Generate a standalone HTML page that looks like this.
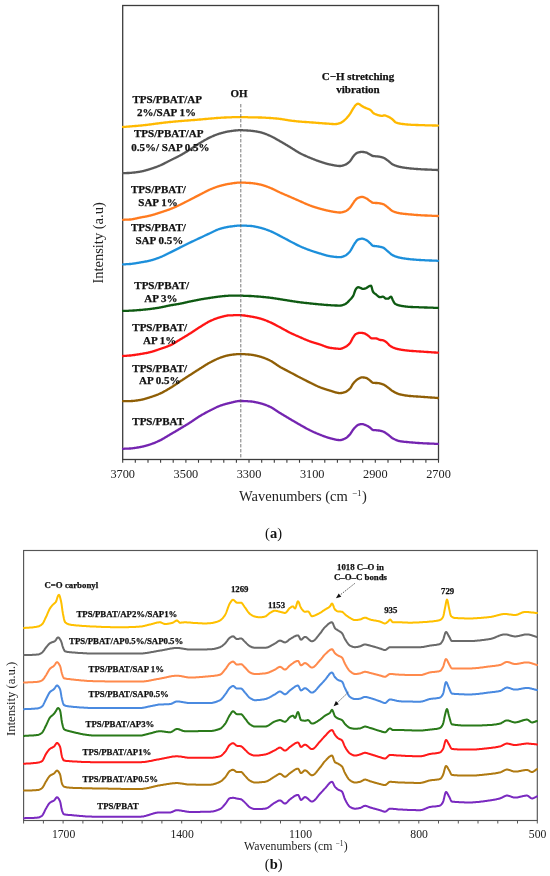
<!DOCTYPE html>
<html><head><meta charset="utf-8"><style>
html,body{margin:0;padding:0;background:#fff;}
body{width:550px;height:876px;overflow:hidden;position:relative;}
svg{position:absolute;left:0;top:0;will-change:transform;}
text{font-family:"Liberation Serif",serif;fill:#111;}
.la{font-weight:bold;font-size:11.0px;stroke:#111;stroke-width:0.25px;}
.lb{font-weight:bold;font-size:8.8px;stroke:#111;stroke-width:0.25px;}
.tk{font-size:12.3px;fill:#222;}
.tkb{font-size:11.7px;fill:#222;}
.ax{font-size:14.5px;fill:#222;}
.axb{font-size:11.8px;fill:#222;}
.axb2{font-size:12.7px;fill:#222;}
.cap{font-size:14.5px;fill:#111;}
</style></head><body>
<svg width="550" height="876" viewBox="0 0 550 876">
<rect x="122.7" y="5.5" width="315.8" height="454" fill="none" stroke="#3c3c3c" stroke-width="1.3"/>
<path d="M122.7,459.5 V462.8 M135.3,459.5 V462.8 M148.0,459.5 V462.8 M160.6,459.5 V462.8 M173.2,459.5 V462.8 M185.9,459.5 V462.8 M198.5,459.5 V462.8 M211.1,459.5 V462.8 M223.8,459.5 V462.8 M236.4,459.5 V462.8 M249.0,459.5 V462.8 M261.7,459.5 V462.8 M274.3,459.5 V462.8 M286.9,459.5 V462.8 M299.5,459.5 V462.8 M312.2,459.5 V462.8 M324.8,459.5 V462.8 M337.4,459.5 V462.8 M350.1,459.5 V462.8 M362.7,459.5 V462.8 M375.3,459.5 V462.8 M388.0,459.5 V462.8 M400.6,459.5 V462.8 M413.2,459.5 V462.8 M425.9,459.5 V462.8 M438.5,459.5 V462.8" stroke="#3c3c3c" stroke-width="1.1" fill="none"/>
<path d="M123.0,127.0 L123.5,127.0 L124.0,126.9 L124.5,126.9 L125.0,126.8 L125.5,126.8 L126.0,126.8 L126.5,126.7 L127.0,126.7 L127.5,126.6 L128.0,126.6 L128.5,126.6 L129.0,126.5 L129.5,126.5 L130.0,126.4 L130.5,126.4 L131.0,126.4 L131.5,126.3 L132.0,126.3 L132.5,126.2 L133.0,126.2 L133.5,126.2 L134.0,126.1 L134.5,126.1 L135.0,126.0 L135.5,126.0 L136.0,126.0 L136.5,125.9 L137.0,125.9 L137.5,125.8 L138.0,125.8 L138.5,125.7 L139.0,125.7 L139.5,125.6 L140.0,125.6 L140.5,125.6 L141.0,125.5 L141.5,125.5 L142.0,125.4 L142.5,125.3 L143.0,125.3 L143.5,125.2 L144.0,125.2 L144.5,125.1 L145.0,125.1 L145.5,125.0 L146.0,125.0 L146.5,124.9 L147.0,124.8 L147.5,124.8 L148.0,124.7 L148.5,124.6 L149.0,124.6 L149.5,124.5 L150.0,124.5 L150.5,124.4 L151.0,124.3 L151.5,124.3 L152.0,124.2 L152.5,124.1 L153.0,124.1 L153.5,124.0 L154.0,123.9 L154.5,123.9 L155.0,123.8 L155.5,123.7 L156.0,123.7 L156.5,123.6 L157.0,123.5 L157.5,123.5 L158.0,123.4 L158.5,123.4 L159.0,123.3 L159.5,123.2 L160.0,123.2 L160.5,123.1 L161.0,123.0 L161.5,123.0 L162.0,122.9 L162.5,122.8 L163.0,122.8 L163.5,122.7 L164.0,122.7 L164.5,122.6 L165.0,122.5 L165.5,122.5 L166.0,122.4 L166.5,122.4 L167.0,122.3 L167.5,122.3 L168.0,122.2 L168.5,122.2 L169.0,122.1 L169.5,122.0 L170.0,122.0 L170.5,122.0 L171.0,121.9 L171.5,121.9 L172.0,121.8 L172.5,121.8 L173.0,121.7 L173.5,121.7 L174.0,121.6 L174.5,121.6 L175.0,121.5 L175.5,121.5 L176.0,121.4 L176.5,121.4 L177.0,121.4 L177.5,121.3 L178.0,121.3 L178.5,121.2 L179.0,121.2 L179.5,121.1 L180.0,121.1 L180.5,121.1 L181.0,121.0 L181.5,121.0 L182.0,120.9 L182.5,120.9 L183.0,120.9 L183.5,120.8 L184.0,120.8 L184.5,120.7 L185.0,120.7 L185.5,120.7 L186.0,120.6 L186.5,120.6 L187.0,120.6 L187.5,120.5 L188.0,120.5 L188.5,120.4 L189.0,120.4 L189.5,120.4 L190.0,120.3 L190.5,120.3 L191.0,120.2 L191.5,120.2 L192.0,120.2 L192.5,120.1 L193.0,120.1 L193.5,120.0 L194.0,120.0 L194.5,120.0 L195.0,119.9 L195.5,119.9 L196.0,119.8 L196.5,119.8 L197.0,119.8 L197.5,119.7 L198.0,119.7 L198.5,119.6 L199.0,119.6 L199.5,119.5 L200.0,119.5 L200.5,119.5 L201.0,119.4 L201.5,119.4 L202.0,119.3 L202.5,119.3 L203.0,119.2 L203.5,119.2 L204.0,119.1 L204.5,119.1 L205.0,119.0 L205.5,119.0 L206.0,119.0 L206.5,118.9 L207.0,118.9 L207.5,118.8 L208.0,118.8 L208.5,118.7 L209.0,118.7 L209.5,118.6 L210.0,118.6 L210.5,118.6 L211.0,118.5 L211.5,118.5 L212.0,118.4 L212.5,118.4 L213.0,118.3 L213.5,118.3 L214.0,118.3 L214.5,118.2 L215.0,118.2 L215.5,118.1 L216.0,118.1 L216.5,118.0 L217.0,118.0 L217.5,118.0 L218.0,117.9 L218.5,117.9 L219.0,117.9 L219.5,117.8 L220.0,117.8 L220.5,117.8 L221.0,117.7 L221.5,117.7 L222.0,117.7 L222.5,117.6 L223.0,117.6 L223.5,117.6 L224.0,117.6 L224.5,117.5 L225.0,117.5 L225.5,117.5 L226.0,117.5 L226.5,117.4 L227.0,117.4 L227.5,117.4 L228.0,117.4 L228.5,117.3 L229.0,117.3 L229.5,117.3 L230.0,117.3 L230.5,117.3 L231.0,117.3 L231.5,117.3 L232.0,117.2 L232.5,117.2 L233.0,117.2 L233.5,117.2 L234.0,117.2 L234.5,117.2 L235.0,117.2 L235.5,117.2 L236.0,117.1 L236.5,117.1 L237.0,117.1 L237.5,117.1 L238.0,117.1 L238.5,117.1 L239.0,117.1 L239.5,117.1 L240.0,117.1 L240.5,117.1 L241.0,117.1 L241.5,117.1 L242.0,117.1 L242.5,117.1 L243.0,117.1 L243.5,117.1 L244.0,117.2 L244.5,117.2 L245.0,117.2 L245.5,117.2 L246.0,117.2 L246.5,117.2 L247.0,117.2 L247.5,117.2 L248.0,117.3 L248.5,117.3 L249.0,117.3 L249.5,117.3 L250.0,117.3 L250.5,117.3 L251.0,117.3 L251.5,117.3 L252.0,117.3 L252.5,117.3 L253.0,117.4 L253.5,117.4 L254.0,117.4 L254.5,117.4 L255.0,117.4 L255.5,117.4 L256.0,117.4 L256.5,117.4 L257.0,117.4 L257.5,117.4 L258.0,117.4 L258.5,117.5 L259.0,117.5 L259.5,117.5 L260.0,117.5 L260.5,117.5 L261.0,117.5 L261.5,117.5 L262.0,117.6 L262.5,117.6 L263.0,117.6 L263.5,117.6 L264.0,117.7 L264.5,117.7 L265.0,117.7 L265.5,117.7 L266.0,117.8 L266.5,117.8 L267.0,117.8 L267.5,117.8 L268.0,117.9 L268.5,117.9 L269.0,117.9 L269.5,118.0 L270.0,118.0 L270.5,118.0 L271.0,118.1 L271.5,118.1 L272.0,118.1 L272.5,118.2 L273.0,118.2 L273.5,118.3 L274.0,118.3 L274.5,118.3 L275.0,118.4 L275.5,118.4 L276.0,118.5 L276.5,118.5 L277.0,118.6 L277.5,118.6 L278.0,118.7 L278.5,118.7 L279.0,118.8 L279.5,118.8 L280.0,118.9 L280.5,119.0 L281.0,119.0 L281.5,119.1 L282.0,119.2 L282.5,119.3 L283.0,119.3 L283.5,119.4 L284.0,119.5 L284.5,119.6 L285.0,119.7 L285.5,119.8 L286.0,119.9 L286.5,119.9 L287.0,120.0 L287.5,120.1 L288.0,120.2 L288.5,120.3 L289.0,120.4 L289.5,120.4 L290.0,120.5 L290.5,120.6 L291.0,120.6 L291.5,120.7 L292.0,120.8 L292.5,120.8 L293.0,120.9 L293.5,120.9 L294.0,121.0 L294.5,121.0 L295.0,121.1 L295.5,121.2 L296.0,121.2 L296.5,121.3 L297.0,121.3 L297.5,121.4 L298.0,121.4 L298.5,121.5 L299.0,121.5 L299.5,121.6 L300.0,121.6 L300.5,121.6 L301.0,121.7 L301.5,121.7 L302.0,121.8 L302.5,121.8 L303.0,121.8 L303.5,121.9 L304.0,121.9 L304.5,121.9 L305.0,122.0 L305.5,122.0 L306.0,122.0 L306.5,122.1 L307.0,122.1 L307.5,122.1 L308.0,122.2 L308.5,122.2 L309.0,122.2 L309.5,122.3 L310.0,122.3 L310.5,122.3 L311.0,122.4 L311.5,122.4 L312.0,122.5 L312.5,122.5 L313.0,122.5 L313.5,122.6 L314.0,122.6 L314.5,122.7 L315.0,122.7 L315.5,122.7 L316.0,122.8 L316.5,122.8 L317.0,122.9 L317.5,122.9 L318.0,122.9 L318.5,123.0 L319.0,123.0 L319.5,123.1 L320.0,123.1 L320.5,123.1 L321.0,123.2 L321.5,123.2 L322.0,123.2 L322.5,123.3 L323.0,123.3 L323.5,123.4 L324.0,123.4 L324.5,123.4 L325.0,123.5 L325.5,123.5 L326.0,123.5 L326.5,123.6 L327.0,123.6 L327.5,123.6 L328.0,123.7 L328.5,123.7 L329.0,123.7 L329.5,123.8 L330.0,123.8 L330.5,123.8 L331.0,123.9 L331.5,123.9 L332.0,124.0 L332.5,124.0 L333.0,124.0 L333.5,124.1 L334.0,124.1 L334.5,124.1 L335.0,124.1 L335.5,124.1 L336.0,124.0 L336.5,124.0 L337.0,123.9 L337.5,123.8 L338.0,123.7 L338.5,123.5 L339.0,123.4 L339.5,123.3 L340.0,123.1 L340.5,122.9 L341.0,122.7 L341.5,122.4 L342.0,122.1 L342.5,121.7 L343.0,121.4 L343.5,121.0 L344.0,120.6 L344.5,120.1 L345.0,119.7 L345.5,119.3 L346.0,118.8 L346.5,118.3 L347.0,117.7 L347.5,117.1 L348.0,116.5 L348.5,115.9 L349.0,115.3 L349.5,114.6 L350.0,113.9 L350.5,113.1 L351.0,112.3 L351.5,111.4 L352.0,110.5 L352.5,109.6 L353.0,108.8 L353.5,108.0 L354.0,107.3 L354.5,106.5 L355.0,105.8 L355.5,105.3 L356.0,104.8 L356.5,104.4 L357.0,104.1 L357.5,103.8 L358.0,103.7 L358.5,103.8 L359.0,104.0 L359.5,104.3 L360.0,104.6 L360.5,105.0 L361.0,105.4 L361.5,105.8 L362.0,106.1 L362.5,106.4 L363.0,106.6 L363.5,106.9 L364.0,107.2 L364.5,107.4 L365.0,107.6 L365.5,107.9 L366.0,108.1 L366.5,108.3 L367.0,108.5 L367.5,108.7 L368.0,108.8 L368.5,109.0 L369.0,109.2 L369.5,109.4 L370.0,109.7 L370.5,110.0 L371.0,110.5 L371.5,111.0 L372.0,111.6 L372.5,112.2 L373.0,112.7 L373.5,113.2 L374.0,113.5 L374.5,113.8 L375.0,114.0 L375.5,114.2 L376.0,114.4 L376.5,114.6 L377.0,114.8 L377.5,115.0 L378.0,115.1 L378.5,115.2 L379.0,115.4 L379.5,115.5 L380.0,115.6 L380.5,115.7 L381.0,115.8 L381.5,115.9 L382.0,115.9 L382.5,115.8 L383.0,115.7 L383.5,115.5 L384.0,115.4 L384.5,115.4 L385.0,115.5 L385.5,115.6 L386.0,115.8 L386.5,116.0 L387.0,116.2 L387.5,116.4 L388.0,116.6 L388.5,116.8 L389.0,117.1 L389.5,117.3 L390.0,117.6 L390.5,118.0 L391.0,118.3 L391.5,118.6 L392.0,119.0 L392.5,119.4 L393.0,119.9 L393.5,120.4 L394.0,120.9 L394.5,121.4 L395.0,121.9 L395.5,122.2 L396.0,122.5 L396.5,122.7 L397.0,122.9 L397.5,123.0 L398.0,123.2 L398.5,123.3 L399.0,123.4 L399.5,123.5 L400.0,123.6 L400.5,123.7 L401.0,123.8 L401.5,123.8 L402.0,123.9 L402.5,124.0 L403.0,124.0 L403.5,124.1 L404.0,124.2 L404.5,124.2 L405.0,124.3 L405.5,124.3 L406.0,124.4 L406.5,124.4 L407.0,124.5 L407.5,124.5 L408.0,124.6 L408.5,124.6 L409.0,124.6 L409.5,124.7 L410.0,124.7 L410.5,124.7 L411.0,124.8 L411.5,124.8 L412.0,124.8 L412.5,124.8 L413.0,124.9 L413.5,124.9 L414.0,124.9 L414.5,124.9 L415.0,124.9 L415.5,124.9 L416.0,125.0 L416.5,125.0 L417.0,125.0 L417.5,125.0 L418.0,125.0 L418.5,125.1 L419.0,125.1 L419.5,125.1 L420.0,125.1 L420.5,125.1 L421.0,125.1 L421.5,125.1 L422.0,125.2 L422.5,125.2 L423.0,125.2 L423.5,125.2 L424.0,125.2 L424.5,125.2 L425.0,125.3 L425.5,125.3 L426.0,125.3 L426.5,125.3 L427.0,125.3 L427.5,125.3 L428.0,125.3 L428.5,125.3 L429.0,125.4 L429.5,125.4 L430.0,125.4 L430.5,125.4 L431.0,125.4 L431.5,125.4 L432.0,125.4 L432.5,125.5 L433.0,125.5 L433.5,125.5 L434.0,125.5 L434.5,125.5 L435.0,125.5 L435.5,125.5 L436.0,125.5 L436.5,125.6 L437.0,125.6 L437.5,125.6 L438.0,125.6" stroke="#FFB900" stroke-width="2.3" fill="none" stroke-linejoin="round" stroke-linecap="round"/>
<path d="M123.0,173.2 L123.5,173.2 L124.0,173.2 L124.5,173.1 L125.0,173.1 L125.5,173.1 L126.0,173.1 L126.5,173.1 L127.0,173.0 L127.5,173.0 L128.0,173.0 L128.5,173.0 L129.0,173.0 L129.5,172.9 L130.0,172.9 L130.5,172.9 L131.0,172.8 L131.5,172.8 L132.0,172.7 L132.5,172.7 L133.0,172.7 L133.5,172.6 L134.0,172.5 L134.5,172.5 L135.0,172.4 L135.5,172.4 L136.0,172.3 L136.5,172.2 L137.0,172.2 L137.5,172.1 L138.0,172.0 L138.5,171.9 L139.0,171.9 L139.5,171.8 L140.0,171.7 L140.5,171.6 L141.0,171.5 L141.5,171.4 L142.0,171.3 L142.5,171.2 L143.0,171.1 L143.5,171.0 L144.0,170.8 L144.5,170.7 L145.0,170.6 L145.5,170.4 L146.0,170.3 L146.5,170.1 L147.0,170.0 L147.5,169.9 L148.0,169.7 L148.5,169.6 L149.0,169.4 L149.5,169.3 L150.0,169.1 L150.5,168.9 L151.0,168.8 L151.5,168.6 L152.0,168.5 L152.5,168.3 L153.0,168.1 L153.5,168.0 L154.0,167.8 L154.5,167.6 L155.0,167.4 L155.5,167.3 L156.0,167.1 L156.5,166.9 L157.0,166.7 L157.5,166.5 L158.0,166.3 L158.5,166.1 L159.0,165.9 L159.5,165.7 L160.0,165.5 L160.5,165.3 L161.0,165.1 L161.5,164.8 L162.0,164.6 L162.5,164.4 L163.0,164.1 L163.5,163.9 L164.0,163.6 L164.5,163.4 L165.0,163.1 L165.5,162.8 L166.0,162.6 L166.5,162.3 L167.0,162.1 L167.5,161.8 L168.0,161.5 L168.5,161.3 L169.0,161.0 L169.5,160.8 L170.0,160.5 L170.5,160.3 L171.0,160.0 L171.5,159.8 L172.0,159.5 L172.5,159.3 L173.0,159.0 L173.5,158.8 L174.0,158.5 L174.5,158.3 L175.0,158.1 L175.5,157.8 L176.0,157.6 L176.5,157.3 L177.0,157.1 L177.5,156.8 L178.0,156.6 L178.5,156.3 L179.0,156.0 L179.5,155.8 L180.0,155.5 L180.5,155.2 L181.0,154.9 L181.5,154.7 L182.0,154.4 L182.5,154.1 L183.0,153.8 L183.5,153.5 L184.0,153.2 L184.5,152.9 L185.0,152.6 L185.5,152.3 L186.0,152.0 L186.5,151.7 L187.0,151.4 L187.5,151.1 L188.0,150.7 L188.5,150.4 L189.0,150.1 L189.5,149.8 L190.0,149.5 L190.5,149.2 L191.0,148.9 L191.5,148.5 L192.0,148.2 L192.5,147.9 L193.0,147.6 L193.5,147.2 L194.0,146.9 L194.5,146.6 L195.0,146.2 L195.5,145.9 L196.0,145.6 L196.5,145.2 L197.0,144.9 L197.5,144.6 L198.0,144.2 L198.5,143.9 L199.0,143.6 L199.5,143.3 L200.0,143.0 L200.5,142.7 L201.0,142.4 L201.5,142.1 L202.0,141.8 L202.5,141.5 L203.0,141.2 L203.5,140.9 L204.0,140.6 L204.5,140.3 L205.0,140.0 L205.5,139.7 L206.0,139.5 L206.5,139.2 L207.0,138.9 L207.5,138.6 L208.0,138.4 L208.5,138.1 L209.0,137.9 L209.5,137.6 L210.0,137.4 L210.5,137.2 L211.0,136.9 L211.5,136.7 L212.0,136.5 L212.5,136.3 L213.0,136.1 L213.5,135.9 L214.0,135.6 L214.5,135.4 L215.0,135.2 L215.5,135.0 L216.0,134.8 L216.5,134.7 L217.0,134.5 L217.5,134.3 L218.0,134.1 L218.5,134.0 L219.0,133.8 L219.5,133.6 L220.0,133.5 L220.5,133.4 L221.0,133.2 L221.5,133.1 L222.0,132.9 L222.5,132.8 L223.0,132.7 L223.5,132.5 L224.0,132.4 L224.5,132.3 L225.0,132.2 L225.5,132.0 L226.0,131.9 L226.5,131.8 L227.0,131.7 L227.5,131.6 L228.0,131.5 L228.5,131.4 L229.0,131.4 L229.5,131.3 L230.0,131.2 L230.5,131.1 L231.0,131.1 L231.5,131.0 L232.0,130.9 L232.5,130.8 L233.0,130.8 L233.5,130.7 L234.0,130.6 L234.5,130.6 L235.0,130.5 L235.5,130.5 L236.0,130.4 L236.5,130.4 L237.0,130.3 L237.5,130.3 L238.0,130.3 L238.5,130.2 L239.0,130.2 L239.5,130.2 L240.0,130.2 L240.5,130.2 L241.0,130.2 L241.5,130.2 L242.0,130.2 L242.5,130.2 L243.0,130.3 L243.5,130.3 L244.0,130.3 L244.5,130.3 L245.0,130.4 L245.5,130.4 L246.0,130.4 L246.5,130.4 L247.0,130.5 L247.5,130.5 L248.0,130.6 L248.5,130.6 L249.0,130.6 L249.5,130.7 L250.0,130.7 L250.5,130.7 L251.0,130.8 L251.5,130.8 L252.0,130.9 L252.5,130.9 L253.0,131.0 L253.5,131.1 L254.0,131.1 L254.5,131.2 L255.0,131.3 L255.5,131.4 L256.0,131.4 L256.5,131.5 L257.0,131.6 L257.5,131.7 L258.0,131.8 L258.5,131.9 L259.0,132.0 L259.5,132.1 L260.0,132.2 L260.5,132.3 L261.0,132.4 L261.5,132.6 L262.0,132.7 L262.5,132.9 L263.0,133.0 L263.5,133.2 L264.0,133.4 L264.5,133.5 L265.0,133.7 L265.5,133.9 L266.0,134.1 L266.5,134.3 L267.0,134.5 L267.5,134.7 L268.0,134.9 L268.5,135.2 L269.0,135.4 L269.5,135.6 L270.0,135.8 L270.5,136.0 L271.0,136.3 L271.5,136.5 L272.0,136.7 L272.5,137.0 L273.0,137.2 L273.5,137.5 L274.0,137.8 L274.5,138.1 L275.0,138.3 L275.5,138.6 L276.0,138.9 L276.5,139.2 L277.0,139.5 L277.5,139.8 L278.0,140.1 L278.5,140.3 L279.0,140.6 L279.5,140.9 L280.0,141.2 L280.5,141.5 L281.0,141.8 L281.5,142.1 L282.0,142.3 L282.5,142.6 L283.0,142.9 L283.5,143.2 L284.0,143.5 L284.5,143.8 L285.0,144.1 L285.5,144.4 L286.0,144.7 L286.5,145.0 L287.0,145.3 L287.5,145.6 L288.0,145.9 L288.5,146.2 L289.0,146.5 L289.5,146.8 L290.0,147.1 L290.5,147.4 L291.0,147.7 L291.5,148.0 L292.0,148.3 L292.5,148.7 L293.0,149.0 L293.5,149.3 L294.0,149.6 L294.5,149.9 L295.0,150.2 L295.5,150.6 L296.0,150.9 L296.5,151.2 L297.0,151.5 L297.5,151.8 L298.0,152.1 L298.5,152.4 L299.0,152.7 L299.5,152.9 L300.0,153.2 L300.5,153.5 L301.0,153.7 L301.5,154.0 L302.0,154.2 L302.5,154.5 L303.0,154.7 L303.5,154.9 L304.0,155.2 L304.5,155.4 L305.0,155.6 L305.5,155.9 L306.0,156.1 L306.5,156.3 L307.0,156.5 L307.5,156.7 L308.0,157.0 L308.5,157.2 L309.0,157.4 L309.5,157.6 L310.0,157.8 L310.5,158.0 L311.0,158.2 L311.5,158.4 L312.0,158.6 L312.5,158.8 L313.0,159.0 L313.5,159.2 L314.0,159.4 L314.5,159.6 L315.0,159.8 L315.5,160.0 L316.0,160.2 L316.5,160.4 L317.0,160.6 L317.5,160.7 L318.0,160.9 L318.5,161.1 L319.0,161.3 L319.5,161.4 L320.0,161.6 L320.5,161.8 L321.0,161.9 L321.5,162.1 L322.0,162.3 L322.5,162.4 L323.0,162.6 L323.5,162.7 L324.0,162.9 L324.5,163.1 L325.0,163.2 L325.5,163.4 L326.0,163.5 L326.5,163.7 L327.0,163.8 L327.5,163.9 L328.0,164.1 L328.5,164.2 L329.0,164.3 L329.5,164.4 L330.0,164.5 L330.5,164.6 L331.0,164.7 L331.5,164.8 L332.0,164.9 L332.5,165.0 L333.0,165.1 L333.5,165.2 L334.0,165.3 L334.5,165.4 L335.0,165.5 L335.5,165.6 L336.0,165.7 L336.5,165.7 L337.0,165.8 L337.5,165.9 L338.0,165.9 L338.5,165.9 L339.0,166.0 L339.5,166.0 L340.0,166.0 L340.5,166.0 L341.0,165.9 L341.5,165.9 L342.0,165.8 L342.5,165.6 L343.0,165.5 L343.5,165.3 L344.0,165.2 L344.5,165.0 L345.0,164.8 L345.5,164.6 L346.0,164.4 L346.5,164.1 L347.0,163.8 L347.5,163.4 L348.0,163.0 L348.5,162.6 L349.0,162.2 L349.5,161.7 L350.0,161.2 L350.5,160.6 L351.0,159.9 L351.5,159.1 L352.0,158.3 L352.5,157.5 L353.0,156.8 L353.5,156.2 L354.0,155.6 L354.5,155.0 L355.0,154.5 L355.5,154.0 L356.0,153.6 L356.5,153.3 L357.0,152.9 L357.5,152.7 L358.0,152.5 L358.5,152.4 L359.0,152.3 L359.5,152.2 L360.0,152.1 L360.5,152.0 L361.0,151.9 L361.5,151.9 L362.0,151.9 L362.5,151.9 L363.0,152.0 L363.5,152.0 L364.0,152.1 L364.5,152.2 L365.0,152.3 L365.5,152.4 L366.0,152.5 L366.5,152.6 L367.0,152.8 L367.5,153.1 L368.0,153.4 L368.5,153.7 L369.0,153.9 L369.5,154.2 L370.0,154.5 L370.5,154.8 L371.0,155.1 L371.5,155.4 L372.0,155.6 L372.5,155.9 L373.0,156.0 L373.5,156.1 L374.0,156.1 L374.5,156.2 L375.0,156.2 L375.5,156.3 L376.0,156.3 L376.5,156.3 L377.0,156.4 L377.5,156.4 L378.0,156.5 L378.5,156.6 L379.0,156.7 L379.5,156.7 L380.0,156.8 L380.5,156.9 L381.0,157.0 L381.5,157.2 L382.0,157.3 L382.5,157.4 L383.0,157.6 L383.5,157.8 L384.0,158.0 L384.5,158.3 L385.0,158.6 L385.5,158.9 L386.0,159.3 L386.5,159.6 L387.0,160.0 L387.5,160.3 L388.0,160.7 L388.5,161.1 L389.0,161.5 L389.5,161.9 L390.0,162.3 L390.5,162.8 L391.0,163.2 L391.5,163.6 L392.0,164.0 L392.5,164.3 L393.0,164.6 L393.5,164.8 L394.0,165.0 L394.5,165.3 L395.0,165.5 L395.5,165.6 L396.0,165.8 L396.5,166.0 L397.0,166.1 L397.5,166.3 L398.0,166.4 L398.5,166.6 L399.0,166.7 L399.5,166.8 L400.0,166.9 L400.5,167.0 L401.0,167.1 L401.5,167.2 L402.0,167.3 L402.5,167.4 L403.0,167.5 L403.5,167.6 L404.0,167.6 L404.5,167.7 L405.0,167.8 L405.5,167.9 L406.0,167.9 L406.5,168.0 L407.0,168.1 L407.5,168.1 L408.0,168.2 L408.5,168.2 L409.0,168.3 L409.5,168.3 L410.0,168.4 L410.5,168.5 L411.0,168.5 L411.5,168.6 L412.0,168.6 L412.5,168.6 L413.0,168.7 L413.5,168.7 L414.0,168.8 L414.5,168.8 L415.0,168.9 L415.5,168.9 L416.0,168.9 L416.5,169.0 L417.0,169.0 L417.5,169.0 L418.0,169.1 L418.5,169.1 L419.0,169.1 L419.5,169.2 L420.0,169.2 L420.5,169.2 L421.0,169.3 L421.5,169.3 L422.0,169.3 L422.5,169.3 L423.0,169.4 L423.5,169.4 L424.0,169.4 L424.5,169.4 L425.0,169.5 L425.5,169.5 L426.0,169.5 L426.5,169.5 L427.0,169.5 L427.5,169.6 L428.0,169.6 L428.5,169.6 L429.0,169.6 L429.5,169.7 L430.0,169.7 L430.5,169.7 L431.0,169.7 L431.5,169.7 L432.0,169.8 L432.5,169.8 L433.0,169.8 L433.5,169.8 L434.0,169.8 L434.5,169.9 L435.0,169.9 L435.5,169.9 L436.0,169.9 L436.5,169.9 L437.0,170.0 L437.5,170.0 L438.0,170.0" stroke="#595959" stroke-width="2.3" fill="none" stroke-linejoin="round" stroke-linecap="round"/>
<path d="M123.0,219.8 L123.5,219.8 L124.0,219.8 L124.5,219.7 L125.0,219.7 L125.5,219.7 L126.0,219.7 L126.5,219.7 L127.0,219.7 L127.5,219.6 L128.0,219.6 L128.5,219.6 L129.0,219.6 L129.5,219.5 L130.0,219.5 L130.5,219.5 L131.0,219.4 L131.5,219.3 L132.0,219.3 L132.5,219.2 L133.0,219.1 L133.5,219.0 L134.0,218.9 L134.5,218.8 L135.0,218.7 L135.5,218.6 L136.0,218.5 L136.5,218.4 L137.0,218.3 L137.5,218.1 L138.0,218.0 L138.5,217.9 L139.0,217.8 L139.5,217.7 L140.0,217.6 L140.5,217.5 L141.0,217.4 L141.5,217.3 L142.0,217.2 L142.5,217.1 L143.0,217.0 L143.5,216.9 L144.0,216.8 L144.5,216.8 L145.0,216.7 L145.5,216.6 L146.0,216.5 L146.5,216.4 L147.0,216.3 L147.5,216.2 L148.0,216.1 L148.5,215.9 L149.0,215.8 L149.5,215.7 L150.0,215.6 L150.5,215.5 L151.0,215.4 L151.5,215.2 L152.0,215.1 L152.5,214.9 L153.0,214.8 L153.5,214.7 L154.0,214.5 L154.5,214.4 L155.0,214.2 L155.5,214.0 L156.0,213.9 L156.5,213.7 L157.0,213.6 L157.5,213.4 L158.0,213.2 L158.5,213.1 L159.0,212.9 L159.5,212.8 L160.0,212.6 L160.5,212.4 L161.0,212.3 L161.5,212.1 L162.0,212.0 L162.5,211.8 L163.0,211.6 L163.5,211.5 L164.0,211.3 L164.5,211.1 L165.0,211.0 L165.5,210.8 L166.0,210.6 L166.5,210.5 L167.0,210.3 L167.5,210.1 L168.0,209.9 L168.5,209.8 L169.0,209.6 L169.5,209.4 L170.0,209.2 L170.5,209.0 L171.0,208.8 L171.5,208.6 L172.0,208.4 L172.5,208.2 L173.0,208.0 L173.5,207.8 L174.0,207.6 L174.5,207.3 L175.0,207.1 L175.5,206.9 L176.0,206.7 L176.5,206.4 L177.0,206.2 L177.5,206.0 L178.0,205.7 L178.5,205.5 L179.0,205.3 L179.5,205.0 L180.0,204.8 L180.5,204.6 L181.0,204.3 L181.5,204.1 L182.0,203.8 L182.5,203.6 L183.0,203.3 L183.5,203.1 L184.0,202.8 L184.5,202.6 L185.0,202.3 L185.5,202.0 L186.0,201.8 L186.5,201.5 L187.0,201.3 L187.5,201.0 L188.0,200.7 L188.5,200.5 L189.0,200.2 L189.5,200.0 L190.0,199.7 L190.5,199.4 L191.0,199.2 L191.5,198.9 L192.0,198.7 L192.5,198.4 L193.0,198.2 L193.5,197.9 L194.0,197.7 L194.5,197.4 L195.0,197.1 L195.5,196.9 L196.0,196.6 L196.5,196.4 L197.0,196.1 L197.5,195.9 L198.0,195.6 L198.5,195.4 L199.0,195.1 L199.5,194.9 L200.0,194.6 L200.5,194.3 L201.0,194.1 L201.5,193.8 L202.0,193.6 L202.5,193.3 L203.0,193.0 L203.5,192.7 L204.0,192.5 L204.5,192.2 L205.0,191.9 L205.5,191.7 L206.0,191.4 L206.5,191.2 L207.0,190.9 L207.5,190.7 L208.0,190.4 L208.5,190.2 L209.0,189.9 L209.5,189.7 L210.0,189.5 L210.5,189.3 L211.0,189.1 L211.5,188.9 L212.0,188.7 L212.5,188.5 L213.0,188.3 L213.5,188.1 L214.0,187.9 L214.5,187.7 L215.0,187.5 L215.5,187.3 L216.0,187.2 L216.5,187.0 L217.0,186.8 L217.5,186.6 L218.0,186.5 L218.5,186.3 L219.0,186.2 L219.5,186.0 L220.0,185.9 L220.5,185.8 L221.0,185.6 L221.5,185.5 L222.0,185.4 L222.5,185.2 L223.0,185.1 L223.5,185.0 L224.0,184.9 L224.5,184.8 L225.0,184.6 L225.5,184.5 L226.0,184.4 L226.5,184.3 L227.0,184.2 L227.5,184.1 L228.0,184.0 L228.5,183.9 L229.0,183.9 L229.5,183.8 L230.0,183.7 L230.5,183.6 L231.0,183.6 L231.5,183.5 L232.0,183.4 L232.5,183.3 L233.0,183.2 L233.5,183.2 L234.0,183.1 L234.5,183.0 L235.0,183.0 L235.5,182.9 L236.0,182.8 L236.5,182.8 L237.0,182.7 L237.5,182.7 L238.0,182.7 L238.5,182.6 L239.0,182.6 L239.5,182.6 L240.0,182.6 L240.5,182.6 L241.0,182.6 L241.5,182.6 L242.0,182.6 L242.5,182.6 L243.0,182.6 L243.5,182.7 L244.0,182.7 L244.5,182.7 L245.0,182.7 L245.5,182.7 L246.0,182.8 L246.5,182.8 L247.0,182.8 L247.5,182.8 L248.0,182.9 L248.5,182.9 L249.0,182.9 L249.5,183.0 L250.0,183.0 L250.5,183.0 L251.0,183.1 L251.5,183.1 L252.0,183.2 L252.5,183.2 L253.0,183.3 L253.5,183.4 L254.0,183.4 L254.5,183.5 L255.0,183.6 L255.5,183.7 L256.0,183.7 L256.5,183.8 L257.0,183.9 L257.5,184.0 L258.0,184.1 L258.5,184.2 L259.0,184.3 L259.5,184.4 L260.0,184.5 L260.5,184.6 L261.0,184.7 L261.5,184.8 L262.0,185.0 L262.5,185.1 L263.0,185.3 L263.5,185.4 L264.0,185.6 L264.5,185.8 L265.0,185.9 L265.5,186.1 L266.0,186.3 L266.5,186.5 L267.0,186.6 L267.5,186.8 L268.0,187.0 L268.5,187.2 L269.0,187.4 L269.5,187.6 L270.0,187.8 L270.5,188.0 L271.0,188.2 L271.5,188.4 L272.0,188.6 L272.5,188.9 L273.0,189.1 L273.5,189.3 L274.0,189.6 L274.5,189.8 L275.0,190.1 L275.5,190.3 L276.0,190.6 L276.5,190.8 L277.0,191.1 L277.5,191.3 L278.0,191.6 L278.5,191.8 L279.0,192.0 L279.5,192.3 L280.0,192.5 L280.5,192.7 L281.0,192.9 L281.5,193.2 L282.0,193.4 L282.5,193.6 L283.0,193.8 L283.5,194.0 L284.0,194.2 L284.5,194.5 L285.0,194.7 L285.5,194.9 L286.0,195.1 L286.5,195.3 L287.0,195.5 L287.5,195.7 L288.0,195.9 L288.5,196.2 L289.0,196.4 L289.5,196.6 L290.0,196.8 L290.5,197.0 L291.0,197.2 L291.5,197.5 L292.0,197.7 L292.5,197.9 L293.0,198.1 L293.5,198.3 L294.0,198.6 L294.5,198.8 L295.0,199.0 L295.5,199.2 L296.0,199.4 L296.5,199.7 L297.0,199.9 L297.5,200.1 L298.0,200.3 L298.5,200.5 L299.0,200.8 L299.5,201.0 L300.0,201.2 L300.5,201.4 L301.0,201.6 L301.5,201.9 L302.0,202.1 L302.5,202.3 L303.0,202.5 L303.5,202.8 L304.0,203.0 L304.5,203.2 L305.0,203.4 L305.5,203.7 L306.0,203.9 L306.5,204.1 L307.0,204.3 L307.5,204.5 L308.0,204.7 L308.5,204.9 L309.0,205.1 L309.5,205.3 L310.0,205.5 L310.5,205.7 L311.0,205.9 L311.5,206.0 L312.0,206.2 L312.5,206.4 L313.0,206.6 L313.5,206.7 L314.0,206.9 L314.5,207.1 L315.0,207.2 L315.5,207.4 L316.0,207.5 L316.5,207.7 L317.0,207.8 L317.5,208.0 L318.0,208.1 L318.5,208.3 L319.0,208.4 L319.5,208.6 L320.0,208.7 L320.5,208.8 L321.0,209.0 L321.5,209.1 L322.0,209.2 L322.5,209.4 L323.0,209.5 L323.5,209.6 L324.0,209.8 L324.5,209.9 L325.0,210.0 L325.5,210.1 L326.0,210.3 L326.5,210.4 L327.0,210.5 L327.5,210.6 L328.0,210.7 L328.5,210.8 L329.0,210.9 L329.5,211.0 L330.0,211.1 L330.5,211.2 L331.0,211.3 L331.5,211.4 L332.0,211.5 L332.5,211.6 L333.0,211.7 L333.5,211.8 L334.0,211.8 L334.5,211.9 L335.0,212.0 L335.5,212.1 L336.0,212.2 L336.5,212.2 L337.0,212.3 L337.5,212.4 L338.0,212.4 L338.5,212.4 L339.0,212.5 L339.5,212.5 L340.0,212.5 L340.5,212.5 L341.0,212.4 L341.5,212.4 L342.0,212.3 L342.5,212.2 L343.0,212.0 L343.5,211.9 L344.0,211.7 L344.5,211.6 L345.0,211.4 L345.5,211.2 L346.0,211.0 L346.5,210.7 L347.0,210.3 L347.5,210.0 L348.0,209.6 L348.5,209.1 L349.0,208.7 L349.5,208.2 L350.0,207.7 L350.5,207.1 L351.0,206.5 L351.5,205.7 L352.0,204.9 L352.5,204.1 L353.0,203.4 L353.5,202.6 L354.0,201.9 L354.5,201.1 L355.0,200.5 L355.5,200.0 L356.0,199.4 L356.5,198.9 L357.0,198.5 L357.5,198.2 L358.0,197.9 L358.5,197.7 L359.0,197.5 L359.5,197.4 L360.0,197.2 L360.5,197.1 L361.0,197.0 L361.5,196.9 L362.0,196.9 L362.5,196.9 L363.0,197.0 L363.5,197.2 L364.0,197.3 L364.5,197.5 L365.0,197.7 L365.5,198.0 L366.0,198.2 L366.5,198.5 L367.0,198.8 L367.5,199.1 L368.0,199.5 L368.5,199.9 L369.0,200.3 L369.5,200.7 L370.0,201.0 L370.5,201.3 L371.0,201.7 L371.5,202.1 L372.0,202.4 L372.5,202.7 L373.0,202.8 L373.5,202.9 L374.0,202.9 L374.5,202.9 L375.0,202.9 L375.5,203.0 L376.0,203.0 L376.5,203.0 L377.0,203.0 L377.5,203.1 L378.0,203.1 L378.5,203.2 L379.0,203.2 L379.5,203.3 L380.0,203.4 L380.5,203.5 L381.0,203.6 L381.5,203.7 L382.0,203.8 L382.5,204.0 L383.0,204.1 L383.5,204.3 L384.0,204.5 L384.5,204.8 L385.0,205.2 L385.5,205.5 L386.0,205.9 L386.5,206.3 L387.0,206.7 L387.5,207.1 L388.0,207.5 L388.5,207.9 L389.0,208.3 L389.5,208.7 L390.0,209.1 L390.5,209.6 L391.0,210.0 L391.5,210.4 L392.0,210.7 L392.5,211.1 L393.0,211.3 L393.5,211.5 L394.0,211.7 L394.5,211.9 L395.0,212.1 L395.5,212.2 L396.0,212.4 L396.5,212.5 L397.0,212.7 L397.5,212.8 L398.0,212.9 L398.5,213.0 L399.0,213.1 L399.5,213.2 L400.0,213.3 L400.5,213.4 L401.0,213.5 L401.5,213.5 L402.0,213.6 L402.5,213.7 L403.0,213.7 L403.5,213.8 L404.0,213.8 L404.5,213.9 L405.0,213.9 L405.5,214.0 L406.0,214.0 L406.5,214.1 L407.0,214.1 L407.5,214.2 L408.0,214.2 L408.5,214.3 L409.0,214.3 L409.5,214.4 L410.0,214.4 L410.5,214.4 L411.0,214.5 L411.5,214.5 L412.0,214.6 L412.5,214.6 L413.0,214.7 L413.5,214.7 L414.0,214.8 L414.5,214.8 L415.0,214.8 L415.5,214.9 L416.0,214.9 L416.5,215.0 L417.0,215.0 L417.5,215.0 L418.0,215.1 L418.5,215.1 L419.0,215.1 L419.5,215.2 L420.0,215.2 L420.5,215.2 L421.0,215.3 L421.5,215.3 L422.0,215.3 L422.5,215.3 L423.0,215.4 L423.5,215.4 L424.0,215.4 L424.5,215.4 L425.0,215.5 L425.5,215.5 L426.0,215.5 L426.5,215.5 L427.0,215.5 L427.5,215.6 L428.0,215.6 L428.5,215.6 L429.0,215.6 L429.5,215.7 L430.0,215.7 L430.5,215.7 L431.0,215.7 L431.5,215.7 L432.0,215.8 L432.5,215.8 L433.0,215.8 L433.5,215.8 L434.0,215.8 L434.5,215.9 L435.0,215.9 L435.5,215.9 L436.0,215.9 L436.5,215.9 L437.0,216.0 L437.5,216.0 L438.0,216.0" stroke="#FF7A1E" stroke-width="2.3" fill="none" stroke-linejoin="round" stroke-linecap="round"/>
<path d="M123.0,264.4 L123.5,264.4 L124.0,264.3 L124.5,264.3 L125.0,264.3 L125.5,264.3 L126.0,264.2 L126.5,264.2 L127.0,264.2 L127.5,264.2 L128.0,264.1 L128.5,264.1 L129.0,264.1 L129.5,264.0 L130.0,264.0 L130.5,264.0 L131.0,263.9 L131.5,263.9 L132.0,263.8 L132.5,263.7 L133.0,263.7 L133.5,263.6 L134.0,263.5 L134.5,263.4 L135.0,263.4 L135.5,263.3 L136.0,263.2 L136.5,263.1 L137.0,263.0 L137.5,262.9 L138.0,262.8 L138.5,262.8 L139.0,262.7 L139.5,262.6 L140.0,262.5 L140.5,262.4 L141.0,262.3 L141.5,262.2 L142.0,262.2 L142.5,262.1 L143.0,262.0 L143.5,261.9 L144.0,261.8 L144.5,261.7 L145.0,261.6 L145.5,261.5 L146.0,261.5 L146.5,261.4 L147.0,261.3 L147.5,261.2 L148.0,261.1 L148.5,260.9 L149.0,260.8 L149.5,260.7 L150.0,260.6 L150.5,260.5 L151.0,260.3 L151.5,260.2 L152.0,260.1 L152.5,259.9 L153.0,259.8 L153.5,259.6 L154.0,259.5 L154.5,259.3 L155.0,259.1 L155.5,259.0 L156.0,258.8 L156.5,258.6 L157.0,258.4 L157.5,258.2 L158.0,258.1 L158.5,257.9 L159.0,257.7 L159.5,257.5 L160.0,257.3 L160.5,257.1 L161.0,256.9 L161.5,256.7 L162.0,256.5 L162.5,256.2 L163.0,256.0 L163.5,255.8 L164.0,255.6 L164.5,255.3 L165.0,255.1 L165.5,254.8 L166.0,254.6 L166.5,254.3 L167.0,254.1 L167.5,253.8 L168.0,253.6 L168.5,253.3 L169.0,253.1 L169.5,252.8 L170.0,252.6 L170.5,252.4 L171.0,252.1 L171.5,251.9 L172.0,251.6 L172.5,251.4 L173.0,251.1 L173.5,250.9 L174.0,250.6 L174.5,250.4 L175.0,250.1 L175.5,249.9 L176.0,249.6 L176.5,249.4 L177.0,249.1 L177.5,248.9 L178.0,248.6 L178.5,248.4 L179.0,248.1 L179.5,247.9 L180.0,247.6 L180.5,247.3 L181.0,247.1 L181.5,246.8 L182.0,246.6 L182.5,246.3 L183.0,246.1 L183.5,245.8 L184.0,245.6 L184.5,245.3 L185.0,245.1 L185.5,244.8 L186.0,244.6 L186.5,244.3 L187.0,244.1 L187.5,243.8 L188.0,243.6 L188.5,243.3 L189.0,243.1 L189.5,242.8 L190.0,242.6 L190.5,242.4 L191.0,242.1 L191.5,241.9 L192.0,241.6 L192.5,241.4 L193.0,241.2 L193.5,240.9 L194.0,240.7 L194.5,240.5 L195.0,240.2 L195.5,240.0 L196.0,239.8 L196.5,239.5 L197.0,239.3 L197.5,239.1 L198.0,238.8 L198.5,238.6 L199.0,238.4 L199.5,238.1 L200.0,237.9 L200.5,237.7 L201.0,237.4 L201.5,237.2 L202.0,237.0 L202.5,236.7 L203.0,236.5 L203.5,236.2 L204.0,236.0 L204.5,235.8 L205.0,235.5 L205.5,235.3 L206.0,235.1 L206.5,234.8 L207.0,234.6 L207.5,234.4 L208.0,234.1 L208.5,233.9 L209.0,233.7 L209.5,233.4 L210.0,233.2 L210.5,233.0 L211.0,232.7 L211.5,232.5 L212.0,232.3 L212.5,232.0 L213.0,231.8 L213.5,231.5 L214.0,231.3 L214.5,231.0 L215.0,230.8 L215.5,230.6 L216.0,230.3 L216.5,230.1 L217.0,229.9 L217.5,229.7 L218.0,229.5 L218.5,229.3 L219.0,229.1 L219.5,229.0 L220.0,228.8 L220.5,228.7 L221.0,228.5 L221.5,228.4 L222.0,228.2 L222.5,228.1 L223.0,228.0 L223.5,227.9 L224.0,227.7 L224.5,227.6 L225.0,227.5 L225.5,227.4 L226.0,227.3 L226.5,227.2 L227.0,227.1 L227.5,227.0 L228.0,226.9 L228.5,226.8 L229.0,226.7 L229.5,226.7 L230.0,226.6 L230.5,226.5 L231.0,226.5 L231.5,226.4 L232.0,226.3 L232.5,226.3 L233.0,226.2 L233.5,226.1 L234.0,226.1 L234.5,226.0 L235.0,225.9 L235.5,225.9 L236.0,225.8 L236.5,225.8 L237.0,225.7 L237.5,225.7 L238.0,225.7 L238.5,225.6 L239.0,225.6 L239.5,225.6 L240.0,225.6 L240.5,225.6 L241.0,225.6 L241.5,225.6 L242.0,225.6 L242.5,225.6 L243.0,225.6 L243.5,225.6 L244.0,225.7 L244.5,225.7 L245.0,225.7 L245.5,225.7 L246.0,225.7 L246.5,225.7 L247.0,225.8 L247.5,225.8 L248.0,225.8 L248.5,225.8 L249.0,225.8 L249.5,225.9 L250.0,225.9 L250.5,225.9 L251.0,226.0 L251.5,226.0 L252.0,226.1 L252.5,226.1 L253.0,226.2 L253.5,226.3 L254.0,226.4 L254.5,226.5 L255.0,226.6 L255.5,226.7 L256.0,226.8 L256.5,226.9 L257.0,227.0 L257.5,227.1 L258.0,227.2 L258.5,227.3 L259.0,227.5 L259.5,227.6 L260.0,227.7 L260.5,227.8 L261.0,227.9 L261.5,228.1 L262.0,228.2 L262.5,228.4 L263.0,228.5 L263.5,228.7 L264.0,228.8 L264.5,229.0 L265.0,229.1 L265.5,229.3 L266.0,229.5 L266.5,229.7 L267.0,229.9 L267.5,230.0 L268.0,230.2 L268.5,230.4 L269.0,230.6 L269.5,230.8 L270.0,231.0 L270.5,231.2 L271.0,231.4 L271.5,231.6 L272.0,231.9 L272.5,232.1 L273.0,232.3 L273.5,232.6 L274.0,232.8 L274.5,233.1 L275.0,233.3 L275.5,233.6 L276.0,233.8 L276.5,234.1 L277.0,234.3 L277.5,234.6 L278.0,234.9 L278.5,235.1 L279.0,235.4 L279.5,235.6 L280.0,235.9 L280.5,236.2 L281.0,236.4 L281.5,236.7 L282.0,236.9 L282.5,237.2 L283.0,237.5 L283.5,237.7 L284.0,238.0 L284.5,238.3 L285.0,238.5 L285.5,238.8 L286.0,239.1 L286.5,239.3 L287.0,239.6 L287.5,239.9 L288.0,240.1 L288.5,240.4 L289.0,240.7 L289.5,240.9 L290.0,241.2 L290.5,241.5 L291.0,241.7 L291.5,242.0 L292.0,242.3 L292.5,242.5 L293.0,242.8 L293.5,243.0 L294.0,243.3 L294.5,243.6 L295.0,243.8 L295.5,244.1 L296.0,244.4 L296.5,244.6 L297.0,244.9 L297.5,245.1 L298.0,245.4 L298.5,245.6 L299.0,245.8 L299.5,246.1 L300.0,246.3 L300.5,246.5 L301.0,246.7 L301.5,247.0 L302.0,247.2 L302.5,247.4 L303.0,247.6 L303.5,247.8 L304.0,248.0 L304.5,248.2 L305.0,248.4 L305.5,248.6 L306.0,248.8 L306.5,249.0 L307.0,249.2 L307.5,249.4 L308.0,249.6 L308.5,249.8 L309.0,249.9 L309.5,250.1 L310.0,250.3 L310.5,250.5 L311.0,250.7 L311.5,250.8 L312.0,251.0 L312.5,251.2 L313.0,251.3 L313.5,251.5 L314.0,251.7 L314.5,251.8 L315.0,252.0 L315.5,252.1 L316.0,252.3 L316.5,252.4 L317.0,252.6 L317.5,252.8 L318.0,252.9 L318.5,253.1 L319.0,253.2 L319.5,253.4 L320.0,253.5 L320.5,253.6 L321.0,253.8 L321.5,254.0 L322.0,254.1 L322.5,254.3 L323.0,254.4 L323.5,254.6 L324.0,254.7 L324.5,254.9 L325.0,255.0 L325.5,255.2 L326.0,255.3 L326.5,255.5 L327.0,255.6 L327.5,255.7 L328.0,255.8 L328.5,255.9 L329.0,256.0 L329.5,256.1 L330.0,256.2 L330.5,256.3 L331.0,256.3 L331.5,256.4 L332.0,256.5 L332.5,256.6 L333.0,256.6 L333.5,256.7 L334.0,256.8 L334.5,256.8 L335.0,256.9 L335.5,256.9 L336.0,257.0 L336.5,257.0 L337.0,257.1 L337.5,257.1 L338.0,257.1 L338.5,257.2 L339.0,257.2 L339.5,257.2 L340.0,257.2 L340.5,257.2 L341.0,257.1 L341.5,257.0 L342.0,256.9 L342.5,256.7 L343.0,256.5 L343.5,256.4 L344.0,256.1 L344.5,255.9 L345.0,255.7 L345.5,255.5 L346.0,255.2 L346.5,254.8 L347.0,254.4 L347.5,254.0 L348.0,253.5 L348.5,253.1 L349.0,252.5 L349.5,252.0 L350.0,251.4 L350.5,250.7 L351.0,249.9 L351.5,249.0 L352.0,248.1 L352.5,247.2 L353.0,246.3 L353.5,245.4 L354.0,244.6 L354.5,243.7 L355.0,243.0 L355.5,242.3 L356.0,241.6 L356.5,240.9 L357.0,240.4 L357.5,239.9 L358.0,239.6 L358.5,239.4 L359.0,239.2 L359.5,239.1 L360.0,239.0 L360.5,238.8 L361.0,238.8 L361.5,238.7 L362.0,238.7 L362.5,238.7 L363.0,238.8 L363.5,238.9 L364.0,239.1 L364.5,239.3 L365.0,239.5 L365.5,239.7 L366.0,239.9 L366.5,240.2 L367.0,240.5 L367.5,240.8 L368.0,241.2 L368.5,241.7 L369.0,242.1 L369.5,242.6 L370.0,243.0 L370.5,243.5 L371.0,244.1 L371.5,244.6 L372.0,245.2 L372.5,245.6 L373.0,245.8 L373.5,245.9 L374.0,246.0 L374.5,246.0 L375.0,246.1 L375.5,246.1 L376.0,246.2 L376.5,246.2 L377.0,246.3 L377.5,246.3 L378.0,246.4 L378.5,246.5 L379.0,246.6 L379.5,246.7 L380.0,246.8 L380.5,246.9 L381.0,247.0 L381.5,247.1 L382.0,247.3 L382.5,247.4 L383.0,247.6 L383.5,247.8 L384.0,248.1 L384.5,248.5 L385.0,248.9 L385.5,249.3 L386.0,249.7 L386.5,250.2 L387.0,250.7 L387.5,251.1 L388.0,251.5 L388.5,251.9 L389.0,252.3 L389.5,252.8 L390.0,253.2 L390.5,253.6 L391.0,254.1 L391.5,254.5 L392.0,254.8 L392.5,255.1 L393.0,255.4 L393.5,255.6 L394.0,255.8 L394.5,256.1 L395.0,256.3 L395.5,256.4 L396.0,256.6 L396.5,256.8 L397.0,256.9 L397.5,257.1 L398.0,257.2 L398.5,257.4 L399.0,257.5 L399.5,257.6 L400.0,257.7 L400.5,257.8 L401.0,257.9 L401.5,258.0 L402.0,258.1 L402.5,258.2 L403.0,258.3 L403.5,258.4 L404.0,258.4 L404.5,258.5 L405.0,258.6 L405.5,258.7 L406.0,258.7 L406.5,258.8 L407.0,258.9 L407.5,258.9 L408.0,259.0 L408.5,259.0 L409.0,259.1 L409.5,259.1 L410.0,259.2 L410.5,259.3 L411.0,259.3 L411.5,259.4 L412.0,259.4 L412.5,259.4 L413.0,259.5 L413.5,259.5 L414.0,259.6 L414.5,259.6 L415.0,259.7 L415.5,259.7 L416.0,259.7 L416.5,259.8 L417.0,259.8 L417.5,259.8 L418.0,259.9 L418.5,259.9 L419.0,259.9 L419.5,260.0 L420.0,260.0 L420.5,260.0 L421.0,260.1 L421.5,260.1 L422.0,260.1 L422.5,260.1 L423.0,260.2 L423.5,260.2 L424.0,260.2 L424.5,260.2 L425.0,260.3 L425.5,260.3 L426.0,260.3 L426.5,260.3 L427.0,260.3 L427.5,260.4 L428.0,260.4 L428.5,260.4 L429.0,260.4 L429.5,260.5 L430.0,260.5 L430.5,260.5 L431.0,260.5 L431.5,260.5 L432.0,260.6 L432.5,260.6 L433.0,260.6 L433.5,260.6 L434.0,260.6 L434.5,260.7 L435.0,260.7 L435.5,260.7 L436.0,260.7 L436.5,260.7 L437.0,260.8 L437.5,260.8 L438.0,260.8" stroke="#1C8FDB" stroke-width="2.3" fill="none" stroke-linejoin="round" stroke-linecap="round"/>
<path d="M123.0,310.9 L123.5,310.9 L124.0,310.9 L124.5,310.9 L125.0,310.8 L125.5,310.8 L126.0,310.8 L126.5,310.8 L127.0,310.8 L127.5,310.8 L128.0,310.8 L128.5,310.8 L129.0,310.7 L129.5,310.7 L130.0,310.7 L130.5,310.7 L131.0,310.7 L131.5,310.6 L132.0,310.6 L132.5,310.6 L133.0,310.5 L133.5,310.5 L134.0,310.5 L134.5,310.4 L135.0,310.4 L135.5,310.4 L136.0,310.3 L136.5,310.3 L137.0,310.2 L137.5,310.2 L138.0,310.2 L138.5,310.1 L139.0,310.1 L139.5,310.0 L140.0,310.0 L140.5,310.0 L141.0,309.9 L141.5,309.9 L142.0,309.8 L142.5,309.8 L143.0,309.7 L143.5,309.7 L144.0,309.6 L144.5,309.6 L145.0,309.5 L145.5,309.5 L146.0,309.4 L146.5,309.4 L147.0,309.3 L147.5,309.3 L148.0,309.2 L148.5,309.2 L149.0,309.1 L149.5,309.1 L150.0,309.0 L150.5,308.9 L151.0,308.9 L151.5,308.8 L152.0,308.7 L152.5,308.7 L153.0,308.6 L153.5,308.5 L154.0,308.5 L154.5,308.4 L155.0,308.3 L155.5,308.2 L156.0,308.2 L156.5,308.1 L157.0,308.0 L157.5,307.9 L158.0,307.8 L158.5,307.8 L159.0,307.7 L159.5,307.6 L160.0,307.5 L160.5,307.4 L161.0,307.3 L161.5,307.2 L162.0,307.1 L162.5,307.0 L163.0,306.9 L163.5,306.8 L164.0,306.7 L164.5,306.6 L165.0,306.5 L165.5,306.4 L166.0,306.2 L166.5,306.1 L167.0,306.0 L167.5,305.9 L168.0,305.8 L168.5,305.7 L169.0,305.6 L169.5,305.5 L170.0,305.4 L170.5,305.3 L171.0,305.2 L171.5,305.1 L172.0,305.0 L172.5,305.0 L173.0,304.9 L173.5,304.8 L174.0,304.7 L174.5,304.6 L175.0,304.6 L175.5,304.5 L176.0,304.4 L176.5,304.3 L177.0,304.2 L177.5,304.1 L178.0,304.1 L178.5,304.0 L179.0,303.9 L179.5,303.8 L180.0,303.7 L180.5,303.6 L181.0,303.5 L181.5,303.4 L182.0,303.3 L182.5,303.2 L183.0,303.1 L183.5,303.0 L184.0,302.9 L184.5,302.7 L185.0,302.6 L185.5,302.5 L186.0,302.4 L186.5,302.3 L187.0,302.2 L187.5,302.0 L188.0,301.9 L188.5,301.8 L189.0,301.7 L189.5,301.6 L190.0,301.5 L190.5,301.4 L191.0,301.3 L191.5,301.2 L192.0,301.1 L192.5,301.0 L193.0,300.9 L193.5,300.8 L194.0,300.7 L194.5,300.6 L195.0,300.5 L195.5,300.4 L196.0,300.3 L196.5,300.2 L197.0,300.1 L197.5,300.0 L198.0,299.9 L198.5,299.8 L199.0,299.7 L199.5,299.6 L200.0,299.5 L200.5,299.4 L201.0,299.3 L201.5,299.2 L202.0,299.2 L202.5,299.1 L203.0,299.0 L203.5,298.9 L204.0,298.8 L204.5,298.7 L205.0,298.7 L205.5,298.6 L206.0,298.5 L206.5,298.4 L207.0,298.4 L207.5,298.3 L208.0,298.2 L208.5,298.1 L209.0,298.0 L209.5,298.0 L210.0,297.9 L210.5,297.8 L211.0,297.7 L211.5,297.7 L212.0,297.6 L212.5,297.5 L213.0,297.4 L213.5,297.4 L214.0,297.3 L214.5,297.2 L215.0,297.1 L215.5,297.1 L216.0,297.0 L216.5,296.9 L217.0,296.9 L217.5,296.8 L218.0,296.7 L218.5,296.7 L219.0,296.6 L219.5,296.6 L220.0,296.5 L220.5,296.4 L221.0,296.4 L221.5,296.3 L222.0,296.3 L222.5,296.2 L223.0,296.2 L223.5,296.1 L224.0,296.1 L224.5,296.0 L225.0,296.0 L225.5,295.9 L226.0,295.9 L226.5,295.8 L227.0,295.8 L227.5,295.8 L228.0,295.8 L228.5,295.7 L229.0,295.7 L229.5,295.7 L230.0,295.7 L230.5,295.7 L231.0,295.7 L231.5,295.7 L232.0,295.7 L232.5,295.7 L233.0,295.7 L233.5,295.7 L234.0,295.7 L234.5,295.7 L235.0,295.7 L235.5,295.7 L236.0,295.7 L236.5,295.7 L237.0,295.7 L237.5,295.7 L238.0,295.7 L238.5,295.7 L239.0,295.7 L239.5,295.7 L240.0,295.7 L240.5,295.7 L241.0,295.7 L241.5,295.7 L242.0,295.7 L242.5,295.7 L243.0,295.7 L243.5,295.8 L244.0,295.8 L244.5,295.8 L245.0,295.8 L245.5,295.8 L246.0,295.8 L246.5,295.9 L247.0,295.9 L247.5,295.9 L248.0,295.9 L248.5,295.9 L249.0,296.0 L249.5,296.0 L250.0,296.0 L250.5,296.0 L251.0,296.0 L251.5,296.1 L252.0,296.1 L252.5,296.1 L253.0,296.2 L253.5,296.2 L254.0,296.2 L254.5,296.3 L255.0,296.3 L255.5,296.3 L256.0,296.4 L256.5,296.4 L257.0,296.5 L257.5,296.5 L258.0,296.5 L258.5,296.6 L259.0,296.6 L259.5,296.7 L260.0,296.7 L260.5,296.7 L261.0,296.8 L261.5,296.8 L262.0,296.9 L262.5,296.9 L263.0,297.0 L263.5,297.0 L264.0,297.1 L264.5,297.1 L265.0,297.2 L265.5,297.2 L266.0,297.3 L266.5,297.3 L267.0,297.4 L267.5,297.4 L268.0,297.5 L268.5,297.5 L269.0,297.6 L269.5,297.6 L270.0,297.7 L270.5,297.8 L271.0,297.8 L271.5,297.9 L272.0,298.0 L272.5,298.0 L273.0,298.1 L273.5,298.2 L274.0,298.3 L274.5,298.3 L275.0,298.4 L275.5,298.5 L276.0,298.6 L276.5,298.6 L277.0,298.7 L277.5,298.8 L278.0,298.9 L278.5,299.0 L279.0,299.0 L279.5,299.1 L280.0,299.2 L280.5,299.3 L281.0,299.4 L281.5,299.4 L282.0,299.5 L282.5,299.6 L283.0,299.7 L283.5,299.8 L284.0,299.8 L284.5,299.9 L285.0,300.0 L285.5,300.1 L286.0,300.2 L286.5,300.2 L287.0,300.3 L287.5,300.4 L288.0,300.5 L288.5,300.6 L289.0,300.6 L289.5,300.7 L290.0,300.8 L290.5,300.9 L291.0,301.0 L291.5,301.0 L292.0,301.1 L292.5,301.2 L293.0,301.3 L293.5,301.4 L294.0,301.4 L294.5,301.5 L295.0,301.6 L295.5,301.7 L296.0,301.7 L296.5,301.8 L297.0,301.9 L297.5,302.0 L298.0,302.0 L298.5,302.1 L299.0,302.2 L299.5,302.2 L300.0,302.3 L300.5,302.4 L301.0,302.4 L301.5,302.5 L302.0,302.5 L302.5,302.6 L303.0,302.7 L303.5,302.7 L304.0,302.8 L304.5,302.8 L305.0,302.9 L305.5,302.9 L306.0,303.0 L306.5,303.0 L307.0,303.1 L307.5,303.1 L308.0,303.2 L308.5,303.2 L309.0,303.3 L309.5,303.3 L310.0,303.4 L310.5,303.5 L311.0,303.5 L311.5,303.6 L312.0,303.6 L312.5,303.7 L313.0,303.7 L313.5,303.8 L314.0,303.8 L314.5,303.9 L315.0,303.9 L315.5,304.0 L316.0,304.0 L316.5,304.1 L317.0,304.1 L317.5,304.2 L318.0,304.2 L318.5,304.3 L319.0,304.3 L319.5,304.4 L320.0,304.4 L320.5,304.4 L321.0,304.5 L321.5,304.5 L322.0,304.6 L322.5,304.6 L323.0,304.7 L323.5,304.7 L324.0,304.8 L324.5,304.8 L325.0,304.8 L325.5,304.9 L326.0,304.9 L326.5,305.0 L327.0,305.0 L327.5,305.0 L328.0,305.1 L328.5,305.1 L329.0,305.1 L329.5,305.2 L330.0,305.2 L330.5,305.2 L331.0,305.3 L331.5,305.3 L332.0,305.3 L332.5,305.3 L333.0,305.4 L333.5,305.4 L334.0,305.4 L334.5,305.4 L335.0,305.5 L335.5,305.5 L336.0,305.5 L336.5,305.5 L337.0,305.5 L337.5,305.6 L338.0,305.6 L338.5,305.6 L339.0,305.6 L339.5,305.6 L340.0,305.6 L340.5,305.6 L341.0,305.5 L341.5,305.4 L342.0,305.3 L342.5,305.2 L343.0,305.0 L343.5,304.8 L344.0,304.6 L344.5,304.4 L345.0,304.2 L345.5,304.0 L346.0,303.6 L346.5,303.3 L347.0,302.8 L347.5,302.4 L348.0,301.9 L348.5,301.4 L349.0,300.8 L349.5,300.3 L350.0,299.8 L350.5,299.3 L351.0,298.8 L351.5,298.2 L352.0,297.6 L352.5,297.0 L353.0,296.2 L353.5,295.2 L354.0,293.9 L354.5,292.4 L355.0,291.0 L355.5,289.8 L356.0,288.9 L356.5,288.3 L357.0,287.7 L357.5,287.4 L358.0,287.2 L358.5,287.2 L359.0,287.4 L359.5,287.5 L360.0,287.7 L360.5,287.9 L361.0,288.1 L361.5,288.4 L362.0,288.7 L362.5,288.8 L363.0,288.9 L363.5,288.9 L364.0,288.8 L364.5,288.7 L365.0,288.5 L365.5,288.4 L366.0,288.2 L366.5,288.0 L367.0,287.6 L367.5,287.3 L368.0,286.9 L368.5,286.6 L369.0,286.3 L369.5,286.1 L370.0,285.9 L370.5,285.8 L371.0,285.7 L371.5,286.5 L372.0,288.4 L372.5,290.5 L373.0,291.8 L373.5,292.4 L374.0,292.9 L374.5,293.3 L375.0,293.7 L375.5,294.0 L376.0,294.4 L376.5,294.8 L377.0,295.3 L377.5,295.7 L378.0,296.2 L378.5,296.6 L379.0,296.9 L379.5,297.1 L380.0,297.2 L380.5,297.2 L381.0,297.1 L381.5,296.9 L382.0,296.8 L382.5,296.7 L383.0,296.7 L383.5,296.8 L384.0,297.2 L384.5,297.6 L385.0,298.1 L385.5,298.5 L386.0,298.6 L386.5,298.6 L387.0,298.6 L387.5,298.6 L388.0,298.6 L388.5,298.5 L389.0,298.1 L389.5,297.6 L390.0,297.2 L390.5,296.8 L391.0,296.7 L391.5,297.1 L392.0,298.2 L392.5,299.4 L393.0,300.5 L393.5,301.4 L394.0,302.4 L394.5,303.2 L395.0,303.7 L395.5,304.0 L396.0,304.3 L396.5,304.5 L397.0,304.8 L397.5,304.9 L398.0,305.1 L398.5,305.3 L399.0,305.4 L399.5,305.5 L400.0,305.6 L400.5,305.7 L401.0,305.8 L401.5,305.9 L402.0,306.0 L402.5,306.1 L403.0,306.1 L403.5,306.2 L404.0,306.3 L404.5,306.4 L405.0,306.4 L405.5,306.5 L406.0,306.6 L406.5,306.6 L407.0,306.7 L407.5,306.7 L408.0,306.8 L408.5,306.8 L409.0,306.8 L409.5,306.9 L410.0,306.9 L410.5,306.9 L411.0,307.0 L411.5,307.0 L412.0,307.0 L412.5,307.0 L413.0,307.1 L413.5,307.1 L414.0,307.1 L414.5,307.1 L415.0,307.1 L415.5,307.1 L416.0,307.2 L416.5,307.2 L417.0,307.2 L417.5,307.2 L418.0,307.2 L418.5,307.2 L419.0,307.3 L419.5,307.3 L420.0,307.3 L420.5,307.3 L421.0,307.3 L421.5,307.4 L422.0,307.4 L422.5,307.4 L423.0,307.4 L423.5,307.4 L424.0,307.4 L424.5,307.5 L425.0,307.5 L425.5,307.5 L426.0,307.5 L426.5,307.5 L427.0,307.5 L427.5,307.6 L428.0,307.6 L428.5,307.6 L429.0,307.6 L429.5,307.6 L430.0,307.6 L430.5,307.7 L431.0,307.7 L431.5,307.7 L432.0,307.7 L432.5,307.7 L433.0,307.7 L433.5,307.8 L434.0,307.8 L434.5,307.8 L435.0,307.8 L435.5,307.8 L436.0,307.8 L436.5,307.9 L437.0,307.9 L437.5,307.9 L438.0,307.9" stroke="#0E5A12" stroke-width="2.3" fill="none" stroke-linejoin="round" stroke-linecap="round"/>
<path d="M123.0,356.0 L123.5,356.0 L124.0,355.9 L124.5,355.9 L125.0,355.9 L125.5,355.8 L126.0,355.8 L126.5,355.8 L127.0,355.7 L127.5,355.7 L128.0,355.7 L128.5,355.6 L129.0,355.6 L129.5,355.5 L130.0,355.5 L130.5,355.5 L131.0,355.4 L131.5,355.3 L132.0,355.3 L132.5,355.2 L133.0,355.2 L133.5,355.1 L134.0,355.0 L134.5,355.0 L135.0,354.9 L135.5,354.8 L136.0,354.7 L136.5,354.7 L137.0,354.6 L137.5,354.5 L138.0,354.4 L138.5,354.3 L139.0,354.3 L139.5,354.2 L140.0,354.1 L140.5,354.0 L141.0,353.9 L141.5,353.9 L142.0,353.8 L142.5,353.7 L143.0,353.6 L143.5,353.5 L144.0,353.4 L144.5,353.3 L145.0,353.2 L145.5,353.2 L146.0,353.1 L146.5,353.0 L147.0,352.9 L147.5,352.8 L148.0,352.7 L148.5,352.5 L149.0,352.4 L149.5,352.3 L150.0,352.2 L150.5,352.1 L151.0,351.9 L151.5,351.8 L152.0,351.7 L152.5,351.5 L153.0,351.4 L153.5,351.2 L154.0,351.1 L154.5,350.9 L155.0,350.7 L155.5,350.6 L156.0,350.4 L156.5,350.2 L157.0,350.0 L157.5,349.9 L158.0,349.7 L158.5,349.5 L159.0,349.3 L159.5,349.2 L160.0,349.0 L160.5,348.8 L161.0,348.7 L161.5,348.5 L162.0,348.3 L162.5,348.2 L163.0,348.0 L163.5,347.8 L164.0,347.7 L164.5,347.5 L165.0,347.3 L165.5,347.2 L166.0,347.0 L166.5,346.8 L167.0,346.6 L167.5,346.4 L168.0,346.2 L168.5,346.0 L169.0,345.8 L169.5,345.6 L170.0,345.4 L170.5,345.2 L171.0,344.9 L171.5,344.7 L172.0,344.4 L172.5,344.1 L173.0,343.9 L173.5,343.6 L174.0,343.3 L174.5,343.0 L175.0,342.7 L175.5,342.4 L176.0,342.1 L176.5,341.8 L177.0,341.4 L177.5,341.1 L178.0,340.8 L178.5,340.5 L179.0,340.2 L179.5,339.9 L180.0,339.6 L180.5,339.3 L181.0,339.0 L181.5,338.7 L182.0,338.4 L182.5,338.1 L183.0,337.8 L183.5,337.5 L184.0,337.2 L184.5,336.9 L185.0,336.6 L185.5,336.3 L186.0,336.0 L186.5,335.7 L187.0,335.4 L187.5,335.1 L188.0,334.7 L188.5,334.4 L189.0,334.1 L189.5,333.8 L190.0,333.5 L190.5,333.2 L191.0,332.9 L191.5,332.5 L192.0,332.2 L192.5,331.9 L193.0,331.6 L193.5,331.2 L194.0,330.9 L194.5,330.6 L195.0,330.2 L195.5,329.9 L196.0,329.6 L196.5,329.2 L197.0,328.9 L197.5,328.6 L198.0,328.3 L198.5,327.9 L199.0,327.6 L199.5,327.3 L200.0,327.0 L200.5,326.7 L201.0,326.4 L201.5,326.1 L202.0,325.7 L202.5,325.4 L203.0,325.1 L203.5,324.8 L204.0,324.5 L204.5,324.2 L205.0,323.9 L205.5,323.5 L206.0,323.2 L206.5,323.0 L207.0,322.7 L207.5,322.4 L208.0,322.1 L208.5,321.8 L209.0,321.6 L209.5,321.3 L210.0,321.1 L210.5,320.9 L211.0,320.6 L211.5,320.4 L212.0,320.2 L212.5,320.0 L213.0,319.8 L213.5,319.6 L214.0,319.3 L214.5,319.1 L215.0,318.9 L215.5,318.8 L216.0,318.6 L216.5,318.4 L217.0,318.2 L217.5,318.0 L218.0,317.9 L218.5,317.7 L219.0,317.6 L219.5,317.4 L220.0,317.3 L220.5,317.2 L221.0,317.0 L221.5,316.9 L222.0,316.8 L222.5,316.6 L223.0,316.5 L223.5,316.4 L224.0,316.2 L224.5,316.1 L225.0,316.0 L225.5,315.9 L226.0,315.8 L226.5,315.7 L227.0,315.6 L227.5,315.5 L228.0,315.4 L228.5,315.4 L229.0,315.3 L229.5,315.3 L230.0,315.3 L230.5,315.3 L231.0,315.3 L231.5,315.3 L232.0,315.3 L232.5,315.3 L233.0,315.3 L233.5,315.2 L234.0,315.2 L234.5,315.2 L235.0,315.2 L235.5,315.2 L236.0,315.2 L236.5,315.2 L237.0,315.2 L237.5,315.2 L238.0,315.2 L238.5,315.2 L239.0,315.2 L239.5,315.2 L240.0,315.2 L240.5,315.2 L241.0,315.2 L241.5,315.2 L242.0,315.3 L242.5,315.3 L243.0,315.4 L243.5,315.4 L244.0,315.5 L244.5,315.5 L245.0,315.6 L245.5,315.7 L246.0,315.8 L246.5,315.8 L247.0,315.9 L247.5,316.0 L248.0,316.1 L248.5,316.2 L249.0,316.2 L249.5,316.3 L250.0,316.4 L250.5,316.5 L251.0,316.6 L251.5,316.6 L252.0,316.7 L252.5,316.8 L253.0,316.9 L253.5,317.0 L254.0,317.1 L254.5,317.2 L255.0,317.3 L255.5,317.4 L256.0,317.5 L256.5,317.6 L257.0,317.7 L257.5,317.9 L258.0,318.0 L258.5,318.1 L259.0,318.2 L259.5,318.4 L260.0,318.5 L260.5,318.6 L261.0,318.8 L261.5,318.9 L262.0,319.1 L262.5,319.3 L263.0,319.4 L263.5,319.6 L264.0,319.8 L264.5,320.0 L265.0,320.1 L265.5,320.3 L266.0,320.5 L266.5,320.7 L267.0,320.9 L267.5,321.1 L268.0,321.4 L268.5,321.6 L269.0,321.8 L269.5,322.0 L270.0,322.2 L270.5,322.4 L271.0,322.6 L271.5,322.9 L272.0,323.1 L272.5,323.4 L273.0,323.6 L273.5,323.9 L274.0,324.1 L274.5,324.4 L275.0,324.6 L275.5,324.9 L276.0,325.2 L276.5,325.4 L277.0,325.7 L277.5,326.0 L278.0,326.2 L278.5,326.5 L279.0,326.8 L279.5,327.0 L280.0,327.3 L280.5,327.6 L281.0,327.8 L281.5,328.1 L282.0,328.4 L282.5,328.7 L283.0,328.9 L283.5,329.2 L284.0,329.5 L284.5,329.8 L285.0,330.0 L285.5,330.3 L286.0,330.6 L286.5,330.9 L287.0,331.1 L287.5,331.4 L288.0,331.7 L288.5,331.9 L289.0,332.2 L289.5,332.5 L290.0,332.7 L290.5,332.9 L291.0,333.2 L291.5,333.4 L292.0,333.7 L292.5,333.9 L293.0,334.1 L293.5,334.3 L294.0,334.6 L294.5,334.8 L295.0,335.0 L295.5,335.2 L296.0,335.5 L296.5,335.7 L297.0,335.9 L297.5,336.1 L298.0,336.3 L298.5,336.5 L299.0,336.8 L299.5,337.0 L300.0,337.2 L300.5,337.4 L301.0,337.6 L301.5,337.9 L302.0,338.1 L302.5,338.3 L303.0,338.5 L303.5,338.7 L304.0,339.0 L304.5,339.2 L305.0,339.4 L305.5,339.6 L306.0,339.8 L306.5,340.0 L307.0,340.2 L307.5,340.4 L308.0,340.6 L308.5,340.8 L309.0,341.0 L309.5,341.2 L310.0,341.4 L310.5,341.6 L311.0,341.7 L311.5,341.9 L312.0,342.1 L312.5,342.2 L313.0,342.4 L313.5,342.5 L314.0,342.7 L314.5,342.8 L315.0,343.0 L315.5,343.1 L316.0,343.3 L316.5,343.4 L317.0,343.6 L317.5,343.7 L318.0,343.9 L318.5,344.0 L319.0,344.2 L319.5,344.3 L320.0,344.5 L320.5,344.7 L321.0,344.8 L321.5,345.0 L322.0,345.2 L322.5,345.4 L323.0,345.6 L323.5,345.8 L324.0,346.0 L324.5,346.2 L325.0,346.4 L325.5,346.5 L326.0,346.7 L326.5,346.9 L327.0,347.1 L327.5,347.2 L328.0,347.4 L328.5,347.5 L329.0,347.6 L329.5,347.7 L330.0,347.8 L330.5,347.9 L331.0,348.0 L331.5,348.0 L332.0,348.1 L332.5,348.2 L333.0,348.2 L333.5,348.3 L334.0,348.4 L334.5,348.4 L335.0,348.5 L335.5,348.5 L336.0,348.6 L336.5,348.6 L337.0,348.7 L337.5,348.7 L338.0,348.7 L338.5,348.8 L339.0,348.8 L339.5,348.8 L340.0,348.8 L340.5,348.8 L341.0,348.7 L341.5,348.6 L342.0,348.4 L342.5,348.3 L343.0,348.0 L343.5,347.8 L344.0,347.6 L344.5,347.3 L345.0,347.1 L345.5,346.8 L346.0,346.6 L346.5,346.2 L347.0,345.9 L347.5,345.5 L348.0,345.0 L348.5,344.6 L349.0,344.1 L349.5,343.6 L350.0,343.0 L350.5,342.3 L351.0,341.4 L351.5,340.4 L352.0,339.4 L352.5,338.4 L353.0,337.6 L353.5,336.9 L354.0,336.1 L354.5,335.4 L355.0,334.8 L355.5,334.3 L356.0,334.0 L356.5,333.8 L357.0,333.5 L357.5,333.3 L358.0,333.2 L358.5,333.0 L359.0,332.9 L359.5,332.8 L360.0,332.8 L360.5,332.8 L361.0,332.8 L361.5,332.9 L362.0,332.9 L362.5,333.0 L363.0,333.1 L363.5,333.2 L364.0,333.3 L364.5,333.4 L365.0,333.6 L365.5,333.9 L366.0,334.2 L366.5,334.5 L367.0,334.8 L367.5,335.2 L368.0,335.5 L368.5,335.9 L369.0,336.3 L369.5,336.8 L370.0,337.3 L370.5,337.7 L371.0,338.1 L371.5,338.3 L372.0,338.4 L372.5,338.4 L373.0,338.4 L373.5,338.4 L374.0,338.4 L374.5,338.4 L375.0,338.4 L375.5,338.4 L376.0,338.4 L376.5,338.5 L377.0,338.6 L377.5,338.8 L378.0,339.1 L378.5,339.3 L379.0,339.6 L379.5,339.8 L380.0,339.9 L380.5,340.0 L381.0,340.0 L381.5,340.1 L382.0,340.1 L382.5,340.2 L383.0,340.3 L383.5,340.4 L384.0,340.7 L384.5,340.9 L385.0,341.2 L385.5,341.6 L386.0,341.9 L386.5,342.3 L387.0,342.7 L387.5,343.3 L388.0,343.8 L388.5,344.3 L389.0,344.9 L389.5,345.3 L390.0,345.7 L390.5,346.0 L391.0,346.4 L391.5,346.7 L392.0,346.9 L392.5,347.2 L393.0,347.5 L393.5,347.7 L394.0,347.9 L394.5,348.1 L395.0,348.3 L395.5,348.5 L396.0,348.6 L396.5,348.7 L397.0,348.9 L397.5,349.0 L398.0,349.1 L398.5,349.2 L399.0,349.3 L399.5,349.4 L400.0,349.5 L400.5,349.6 L401.0,349.7 L401.5,349.8 L402.0,349.8 L402.5,349.9 L403.0,350.0 L403.5,350.1 L404.0,350.1 L404.5,350.2 L405.0,350.3 L405.5,350.3 L406.0,350.4 L406.5,350.4 L407.0,350.5 L407.5,350.6 L408.0,350.6 L408.5,350.7 L409.0,350.7 L409.5,350.8 L410.0,350.8 L410.5,350.8 L411.0,350.9 L411.5,350.9 L412.0,351.0 L412.5,351.0 L413.0,351.0 L413.5,351.1 L414.0,351.1 L414.5,351.1 L415.0,351.2 L415.5,351.2 L416.0,351.2 L416.5,351.3 L417.0,351.3 L417.5,351.3 L418.0,351.4 L418.5,351.4 L419.0,351.4 L419.5,351.5 L420.0,351.5 L420.5,351.5 L421.0,351.6 L421.5,351.6 L422.0,351.6 L422.5,351.7 L423.0,351.7 L423.5,351.7 L424.0,351.8 L424.5,351.8 L425.0,351.8 L425.5,351.9 L426.0,351.9 L426.5,351.9 L427.0,352.0 L427.5,352.0 L428.0,352.0 L428.5,352.1 L429.0,352.1 L429.5,352.1 L430.0,352.2 L430.5,352.2 L431.0,352.2 L431.5,352.3 L432.0,352.3 L432.5,352.3 L433.0,352.4 L433.5,352.4 L434.0,352.4 L434.5,352.5 L435.0,352.5 L435.5,352.5 L436.0,352.6 L436.5,352.6 L437.0,352.6 L437.5,352.7 L438.0,352.7" stroke="#FF1414" stroke-width="2.3" fill="none" stroke-linejoin="round" stroke-linecap="round"/>
<path d="M123.0,401.2 L123.5,401.2 L124.0,401.2 L124.5,401.2 L125.0,401.2 L125.5,401.2 L126.0,401.2 L126.5,401.2 L127.0,401.2 L127.5,401.1 L128.0,401.1 L128.5,401.1 L129.0,401.1 L129.5,401.1 L130.0,401.1 L130.5,401.1 L131.0,401.1 L131.5,401.0 L132.0,401.0 L132.5,401.0 L133.0,400.9 L133.5,400.9 L134.0,400.8 L134.5,400.8 L135.0,400.7 L135.5,400.7 L136.0,400.6 L136.5,400.5 L137.0,400.5 L137.5,400.4 L138.0,400.3 L138.5,400.2 L139.0,400.2 L139.5,400.1 L140.0,400.0 L140.5,399.9 L141.0,399.8 L141.5,399.7 L142.0,399.6 L142.5,399.5 L143.0,399.4 L143.5,399.3 L144.0,399.1 L144.5,399.0 L145.0,398.8 L145.5,398.7 L146.0,398.5 L146.5,398.4 L147.0,398.2 L147.5,398.1 L148.0,397.9 L148.5,397.8 L149.0,397.6 L149.5,397.5 L150.0,397.3 L150.5,397.1 L151.0,397.0 L151.5,396.8 L152.0,396.7 L152.5,396.5 L153.0,396.3 L153.5,396.1 L154.0,396.0 L154.5,395.8 L155.0,395.6 L155.5,395.4 L156.0,395.2 L156.5,395.0 L157.0,394.9 L157.5,394.7 L158.0,394.5 L158.5,394.2 L159.0,394.0 L159.5,393.8 L160.0,393.6 L160.5,393.4 L161.0,393.1 L161.5,392.9 L162.0,392.7 L162.5,392.4 L163.0,392.1 L163.5,391.9 L164.0,391.6 L164.5,391.3 L165.0,391.0 L165.5,390.8 L166.0,390.5 L166.5,390.2 L167.0,389.9 L167.5,389.6 L168.0,389.3 L168.5,389.0 L169.0,388.7 L169.5,388.4 L170.0,388.1 L170.5,387.8 L171.0,387.5 L171.5,387.2 L172.0,386.9 L172.5,386.5 L173.0,386.2 L173.5,385.9 L174.0,385.5 L174.5,385.2 L175.0,384.9 L175.5,384.5 L176.0,384.2 L176.5,383.9 L177.0,383.5 L177.5,383.2 L178.0,382.8 L178.5,382.5 L179.0,382.2 L179.5,381.8 L180.0,381.5 L180.5,381.2 L181.0,380.8 L181.5,380.5 L182.0,380.2 L182.5,379.9 L183.0,379.5 L183.5,379.2 L184.0,378.9 L184.5,378.6 L185.0,378.2 L185.5,377.9 L186.0,377.6 L186.5,377.3 L187.0,376.9 L187.5,376.6 L188.0,376.3 L188.5,376.0 L189.0,375.6 L189.5,375.3 L190.0,375.0 L190.5,374.7 L191.0,374.4 L191.5,374.0 L192.0,373.7 L192.5,373.4 L193.0,373.1 L193.5,372.7 L194.0,372.4 L194.5,372.1 L195.0,371.8 L195.5,371.5 L196.0,371.1 L196.5,370.8 L197.0,370.5 L197.5,370.2 L198.0,369.9 L198.5,369.5 L199.0,369.2 L199.5,368.9 L200.0,368.6 L200.5,368.3 L201.0,368.0 L201.5,367.7 L202.0,367.3 L202.5,367.0 L203.0,366.7 L203.5,366.4 L204.0,366.1 L204.5,365.7 L205.0,365.4 L205.5,365.1 L206.0,364.8 L206.5,364.5 L207.0,364.2 L207.5,363.9 L208.0,363.6 L208.5,363.3 L209.0,363.0 L209.5,362.8 L210.0,362.5 L210.5,362.2 L211.0,362.0 L211.5,361.7 L212.0,361.4 L212.5,361.2 L213.0,360.9 L213.5,360.7 L214.0,360.4 L214.5,360.2 L215.0,359.9 L215.5,359.7 L216.0,359.5 L216.5,359.2 L217.0,359.0 L217.5,358.8 L218.0,358.6 L218.5,358.4 L219.0,358.2 L219.5,358.0 L220.0,357.8 L220.5,357.6 L221.0,357.4 L221.5,357.3 L222.0,357.1 L222.5,356.9 L223.0,356.8 L223.5,356.6 L224.0,356.4 L224.5,356.3 L225.0,356.1 L225.5,356.0 L226.0,355.8 L226.5,355.7 L227.0,355.6 L227.5,355.5 L228.0,355.4 L228.5,355.3 L229.0,355.2 L229.5,355.1 L230.0,355.0 L230.5,354.9 L231.0,354.9 L231.5,354.8 L232.0,354.7 L232.5,354.7 L233.0,354.6 L233.5,354.5 L234.0,354.5 L234.5,354.4 L235.0,354.4 L235.5,354.3 L236.0,354.3 L236.5,354.2 L237.0,354.2 L237.5,354.2 L238.0,354.2 L238.5,354.1 L239.0,354.1 L239.5,354.1 L240.0,354.1 L240.5,354.1 L241.0,354.1 L241.5,354.1 L242.0,354.1 L242.5,354.1 L243.0,354.2 L243.5,354.2 L244.0,354.2 L244.5,354.2 L245.0,354.2 L245.5,354.3 L246.0,354.3 L246.5,354.3 L247.0,354.4 L247.5,354.4 L248.0,354.4 L248.5,354.5 L249.0,354.5 L249.5,354.6 L250.0,354.6 L250.5,354.6 L251.0,354.7 L251.5,354.8 L252.0,354.8 L252.5,354.9 L253.0,355.0 L253.5,355.1 L254.0,355.2 L254.5,355.3 L255.0,355.4 L255.5,355.5 L256.0,355.6 L256.5,355.7 L257.0,355.8 L257.5,356.0 L258.0,356.1 L258.5,356.2 L259.0,356.3 L259.5,356.5 L260.0,356.6 L260.5,356.7 L261.0,356.9 L261.5,357.0 L262.0,357.2 L262.5,357.4 L263.0,357.5 L263.5,357.7 L264.0,357.9 L264.5,358.1 L265.0,358.3 L265.5,358.5 L266.0,358.7 L266.5,358.9 L267.0,359.1 L267.5,359.3 L268.0,359.6 L268.5,359.8 L269.0,360.0 L269.5,360.3 L270.0,360.5 L270.5,360.8 L271.0,361.0 L271.5,361.3 L272.0,361.6 L272.5,361.9 L273.0,362.2 L273.5,362.6 L274.0,362.9 L274.5,363.2 L275.0,363.6 L275.5,363.9 L276.0,364.3 L276.5,364.6 L277.0,365.0 L277.5,365.3 L278.0,365.6 L278.5,366.0 L279.0,366.3 L279.5,366.6 L280.0,366.9 L280.5,367.2 L281.0,367.5 L281.5,367.7 L282.0,368.0 L282.5,368.3 L283.0,368.6 L283.5,368.8 L284.0,369.1 L284.5,369.4 L285.0,369.6 L285.5,369.9 L286.0,370.1 L286.5,370.4 L287.0,370.6 L287.5,370.9 L288.0,371.2 L288.5,371.4 L289.0,371.7 L289.5,371.9 L290.0,372.2 L290.5,372.5 L291.0,372.7 L291.5,373.0 L292.0,373.3 L292.5,373.5 L293.0,373.8 L293.5,374.1 L294.0,374.3 L294.5,374.6 L295.0,374.9 L295.5,375.1 L296.0,375.4 L296.5,375.7 L297.0,375.9 L297.5,376.2 L298.0,376.5 L298.5,376.7 L299.0,377.0 L299.5,377.2 L300.0,377.5 L300.5,377.8 L301.0,378.0 L301.5,378.3 L302.0,378.5 L302.5,378.8 L303.0,379.1 L303.5,379.3 L304.0,379.6 L304.5,379.8 L305.0,380.1 L305.5,380.3 L306.0,380.6 L306.5,380.9 L307.0,381.1 L307.5,381.4 L308.0,381.6 L308.5,381.9 L309.0,382.1 L309.5,382.4 L310.0,382.6 L310.5,382.8 L311.0,383.1 L311.5,383.3 L312.0,383.6 L312.5,383.8 L313.0,384.1 L313.5,384.3 L314.0,384.6 L314.5,384.8 L315.0,385.1 L315.5,385.3 L316.0,385.6 L316.5,385.8 L317.0,386.0 L317.5,386.2 L318.0,386.5 L318.5,386.7 L319.0,386.9 L319.5,387.1 L320.0,387.3 L320.5,387.5 L321.0,387.7 L321.5,387.9 L322.0,388.0 L322.5,388.2 L323.0,388.4 L323.5,388.6 L324.0,388.7 L324.5,388.9 L325.0,389.1 L325.5,389.2 L326.0,389.4 L326.5,389.6 L327.0,389.7 L327.5,389.9 L328.0,390.0 L328.5,390.2 L329.0,390.3 L329.5,390.5 L330.0,390.6 L330.5,390.7 L331.0,390.9 L331.5,391.1 L332.0,391.2 L332.5,391.4 L333.0,391.6 L333.5,391.7 L334.0,391.9 L334.5,392.1 L335.0,392.2 L335.5,392.4 L336.0,392.5 L336.5,392.6 L337.0,392.7 L337.5,392.8 L338.0,392.9 L338.5,393.0 L339.0,393.1 L339.5,393.1 L340.0,393.1 L340.5,393.1 L341.0,393.0 L341.5,393.0 L342.0,392.9 L342.5,392.8 L343.0,392.7 L343.5,392.5 L344.0,392.4 L344.5,392.3 L345.0,392.1 L345.5,391.9 L346.0,391.7 L346.5,391.4 L347.0,391.1 L347.5,390.7 L348.0,390.3 L348.5,389.9 L349.0,389.5 L349.5,389.0 L350.0,388.5 L350.5,387.9 L351.0,387.1 L351.5,386.3 L352.0,385.4 L352.5,384.5 L353.0,383.8 L353.5,383.2 L354.0,382.6 L354.5,382.0 L355.0,381.5 L355.5,381.0 L356.0,380.5 L356.5,380.1 L357.0,379.7 L357.5,379.3 L358.0,379.0 L358.5,378.7 L359.0,378.4 L359.5,378.2 L360.0,377.9 L360.5,377.7 L361.0,377.5 L361.5,377.4 L362.0,377.4 L362.5,377.4 L363.0,377.4 L363.5,377.5 L364.0,377.5 L364.5,377.6 L365.0,377.7 L365.5,377.8 L366.0,377.9 L366.5,378.1 L367.0,378.3 L367.5,378.6 L368.0,379.0 L368.5,379.3 L369.0,379.7 L369.5,380.1 L370.0,380.5 L370.5,380.9 L371.0,381.4 L371.5,381.9 L372.0,382.3 L372.5,382.6 L373.0,382.8 L373.5,382.9 L374.0,382.9 L374.5,382.9 L375.0,382.9 L375.5,383.0 L376.0,383.0 L376.5,383.0 L377.0,383.0 L377.5,383.1 L378.0,383.1 L378.5,383.2 L379.0,383.2 L379.5,383.3 L380.0,383.5 L380.5,383.6 L381.0,383.7 L381.5,383.9 L382.0,384.0 L382.5,384.2 L383.0,384.4 L383.5,384.6 L384.0,384.8 L384.5,385.1 L385.0,385.4 L385.5,385.8 L386.0,386.1 L386.5,386.4 L387.0,386.8 L387.5,387.2 L388.0,387.5 L388.5,387.9 L389.0,388.2 L389.5,388.6 L390.0,389.1 L390.5,389.5 L391.0,389.9 L391.5,390.3 L392.0,390.7 L392.5,391.0 L393.0,391.3 L393.5,391.6 L394.0,391.9 L394.5,392.1 L395.0,392.4 L395.5,392.7 L396.0,392.9 L396.5,393.1 L397.0,393.4 L397.5,393.6 L398.0,393.8 L398.5,394.0 L399.0,394.1 L399.5,394.3 L400.0,394.4 L400.5,394.5 L401.0,394.6 L401.5,394.7 L402.0,394.8 L402.5,394.9 L403.0,395.0 L403.5,395.1 L404.0,395.2 L404.5,395.3 L405.0,395.4 L405.5,395.5 L406.0,395.5 L406.5,395.6 L407.0,395.7 L407.5,395.7 L408.0,395.8 L408.5,395.8 L409.0,395.9 L409.5,396.0 L410.0,396.0 L410.5,396.0 L411.0,396.1 L411.5,396.1 L412.0,396.2 L412.5,396.2 L413.0,396.2 L413.5,396.3 L414.0,396.3 L414.5,396.4 L415.0,396.4 L415.5,396.4 L416.0,396.4 L416.5,396.5 L417.0,396.5 L417.5,396.5 L418.0,396.6 L418.5,396.6 L419.0,396.6 L419.5,396.7 L420.0,396.7 L420.5,396.7 L421.0,396.8 L421.5,396.8 L422.0,396.8 L422.5,396.9 L423.0,396.9 L423.5,396.9 L424.0,397.0 L424.5,397.0 L425.0,397.1 L425.5,397.1 L426.0,397.1 L426.5,397.2 L427.0,397.2 L427.5,397.2 L428.0,397.3 L428.5,397.3 L429.0,397.3 L429.5,397.4 L430.0,397.4 L430.5,397.5 L431.0,397.5 L431.5,397.5 L432.0,397.6 L432.5,397.6 L433.0,397.6 L433.5,397.7 L434.0,397.7 L434.5,397.7 L435.0,397.8 L435.5,397.8 L436.0,397.9 L436.5,397.9 L437.0,397.9 L437.5,398.0 L438.0,398.0" stroke="#8F5E05" stroke-width="2.3" fill="none" stroke-linejoin="round" stroke-linecap="round"/>
<path d="M123.0,448.8 L123.5,448.8 L124.0,448.8 L124.5,448.7 L125.0,448.7 L125.5,448.7 L126.0,448.7 L126.5,448.7 L127.0,448.6 L127.5,448.6 L128.0,448.6 L128.5,448.6 L129.0,448.6 L129.5,448.5 L130.0,448.5 L130.5,448.5 L131.0,448.4 L131.5,448.4 L132.0,448.3 L132.5,448.3 L133.0,448.2 L133.5,448.2 L134.0,448.1 L134.5,448.0 L135.0,447.9 L135.5,447.9 L136.0,447.8 L136.5,447.7 L137.0,447.6 L137.5,447.5 L138.0,447.5 L138.5,447.4 L139.0,447.3 L139.5,447.2 L140.0,447.1 L140.5,447.0 L141.0,446.9 L141.5,446.8 L142.0,446.7 L142.5,446.6 L143.0,446.5 L143.5,446.4 L144.0,446.2 L144.5,446.1 L145.0,446.0 L145.5,445.8 L146.0,445.7 L146.5,445.6 L147.0,445.4 L147.5,445.3 L148.0,445.1 L148.5,445.0 L149.0,444.8 L149.5,444.7 L150.0,444.5 L150.5,444.3 L151.0,444.2 L151.5,444.0 L152.0,443.8 L152.5,443.6 L153.0,443.4 L153.5,443.3 L154.0,443.1 L154.5,442.9 L155.0,442.7 L155.5,442.4 L156.0,442.2 L156.5,442.0 L157.0,441.8 L157.5,441.6 L158.0,441.3 L158.5,441.1 L159.0,440.9 L159.5,440.6 L160.0,440.4 L160.5,440.2 L161.0,439.9 L161.5,439.6 L162.0,439.4 L162.5,439.1 L163.0,438.8 L163.5,438.5 L164.0,438.2 L164.5,437.9 L165.0,437.6 L165.5,437.3 L166.0,437.0 L166.5,436.7 L167.0,436.4 L167.5,436.1 L168.0,435.8 L168.5,435.5 L169.0,435.2 L169.5,434.9 L170.0,434.6 L170.5,434.3 L171.0,434.0 L171.5,433.7 L172.0,433.4 L172.5,433.1 L173.0,432.8 L173.5,432.6 L174.0,432.3 L174.5,432.0 L175.0,431.7 L175.5,431.4 L176.0,431.1 L176.5,430.8 L177.0,430.5 L177.5,430.2 L178.0,429.9 L178.5,429.6 L179.0,429.3 L179.5,429.0 L180.0,428.7 L180.5,428.4 L181.0,428.1 L181.5,427.8 L182.0,427.5 L182.5,427.2 L183.0,426.9 L183.5,426.6 L184.0,426.3 L184.5,426.0 L185.0,425.7 L185.5,425.4 L186.0,425.1 L186.5,424.8 L187.0,424.5 L187.5,424.2 L188.0,423.9 L188.5,423.5 L189.0,423.2 L189.5,422.9 L190.0,422.6 L190.5,422.3 L191.0,422.0 L191.5,421.6 L192.0,421.3 L192.5,421.0 L193.0,420.6 L193.5,420.3 L194.0,419.9 L194.5,419.6 L195.0,419.3 L195.5,418.9 L196.0,418.6 L196.5,418.2 L197.0,417.9 L197.5,417.6 L198.0,417.3 L198.5,416.9 L199.0,416.6 L199.5,416.3 L200.0,416.0 L200.5,415.7 L201.0,415.4 L201.5,415.1 L202.0,414.8 L202.5,414.5 L203.0,414.2 L203.5,414.0 L204.0,413.7 L204.5,413.4 L205.0,413.1 L205.5,412.9 L206.0,412.6 L206.5,412.3 L207.0,412.1 L207.5,411.8 L208.0,411.5 L208.5,411.3 L209.0,411.0 L209.5,410.8 L210.0,410.5 L210.5,410.2 L211.0,410.0 L211.5,409.7 L212.0,409.5 L212.5,409.2 L213.0,409.0 L213.5,408.7 L214.0,408.5 L214.5,408.2 L215.0,408.0 L215.5,407.7 L216.0,407.5 L216.5,407.3 L217.0,407.0 L217.5,406.8 L218.0,406.6 L218.5,406.4 L219.0,406.2 L219.5,406.0 L220.0,405.8 L220.5,405.6 L221.0,405.4 L221.5,405.3 L222.0,405.1 L222.5,405.0 L223.0,404.8 L223.5,404.6 L224.0,404.5 L224.5,404.3 L225.0,404.2 L225.5,404.0 L226.0,403.9 L226.5,403.8 L227.0,403.6 L227.5,403.5 L228.0,403.4 L228.5,403.3 L229.0,403.1 L229.5,403.0 L230.0,402.9 L230.5,402.8 L231.0,402.7 L231.5,402.5 L232.0,402.4 L232.5,402.3 L233.0,402.2 L233.5,402.0 L234.0,401.9 L234.5,401.8 L235.0,401.7 L235.5,401.6 L236.0,401.4 L236.5,401.4 L237.0,401.3 L237.5,401.2 L238.0,401.1 L238.5,401.1 L239.0,401.0 L239.5,401.0 L240.0,401.0 L240.5,401.0 L241.0,401.0 L241.5,401.0 L242.0,401.0 L242.5,401.0 L243.0,401.0 L243.5,401.1 L244.0,401.1 L244.5,401.1 L245.0,401.1 L245.5,401.1 L246.0,401.2 L246.5,401.2 L247.0,401.2 L247.5,401.2 L248.0,401.3 L248.5,401.3 L249.0,401.3 L249.5,401.4 L250.0,401.4 L250.5,401.4 L251.0,401.5 L251.5,401.5 L252.0,401.6 L252.5,401.7 L253.0,401.7 L253.5,401.8 L254.0,401.9 L254.5,402.0 L255.0,402.1 L255.5,402.2 L256.0,402.3 L256.5,402.4 L257.0,402.5 L257.5,402.6 L258.0,402.7 L258.5,402.8 L259.0,403.0 L259.5,403.1 L260.0,403.2 L260.5,403.3 L261.0,403.5 L261.5,403.6 L262.0,403.7 L262.5,403.9 L263.0,404.0 L263.5,404.2 L264.0,404.4 L264.5,404.6 L265.0,404.7 L265.5,404.9 L266.0,405.1 L266.5,405.3 L267.0,405.5 L267.5,405.7 L268.0,405.9 L268.5,406.1 L269.0,406.4 L269.5,406.6 L270.0,406.8 L270.5,407.0 L271.0,407.3 L271.5,407.6 L272.0,407.8 L272.5,408.1 L273.0,408.4 L273.5,408.7 L274.0,409.1 L274.5,409.4 L275.0,409.7 L275.5,410.0 L276.0,410.4 L276.5,410.7 L277.0,411.1 L277.5,411.4 L278.0,411.7 L278.5,412.0 L279.0,412.4 L279.5,412.7 L280.0,413.0 L280.5,413.3 L281.0,413.6 L281.5,413.9 L282.0,414.2 L282.5,414.5 L283.0,414.8 L283.5,415.1 L284.0,415.4 L284.5,415.7 L285.0,416.0 L285.5,416.3 L286.0,416.6 L286.5,416.9 L287.0,417.2 L287.5,417.5 L288.0,417.8 L288.5,418.1 L289.0,418.4 L289.5,418.7 L290.0,419.0 L290.5,419.3 L291.0,419.6 L291.5,419.9 L292.0,420.2 L292.5,420.5 L293.0,420.8 L293.5,421.1 L294.0,421.3 L294.5,421.6 L295.0,421.9 L295.5,422.2 L296.0,422.5 L296.5,422.8 L297.0,423.1 L297.5,423.4 L298.0,423.7 L298.5,423.9 L299.0,424.2 L299.5,424.5 L300.0,424.8 L300.5,425.1 L301.0,425.4 L301.5,425.7 L302.0,425.9 L302.5,426.2 L303.0,426.5 L303.5,426.8 L304.0,427.1 L304.5,427.4 L305.0,427.6 L305.5,427.9 L306.0,428.2 L306.5,428.5 L307.0,428.7 L307.5,429.0 L308.0,429.3 L308.5,429.5 L309.0,429.8 L309.5,430.1 L310.0,430.3 L310.5,430.5 L311.0,430.8 L311.5,431.0 L312.0,431.3 L312.5,431.5 L313.0,431.7 L313.5,432.0 L314.0,432.2 L314.5,432.4 L315.0,432.6 L315.5,432.8 L316.0,433.1 L316.5,433.3 L317.0,433.5 L317.5,433.7 L318.0,433.9 L318.5,434.1 L319.0,434.3 L319.5,434.5 L320.0,434.7 L320.5,434.9 L321.0,435.1 L321.5,435.3 L322.0,435.5 L322.5,435.7 L323.0,435.9 L323.5,436.1 L324.0,436.3 L324.5,436.4 L325.0,436.6 L325.5,436.8 L326.0,437.0 L326.5,437.2 L327.0,437.3 L327.5,437.5 L328.0,437.6 L328.5,437.8 L329.0,437.9 L329.5,438.1 L330.0,438.2 L330.5,438.3 L331.0,438.5 L331.5,438.6 L332.0,438.7 L332.5,438.8 L333.0,439.0 L333.5,439.1 L334.0,439.2 L334.5,439.3 L335.0,439.5 L335.5,439.6 L336.0,439.7 L336.5,439.8 L337.0,439.8 L337.5,439.9 L338.0,440.0 L338.5,440.0 L339.0,440.1 L339.5,440.1 L340.0,440.1 L340.5,440.1 L341.0,440.0 L341.5,439.9 L342.0,439.8 L342.5,439.6 L343.0,439.4 L343.5,439.3 L344.0,439.0 L344.5,438.8 L345.0,438.6 L345.5,438.3 L346.0,438.0 L346.5,437.7 L347.0,437.3 L347.5,436.9 L348.0,436.4 L348.5,435.9 L349.0,435.4 L349.5,434.9 L350.0,434.3 L350.5,433.7 L351.0,432.9 L351.5,432.1 L352.0,431.3 L352.5,430.5 L353.0,429.8 L353.5,429.2 L354.0,428.6 L354.5,428.0 L355.0,427.5 L355.5,427.0 L356.0,426.5 L356.5,426.0 L357.0,425.6 L357.5,425.2 L358.0,424.9 L358.5,424.7 L359.0,424.6 L359.5,424.4 L360.0,424.3 L360.5,424.2 L361.0,424.2 L361.5,424.1 L362.0,424.1 L362.5,424.1 L363.0,424.2 L363.5,424.3 L364.0,424.5 L364.5,424.7 L365.0,424.9 L365.5,425.1 L366.0,425.3 L366.5,425.5 L367.0,425.8 L367.5,426.0 L368.0,426.3 L368.5,426.6 L369.0,426.9 L369.5,427.3 L370.0,427.6 L370.5,428.0 L371.0,428.5 L371.5,429.0 L372.0,429.5 L372.5,429.8 L373.0,430.0 L373.5,430.1 L374.0,430.1 L374.5,430.2 L375.0,430.2 L375.5,430.2 L376.0,430.2 L376.5,430.3 L377.0,430.3 L377.5,430.3 L378.0,430.4 L378.5,430.5 L379.0,430.5 L379.5,430.6 L380.0,430.7 L380.5,430.8 L381.0,430.9 L381.5,431.1 L382.0,431.2 L382.5,431.3 L383.0,431.5 L383.5,431.7 L384.0,431.9 L384.5,432.2 L385.0,432.5 L385.5,432.8 L386.0,433.2 L386.5,433.5 L387.0,433.9 L387.5,434.2 L388.0,434.6 L388.5,435.0 L389.0,435.4 L389.5,435.8 L390.0,436.2 L390.5,436.7 L391.0,437.1 L391.5,437.5 L392.0,437.9 L392.5,438.2 L393.0,438.5 L393.5,438.8 L394.0,439.0 L394.5,439.3 L395.0,439.5 L395.5,439.7 L396.0,439.9 L396.5,440.2 L397.0,440.4 L397.5,440.5 L398.0,440.7 L398.5,440.9 L399.0,441.0 L399.5,441.1 L400.0,441.2 L400.5,441.3 L401.0,441.4 L401.5,441.4 L402.0,441.5 L402.5,441.6 L403.0,441.6 L403.5,441.7 L404.0,441.8 L404.5,441.8 L405.0,441.9 L405.5,441.9 L406.0,441.9 L406.5,442.0 L407.0,442.0 L407.5,442.1 L408.0,442.1 L408.5,442.2 L409.0,442.2 L409.5,442.3 L410.0,442.3 L410.5,442.3 L411.0,442.4 L411.5,442.4 L412.0,442.5 L412.5,442.5 L413.0,442.6 L413.5,442.6 L414.0,442.7 L414.5,442.7 L415.0,442.7 L415.5,442.8 L416.0,442.8 L416.5,442.9 L417.0,442.9 L417.5,442.9 L418.0,443.0 L418.5,443.0 L419.0,443.0 L419.5,443.1 L420.0,443.1 L420.5,443.1 L421.0,443.2 L421.5,443.2 L422.0,443.2 L422.5,443.2 L423.0,443.3 L423.5,443.3 L424.0,443.3 L424.5,443.3 L425.0,443.4 L425.5,443.4 L426.0,443.4 L426.5,443.4 L427.0,443.4 L427.5,443.5 L428.0,443.5 L428.5,443.5 L429.0,443.5 L429.5,443.6 L430.0,443.6 L430.5,443.6 L431.0,443.6 L431.5,443.6 L432.0,443.7 L432.5,443.7 L433.0,443.7 L433.5,443.7 L434.0,443.7 L434.5,443.8 L435.0,443.8 L435.5,443.8 L436.0,443.8 L436.5,443.8 L437.0,443.9 L437.5,443.9 L438.0,443.9" stroke="#7424B0" stroke-width="2.3" fill="none" stroke-linejoin="round" stroke-linecap="round"/>
<line x1="240.8" y1="104" x2="240.8" y2="459" stroke="#5a5a5a" stroke-opacity="0.8" stroke-width="1" stroke-dasharray="3.4,1.6"/>
<text x="122.7" y="478.3" text-anchor="middle" class="tk">3700</text>
<text x="185.9" y="478.3" text-anchor="middle" class="tk">3500</text>
<text x="249.0" y="478.3" text-anchor="middle" class="tk">3300</text>
<text x="312.2" y="478.3" text-anchor="middle" class="tk">3100</text>
<text x="375.3" y="478.3" text-anchor="middle" class="tk">2900</text>
<text x="438.5" y="478.3" text-anchor="middle" class="tk">2700</text>
<text x="239" y="501" class="ax">Wavenumbers (cm <tspan font-size="9" dx="0.5" dy="-5">−1</tspan><tspan dx="0.5" dy="5">)</tspan></text>
<text transform="translate(103.2,283.6) rotate(-90)" class="ax">Intensity (a.u)</text>
<text x="132.5" y="102.6" class="la">TPS/PBAT/AP</text>
<text x="137" y="116.2" class="la">2%/SAP 1%</text>
<text x="134" y="136.7" class="la">TPS/PBAT/AP</text>
<text x="131.3" y="151.2" class="la">0.5%/ SAP 0.5%</text>
<text x="131" y="193.2" class="la">TPS/PBAT/</text>
<text x="138.3" y="206.2" class="la">SAP 1%</text>
<text x="131" y="231.2" class="la">TPS/PBAT/</text>
<text x="135.5" y="244.2" class="la">SAP 0.5%</text>
<text x="134.3" y="288.7" class="la">TPS/PBAT/</text>
<text x="144.3" y="302.2" class="la">AP 3%</text>
<text x="132.3" y="330.7" class="la">TPS/PBAT/</text>
<text x="143" y="343.7" class="la">AP 1%</text>
<text x="132.3" y="371.7" class="la">TPS/PBAT/</text>
<text x="139" y="384.2" class="la">AP 0.5%</text>
<text x="132.3" y="425.2" class="la">TPS/PBAT</text>
<text x="239" y="97" text-anchor="middle" class="la">OH</text>
<text x="358" y="79.6" text-anchor="middle" class="la">C−H stretching</text>
<text x="358" y="93.1" text-anchor="middle" class="la">vibration</text>
<text x="273.5" y="538.1" text-anchor="middle" class="cap">(<tspan font-weight="bold">a</tspan>)</text>
<line x1="0" y1="0" x2="0" y2="0" stroke="none"/>
<rect x="23.6" y="550.5" width="513.7" height="270" fill="none" stroke="#555555" stroke-width="1.15"/>
<path d="M23.6,820.5 V823.5 M43.4,820.5 V823.5 M63.1,820.5 V823.5 M82.9,820.5 V823.5 M102.6,820.5 V823.5 M122.4,820.5 V823.5 M142.1,820.5 V823.5 M161.9,820.5 V823.5 M181.7,820.5 V823.5 M201.4,820.5 V823.5 M221.2,820.5 V823.5 M240.9,820.5 V823.5 M260.7,820.5 V823.5 M280.5,820.5 V823.5 M300.2,820.5 V823.5 M320.0,820.5 V823.5 M339.7,820.5 V823.5 M359.5,820.5 V823.5 M379.2,820.5 V823.5 M399.0,820.5 V823.5 M418.8,820.5 V823.5 M438.5,820.5 V823.5 M458.3,820.5 V823.5 M478.0,820.5 V823.5 M497.8,820.5 V823.5 M517.5,820.5 V823.5 M537.3,820.5 V823.5" stroke="#555555" stroke-width="1" fill="none"/>
<path d="M24.0,627.9 L24.5,627.9 L25.0,627.9 L25.5,627.8 L26.0,627.8 L26.5,627.8 L27.0,627.8 L27.5,627.7 L28.0,627.7 L28.5,627.7 L29.0,627.7 L29.5,627.6 L30.0,627.6 L30.5,627.6 L31.0,627.5 L31.5,627.5 L32.0,627.4 L32.5,627.4 L33.0,627.3 L33.5,627.3 L34.0,627.2 L34.5,627.1 L35.0,627.1 L35.5,627.0 L36.0,626.9 L36.5,626.8 L37.0,626.7 L37.5,626.6 L38.0,626.5 L38.5,626.4 L39.0,626.2 L39.5,626.0 L40.0,625.7 L40.5,625.4 L41.0,625.1 L41.5,624.7 L42.0,624.3 L42.5,623.8 L43.0,623.1 L43.5,622.2 L44.0,621.2 L44.5,620.2 L45.0,619.1 L45.5,618.0 L46.0,617.0 L46.5,616.0 L47.0,614.8 L47.5,613.6 L48.0,612.4 L48.5,611.3 L49.0,610.2 L49.5,609.2 L50.0,608.3 L50.5,607.6 L51.0,606.9 L51.5,606.3 L52.0,605.7 L52.5,605.1 L53.0,604.6 L53.5,604.1 L54.0,603.7 L54.5,603.3 L55.0,602.9 L55.5,602.4 L56.0,601.7 L56.5,600.5 L57.0,598.8 L57.5,597.1 L58.0,595.9 L58.5,595.2 L59.0,594.9 L59.5,595.5 L60.0,596.9 L60.5,598.9 L61.0,601.0 L61.5,603.7 L62.0,607.3 L62.5,611.0 L63.0,614.0 L63.5,616.5 L64.0,619.0 L64.5,620.9 L65.0,622.0 L65.5,622.5 L66.0,622.9 L66.5,623.3 L67.0,623.6 L67.5,623.8 L68.0,624.0 L68.5,624.2 L69.0,624.4 L69.5,624.5 L70.0,624.6 L70.5,624.7 L71.0,624.8 L71.5,624.9 L72.0,624.9 L72.5,625.0 L73.0,625.1 L73.5,625.1 L74.0,625.2 L74.5,625.2 L75.0,625.3 L75.5,625.3 L76.0,625.4 L76.5,625.4 L77.0,625.5 L77.5,625.5 L78.0,625.5 L78.5,625.6 L79.0,625.6 L79.5,625.7 L80.0,625.7 L80.5,625.7 L81.0,625.8 L81.5,625.8 L82.0,625.9 L82.5,625.9 L83.0,625.9 L83.5,626.0 L84.0,626.0 L84.5,626.0 L85.0,626.1 L85.5,626.1 L86.0,626.1 L86.5,626.2 L87.0,626.2 L87.5,626.2 L88.0,626.3 L88.5,626.3 L89.0,626.3 L89.5,626.3 L90.0,626.4 L90.5,626.4 L91.0,626.4 L91.5,626.4 L92.0,626.5 L92.5,626.5 L93.0,626.5 L93.5,626.5 L94.0,626.6 L94.5,626.6 L95.0,626.6 L95.5,626.6 L96.0,626.6 L96.5,626.7 L97.0,626.7 L97.5,626.7 L98.0,626.7 L98.5,626.7 L99.0,626.8 L99.5,626.8 L100.0,626.8 L100.5,626.8 L101.0,626.8 L101.5,626.9 L102.0,626.9 L102.5,626.9 L103.0,626.9 L103.5,626.9 L104.0,627.0 L104.5,627.0 L105.0,627.0 L105.5,627.0 L106.0,627.0 L106.5,627.0 L107.0,627.1 L107.5,627.1 L108.0,627.1 L108.5,627.1 L109.0,627.1 L109.5,627.1 L110.0,627.1 L110.5,627.2 L111.0,627.2 L111.5,627.2 L112.0,627.2 L112.5,627.2 L113.0,627.2 L113.5,627.2 L114.0,627.2 L114.5,627.3 L115.0,627.3 L115.5,627.3 L116.0,627.3 L116.5,627.3 L117.0,627.3 L117.5,627.3 L118.0,627.3 L118.5,627.3 L119.0,627.3 L119.5,627.3 L120.0,627.3 L120.5,627.3 L121.0,627.3 L121.5,627.3 L122.0,627.3 L122.5,627.3 L123.0,627.3 L123.5,627.3 L124.0,627.3 L124.5,627.3 L125.0,627.3 L125.5,627.2 L126.0,627.2 L126.5,627.2 L127.0,627.2 L127.5,627.2 L128.0,627.2 L128.5,627.2 L129.0,627.1 L129.5,627.1 L130.0,627.1 L130.5,627.1 L131.0,627.1 L131.5,627.1 L132.0,627.0 L132.5,627.0 L133.0,627.0 L133.5,627.0 L134.0,626.9 L134.5,626.9 L135.0,626.9 L135.5,626.9 L136.0,626.8 L136.5,626.8 L137.0,626.8 L137.5,626.8 L138.0,626.7 L138.5,626.7 L139.0,626.7 L139.5,626.6 L140.0,626.6 L140.5,626.6 L141.0,626.5 L141.5,626.4 L142.0,626.4 L142.5,626.3 L143.0,626.2 L143.5,626.1 L144.0,626.0 L144.5,625.9 L145.0,625.7 L145.5,625.6 L146.0,625.5 L146.5,625.4 L147.0,625.2 L147.5,625.1 L148.0,625.0 L148.5,624.8 L149.0,624.7 L149.5,624.6 L150.0,624.5 L150.5,624.4 L151.0,624.3 L151.5,624.1 L152.0,624.0 L152.5,623.9 L153.0,623.7 L153.5,623.6 L154.0,623.4 L154.5,623.3 L155.0,623.1 L155.5,623.0 L156.0,622.9 L156.5,622.7 L157.0,622.6 L157.5,622.5 L158.0,622.5 L158.5,622.4 L159.0,622.3 L159.5,622.3 L160.0,622.3 L160.5,622.3 L161.0,622.5 L161.5,622.7 L162.0,622.9 L162.5,623.1 L163.0,623.4 L163.5,623.6 L164.0,623.8 L164.5,624.0 L165.0,624.0 L165.5,624.0 L166.0,624.0 L166.5,623.9 L167.0,623.9 L167.5,623.8 L168.0,623.8 L168.5,623.7 L169.0,623.6 L169.5,623.5 L170.0,623.4 L170.5,623.3 L171.0,623.2 L171.5,623.1 L172.0,623.0 L172.5,622.8 L173.0,622.6 L173.5,622.3 L174.0,622.0 L174.5,621.6 L175.0,621.3 L175.5,621.0 L176.0,620.7 L176.5,620.6 L177.0,620.5 L177.5,620.7 L178.0,621.1 L178.5,621.6 L179.0,622.1 L179.5,622.5 L180.0,622.7 L180.5,622.7 L181.0,622.7 L181.5,622.6 L182.0,622.6 L182.5,622.5 L183.0,622.4 L183.5,622.4 L184.0,622.3 L184.5,622.3 L185.0,622.3 L185.5,622.3 L186.0,622.3 L186.5,622.3 L187.0,622.4 L187.5,622.4 L188.0,622.4 L188.5,622.5 L189.0,622.5 L189.5,622.5 L190.0,622.6 L190.5,622.6 L191.0,622.7 L191.5,622.7 L192.0,622.8 L192.5,622.8 L193.0,622.9 L193.5,622.9 L194.0,622.9 L194.5,623.0 L195.0,623.0 L195.5,623.0 L196.0,623.1 L196.5,623.1 L197.0,623.1 L197.5,623.1 L198.0,623.2 L198.5,623.2 L199.0,623.2 L199.5,623.2 L200.0,623.3 L200.5,623.3 L201.0,623.3 L201.5,623.3 L202.0,623.3 L202.5,623.4 L203.0,623.4 L203.5,623.4 L204.0,623.4 L204.5,623.4 L205.0,623.4 L205.5,623.4 L206.0,623.4 L206.5,623.4 L207.0,623.4 L207.5,623.3 L208.0,623.3 L208.5,623.3 L209.0,623.3 L209.5,623.2 L210.0,623.2 L210.5,623.2 L211.0,623.1 L211.5,623.0 L212.0,623.0 L212.5,622.9 L213.0,622.8 L213.5,622.7 L214.0,622.5 L214.5,622.4 L215.0,622.3 L215.5,622.2 L216.0,622.0 L216.5,621.9 L217.0,621.8 L217.5,621.6 L218.0,621.4 L218.5,621.2 L219.0,621.0 L219.5,620.8 L220.0,620.5 L220.5,620.2 L221.0,619.8 L221.5,619.4 L222.0,618.9 L222.5,618.4 L223.0,617.8 L223.5,617.2 L224.0,616.5 L224.5,615.8 L225.0,615.1 L225.5,614.2 L226.0,613.1 L226.5,611.9 L227.0,610.5 L227.5,609.1 L228.0,607.7 L228.5,606.3 L229.0,605.0 L229.5,604.0 L230.0,603.1 L230.5,602.3 L231.0,601.6 L231.5,600.9 L232.0,600.3 L232.5,599.9 L233.0,599.8 L233.5,599.9 L234.0,600.3 L234.5,600.7 L235.0,601.2 L235.5,601.8 L236.0,602.2 L236.5,602.6 L237.0,602.7 L237.5,602.7 L238.0,602.7 L238.5,602.7 L239.0,602.7 L239.5,602.7 L240.0,602.7 L240.5,602.7 L241.0,602.7 L241.5,602.8 L242.0,603.2 L242.5,603.8 L243.0,604.5 L243.5,605.3 L244.0,606.0 L244.5,606.8 L245.0,607.5 L245.5,608.2 L246.0,608.9 L246.5,609.6 L247.0,610.3 L247.5,611.1 L248.0,611.8 L248.5,612.4 L249.0,613.0 L249.5,613.6 L250.0,614.0 L250.5,614.4 L251.0,614.7 L251.5,615.0 L252.0,615.3 L252.5,615.6 L253.0,615.9 L253.5,616.1 L254.0,616.3 L254.5,616.5 L255.0,616.6 L255.5,616.7 L256.0,616.8 L256.5,616.9 L257.0,617.0 L257.5,617.1 L258.0,617.2 L258.5,617.2 L259.0,617.3 L259.5,617.3 L260.0,617.3 L260.5,617.3 L261.0,617.3 L261.5,617.2 L262.0,617.2 L262.5,617.1 L263.0,617.0 L263.5,616.9 L264.0,616.8 L264.5,616.7 L265.0,616.6 L265.5,616.4 L266.0,616.2 L266.5,615.8 L267.0,615.4 L267.5,614.9 L268.0,614.5 L268.5,614.0 L269.0,613.6 L269.5,613.2 L270.0,612.9 L270.5,612.6 L271.0,612.3 L271.5,612.0 L272.0,611.7 L272.5,611.5 L273.0,611.2 L273.5,611.0 L274.0,610.8 L274.5,610.7 L275.0,610.7 L275.5,610.7 L276.0,610.8 L276.5,610.9 L277.0,611.0 L277.5,611.1 L278.0,611.3 L278.5,611.4 L279.0,611.5 L279.5,611.7 L280.0,611.8 L280.5,611.9 L281.0,612.1 L281.5,612.2 L282.0,612.3 L282.5,612.5 L283.0,612.6 L283.5,612.7 L284.0,612.8 L284.5,612.9 L285.0,612.9 L285.5,612.8 L286.0,612.5 L286.5,612.0 L287.0,611.5 L287.5,610.8 L288.0,610.1 L288.5,609.5 L289.0,608.8 L289.5,608.3 L290.0,607.9 L290.5,607.6 L291.0,607.2 L291.5,606.9 L292.0,606.6 L292.5,606.5 L293.0,606.4 L293.5,606.7 L294.0,607.5 L294.5,608.2 L295.0,608.5 L295.5,608.0 L296.0,606.6 L296.5,604.9 L297.0,603.2 L297.5,601.8 L298.0,601.3 L298.5,601.7 L299.0,602.7 L299.5,604.1 L300.0,605.6 L300.5,606.9 L301.0,607.9 L301.5,608.6 L302.0,609.3 L302.5,609.9 L303.0,610.5 L303.5,611.0 L304.0,611.4 L304.5,611.7 L305.0,611.8 L305.5,611.8 L306.0,611.7 L306.5,611.6 L307.0,611.5 L307.5,611.4 L308.0,611.4 L308.5,611.6 L309.0,612.1 L309.5,612.9 L310.0,613.8 L310.5,614.7 L311.0,615.5 L311.5,616.0 L312.0,616.2 L312.5,616.2 L313.0,616.1 L313.5,616.0 L314.0,615.8 L314.5,615.6 L315.0,615.4 L315.5,615.2 L316.0,615.0 L316.5,614.7 L317.0,614.5 L317.5,614.2 L318.0,614.0 L318.5,613.8 L319.0,613.5 L319.5,613.2 L320.0,612.9 L320.5,612.6 L321.0,612.3 L321.5,612.0 L322.0,611.6 L322.5,611.3 L323.0,610.9 L323.5,610.6 L324.0,610.3 L324.5,609.9 L325.0,609.6 L325.5,609.3 L326.0,609.0 L326.5,608.7 L327.0,608.5 L327.5,608.2 L328.0,607.9 L328.5,607.6 L329.0,607.2 L329.5,606.8 L330.0,606.4 L330.5,605.7 L331.0,604.7 L331.5,603.9 L332.0,603.5 L332.5,603.9 L333.0,604.9 L333.5,606.2 L334.0,607.6 L334.5,608.8 L335.0,609.6 L335.5,610.0 L336.0,610.4 L336.5,610.8 L337.0,611.1 L337.5,611.3 L338.0,611.4 L338.5,611.5 L339.0,611.5 L339.5,611.6 L340.0,611.6 L340.5,611.6 L341.0,611.7 L341.5,611.7 L342.0,611.8 L342.5,612.0 L343.0,612.4 L343.5,612.9 L344.0,613.4 L344.5,613.9 L345.0,614.4 L345.5,614.8 L346.0,615.2 L346.5,615.6 L347.0,615.9 L347.5,616.3 L348.0,616.7 L348.5,617.0 L349.0,617.3 L349.5,617.6 L350.0,617.9 L350.5,618.2 L351.0,618.5 L351.5,618.8 L352.0,619.1 L352.5,619.3 L353.0,619.6 L353.5,619.8 L354.0,620.0 L354.5,620.1 L355.0,620.1 L355.5,620.1 L356.0,620.1 L356.5,620.0 L357.0,620.0 L357.5,619.9 L358.0,619.8 L358.5,619.8 L359.0,619.7 L359.5,619.6 L360.0,619.5 L360.5,619.4 L361.0,619.2 L361.5,619.0 L362.0,618.7 L362.5,618.5 L363.0,618.2 L363.5,618.0 L364.0,617.9 L364.5,617.7 L365.0,617.7 L365.5,617.7 L366.0,617.8 L366.5,618.0 L367.0,618.2 L367.5,618.4 L368.0,618.7 L368.5,618.9 L369.0,619.1 L369.5,619.3 L370.0,619.5 L370.5,619.6 L371.0,619.8 L371.5,619.9 L372.0,620.0 L372.5,620.1 L373.0,620.2 L373.5,620.3 L374.0,620.4 L374.5,620.5 L375.0,620.5 L375.5,620.6 L376.0,620.7 L376.5,620.8 L377.0,620.9 L377.5,621.0 L378.0,621.1 L378.5,621.2 L379.0,621.3 L379.5,621.5 L380.0,621.6 L380.5,621.8 L381.0,622.0 L381.5,622.2 L382.0,622.4 L382.5,622.7 L383.0,622.9 L383.5,623.1 L384.0,623.3 L384.5,623.4 L385.0,623.4 L385.5,623.3 L386.0,623.1 L386.5,622.8 L387.0,622.4 L387.5,622.0 L388.0,621.6 L388.5,621.1 L389.0,620.4 L389.5,619.8 L390.0,619.5 L390.5,619.7 L391.0,620.2 L391.5,620.9 L392.0,621.6 L392.5,622.1 L393.0,622.3 L393.5,622.3 L394.0,622.3 L394.5,622.3 L395.0,622.3 L395.5,622.3 L396.0,622.3 L396.5,622.3 L397.0,622.3 L397.5,622.3 L398.0,622.3 L398.5,622.3 L399.0,622.3 L399.5,622.3 L400.0,622.3 L400.5,622.3 L401.0,622.3 L401.5,622.3 L402.0,622.3 L402.5,622.4 L403.0,622.4 L403.5,622.4 L404.0,622.4 L404.5,622.5 L405.0,622.5 L405.5,622.5 L406.0,622.6 L406.5,622.6 L407.0,622.6 L407.5,622.6 L408.0,622.7 L408.5,622.7 L409.0,622.7 L409.5,622.7 L410.0,622.7 L410.5,622.7 L411.0,622.7 L411.5,622.7 L412.0,622.7 L412.5,622.7 L413.0,622.6 L413.5,622.6 L414.0,622.6 L414.5,622.6 L415.0,622.6 L415.5,622.5 L416.0,622.5 L416.5,622.5 L417.0,622.5 L417.5,622.4 L418.0,622.4 L418.5,622.4 L419.0,622.4 L419.5,622.3 L420.0,622.3 L420.5,622.3 L421.0,622.2 L421.5,622.2 L422.0,622.2 L422.5,622.2 L423.0,622.1 L423.5,622.1 L424.0,622.1 L424.5,622.0 L425.0,622.0 L425.5,622.0 L426.0,621.9 L426.5,621.9 L427.0,621.9 L427.5,621.8 L428.0,621.8 L428.5,621.7 L429.0,621.7 L429.5,621.6 L430.0,621.6 L430.5,621.6 L431.0,621.5 L431.5,621.5 L432.0,621.4 L432.5,621.4 L433.0,621.3 L433.5,621.3 L434.0,621.2 L434.5,621.1 L435.0,621.1 L435.5,621.0 L436.0,620.9 L436.5,620.8 L437.0,620.8 L437.5,620.7 L438.0,620.5 L438.5,620.4 L439.0,620.3 L439.5,620.2 L440.0,620.0 L440.5,619.8 L441.0,619.5 L441.5,619.0 L442.0,618.5 L442.5,617.8 L443.0,617.0 L443.5,615.5 L444.0,613.2 L444.5,610.5 L445.0,608.0 L445.5,605.5 L446.0,602.7 L446.5,600.5 L447.0,599.6 L447.5,600.5 L448.0,602.8 L448.5,605.5 L449.0,608.0 L449.5,610.3 L450.0,612.8 L450.5,614.9 L451.0,616.0 L451.5,616.5 L452.0,616.8 L452.5,617.2 L453.0,617.5 L453.5,617.7 L454.0,617.8 L454.5,617.9 L455.0,618.0 L455.5,618.0 L456.0,618.1 L456.5,618.1 L457.0,618.1 L457.5,618.1 L458.0,618.2 L458.5,618.2 L459.0,618.2 L459.5,618.2 L460.0,618.2 L460.5,618.3 L461.0,618.3 L461.5,618.3 L462.0,618.3 L462.5,618.3 L463.0,618.3 L463.5,618.3 L464.0,618.3 L464.5,618.4 L465.0,618.4 L465.5,618.4 L466.0,618.4 L466.5,618.4 L467.0,618.4 L467.5,618.4 L468.0,618.4 L468.5,618.4 L469.0,618.4 L469.5,618.4 L470.0,618.4 L470.5,618.4 L471.0,618.4 L471.5,618.4 L472.0,618.4 L472.5,618.4 L473.0,618.4 L473.5,618.3 L474.0,618.3 L474.5,618.3 L475.0,618.3 L475.5,618.3 L476.0,618.2 L476.5,618.2 L477.0,618.2 L477.5,618.1 L478.0,618.1 L478.5,618.1 L479.0,618.0 L479.5,618.0 L480.0,618.0 L480.5,617.9 L481.0,617.9 L481.5,617.8 L482.0,617.8 L482.5,617.8 L483.0,617.7 L483.5,617.7 L484.0,617.6 L484.5,617.6 L485.0,617.5 L485.5,617.5 L486.0,617.4 L486.5,617.4 L487.0,617.3 L487.5,617.3 L488.0,617.2 L488.5,617.2 L489.0,617.1 L489.5,617.1 L490.0,617.0 L490.5,616.9 L491.0,616.9 L491.5,616.8 L492.0,616.7 L492.5,616.6 L493.0,616.5 L493.5,616.4 L494.0,616.2 L494.5,616.1 L495.0,616.0 L495.5,615.9 L496.0,615.7 L496.5,615.6 L497.0,615.4 L497.5,615.3 L498.0,615.2 L498.5,615.0 L499.0,614.9 L499.5,614.8 L500.0,614.7 L500.5,614.5 L501.0,614.4 L501.5,614.3 L502.0,614.3 L502.5,614.2 L503.0,614.1 L503.5,614.1 L504.0,614.0 L504.5,614.0 L505.0,614.0 L505.5,614.0 L506.0,614.0 L506.5,614.1 L507.0,614.1 L507.5,614.2 L508.0,614.2 L508.5,614.3 L509.0,614.4 L509.5,614.4 L510.0,614.5 L510.5,614.6 L511.0,614.6 L511.5,614.7 L512.0,614.8 L512.5,614.8 L513.0,614.9 L513.5,614.9 L514.0,615.0 L514.5,615.0 L515.0,615.0 L515.5,615.0 L516.0,614.9 L516.5,614.8 L517.0,614.7 L517.5,614.5 L518.0,614.4 L518.5,614.2 L519.0,613.9 L519.5,613.7 L520.0,613.5 L520.5,613.3 L521.0,613.1 L521.5,612.8 L522.0,612.6 L522.5,612.5 L523.0,612.3 L523.5,612.2 L524.0,612.1 L524.5,612.0 L525.0,612.0 L525.5,612.0 L526.0,612.0 L526.5,612.0 L527.0,612.1 L527.5,612.1 L528.0,612.1 L528.5,612.1 L529.0,612.2 L529.5,612.2 L530.0,612.3 L530.5,612.3 L531.0,612.4 L531.5,612.4 L532.0,612.5 L532.5,612.5 L533.0,612.6 L533.5,612.6 L534.0,612.7 L534.5,612.8 L535.0,612.8 L535.5,612.9 L536.0,612.9 L536.5,613.0 L537.0,613.0" stroke="#FFC000" stroke-width="2.0" fill="none" stroke-linejoin="round" stroke-linecap="round"/>
<path d="M24.0,655.1 L24.5,655.1 L25.0,655.1 L25.5,655.0 L26.0,655.0 L26.5,655.0 L27.0,655.0 L27.5,655.0 L28.0,655.0 L28.5,655.0 L29.0,654.9 L29.5,654.9 L30.0,654.9 L30.5,654.9 L31.0,654.9 L31.5,654.9 L32.0,654.9 L32.5,654.8 L33.0,654.8 L33.5,654.8 L34.0,654.8 L34.5,654.7 L35.0,654.7 L35.5,654.7 L36.0,654.7 L36.5,654.6 L37.0,654.6 L37.5,654.5 L38.0,654.5 L38.5,654.4 L39.0,654.3 L39.5,654.1 L40.0,653.8 L40.5,653.6 L41.0,653.3 L41.5,652.9 L42.0,652.6 L42.5,652.2 L43.0,651.6 L43.5,651.0 L44.0,650.3 L44.5,649.6 L45.0,648.8 L45.5,648.1 L46.0,647.5 L46.5,646.9 L47.0,646.3 L47.5,645.7 L48.0,645.1 L48.5,644.5 L49.0,644.0 L49.5,643.6 L50.0,643.2 L50.5,642.9 L51.0,642.7 L51.5,642.5 L52.0,642.3 L52.5,642.1 L53.0,642.0 L53.5,641.8 L54.0,641.6 L54.5,641.3 L55.0,641.0 L55.5,640.5 L56.0,639.8 L56.5,638.9 L57.0,638.2 L57.5,637.6 L58.0,637.4 L58.5,637.5 L59.0,637.9 L59.5,638.5 L60.0,639.3 L60.5,640.1 L61.0,641.0 L61.5,642.3 L62.0,644.1 L62.5,646.0 L63.0,647.5 L63.5,648.7 L64.0,649.8 L64.5,650.7 L65.0,651.2 L65.5,651.4 L66.0,651.5 L66.5,651.7 L67.0,651.8 L67.5,651.9 L68.0,652.0 L68.5,652.0 L69.0,652.1 L69.5,652.2 L70.0,652.2 L70.5,652.2 L71.0,652.3 L71.5,652.3 L72.0,652.4 L72.5,652.4 L73.0,652.5 L73.5,652.5 L74.0,652.6 L74.5,652.6 L75.0,652.6 L75.5,652.7 L76.0,652.7 L76.5,652.8 L77.0,652.8 L77.5,652.8 L78.0,652.9 L78.5,652.9 L79.0,652.9 L79.5,653.0 L80.0,653.0 L80.5,653.0 L81.0,653.1 L81.5,653.1 L82.0,653.1 L82.5,653.1 L83.0,653.2 L83.5,653.2 L84.0,653.2 L84.5,653.2 L85.0,653.3 L85.5,653.3 L86.0,653.3 L86.5,653.3 L87.0,653.4 L87.5,653.4 L88.0,653.4 L88.5,653.4 L89.0,653.4 L89.5,653.4 L90.0,653.4 L90.5,653.5 L91.0,653.5 L91.5,653.5 L92.0,653.5 L92.5,653.5 L93.0,653.5 L93.5,653.5 L94.0,653.5 L94.5,653.5 L95.0,653.5 L95.5,653.5 L96.0,653.5 L96.5,653.5 L97.0,653.5 L97.5,653.5 L98.0,653.5 L98.5,653.5 L99.0,653.5 L99.5,653.5 L100.0,653.5 L100.5,653.5 L101.0,653.5 L101.5,653.5 L102.0,653.5 L102.5,653.5 L103.0,653.5 L103.5,653.5 L104.0,653.5 L104.5,653.5 L105.0,653.5 L105.5,653.5 L106.0,653.5 L106.5,653.5 L107.0,653.5 L107.5,653.5 L108.0,653.5 L108.5,653.5 L109.0,653.5 L109.5,653.5 L110.0,653.5 L110.5,653.5 L111.0,653.5 L111.5,653.5 L112.0,653.5 L112.5,653.5 L113.0,653.5 L113.5,653.5 L114.0,653.5 L114.5,653.5 L115.0,653.5 L115.5,653.5 L116.0,653.5 L116.5,653.5 L117.0,653.5 L117.5,653.5 L118.0,653.5 L118.5,653.5 L119.0,653.5 L119.5,653.5 L120.0,653.5 L120.5,653.5 L121.0,653.5 L121.5,653.5 L122.0,653.5 L122.5,653.5 L123.0,653.5 L123.5,653.5 L124.0,653.5 L124.5,653.5 L125.0,653.5 L125.5,653.5 L126.0,653.5 L126.5,653.5 L127.0,653.5 L127.5,653.5 L128.0,653.5 L128.5,653.5 L129.0,653.5 L129.5,653.5 L130.0,653.5 L130.5,653.5 L131.0,653.5 L131.5,653.5 L132.0,653.5 L132.5,653.5 L133.0,653.5 L133.5,653.5 L134.0,653.5 L134.5,653.5 L135.0,653.5 L135.5,653.5 L136.0,653.5 L136.5,653.5 L137.0,653.5 L137.5,653.5 L138.0,653.5 L138.5,653.5 L139.0,653.5 L139.5,653.5 L140.0,653.5 L140.5,653.5 L141.0,653.5 L141.5,653.5 L142.0,653.4 L142.5,653.4 L143.0,653.4 L143.5,653.3 L144.0,653.3 L144.5,653.2 L145.0,653.2 L145.5,653.1 L146.0,653.1 L146.5,653.0 L147.0,652.9 L147.5,652.8 L148.0,652.8 L148.5,652.7 L149.0,652.6 L149.5,652.5 L150.0,652.4 L150.5,652.3 L151.0,652.2 L151.5,652.1 L152.0,652.0 L152.5,652.0 L153.0,651.9 L153.5,651.8 L154.0,651.7 L154.5,651.6 L155.0,651.5 L155.5,651.4 L156.0,651.3 L156.5,651.2 L157.0,651.1 L157.5,651.0 L158.0,650.9 L158.5,650.8 L159.0,650.8 L159.5,650.7 L160.0,650.6 L160.5,650.5 L161.0,650.4 L161.5,650.4 L162.0,650.3 L162.5,650.2 L163.0,650.1 L163.5,650.0 L164.0,649.9 L164.5,649.8 L165.0,649.7 L165.5,649.6 L166.0,649.5 L166.5,649.4 L167.0,649.3 L167.5,649.2 L168.0,649.1 L168.5,649.0 L169.0,648.9 L169.5,648.8 L170.0,648.7 L170.5,648.6 L171.0,648.5 L171.5,648.5 L172.0,648.4 L172.5,648.3 L173.0,648.3 L173.5,648.2 L174.0,648.1 L174.5,648.1 L175.0,648.1 L175.5,648.0 L176.0,648.0 L176.5,648.0 L177.0,648.0 L177.5,648.0 L178.0,648.0 L178.5,648.1 L179.0,648.1 L179.5,648.1 L180.0,648.2 L180.5,648.3 L181.0,648.3 L181.5,648.4 L182.0,648.5 L182.5,648.6 L183.0,648.7 L183.5,648.8 L184.0,648.8 L184.5,648.9 L185.0,649.0 L185.5,649.1 L186.0,649.2 L186.5,649.2 L187.0,649.3 L187.5,649.4 L188.0,649.4 L188.5,649.4 L189.0,649.5 L189.5,649.5 L190.0,649.5 L190.5,649.5 L191.0,649.5 L191.5,649.5 L192.0,649.5 L192.5,649.5 L193.0,649.5 L193.5,649.5 L194.0,649.5 L194.5,649.5 L195.0,649.5 L195.5,649.5 L196.0,649.5 L196.5,649.5 L197.0,649.5 L197.5,649.5 L198.0,649.5 L198.5,649.5 L199.0,649.5 L199.5,649.5 L200.0,649.5 L200.5,649.4 L201.0,649.4 L201.5,649.4 L202.0,649.4 L202.5,649.4 L203.0,649.4 L203.5,649.4 L204.0,649.4 L204.5,649.4 L205.0,649.4 L205.5,649.4 L206.0,649.4 L206.5,649.4 L207.0,649.4 L207.5,649.3 L208.0,649.3 L208.5,649.3 L209.0,649.3 L209.5,649.3 L210.0,649.3 L210.5,649.3 L211.0,649.3 L211.5,649.2 L212.0,649.2 L212.5,649.1 L213.0,649.0 L213.5,649.0 L214.0,648.9 L214.5,648.8 L215.0,648.7 L215.5,648.5 L216.0,648.4 L216.5,648.3 L217.0,648.2 L217.5,648.0 L218.0,647.9 L218.5,647.7 L219.0,647.5 L219.5,647.4 L220.0,647.2 L220.5,647.0 L221.0,646.7 L221.5,646.4 L222.0,646.1 L222.5,645.7 L223.0,645.3 L223.5,644.9 L224.0,644.4 L224.5,644.0 L225.0,643.5 L225.5,643.0 L226.0,642.4 L226.5,641.7 L227.0,641.1 L227.5,640.4 L228.0,639.7 L228.5,639.0 L229.0,638.5 L229.5,638.0 L230.0,637.6 L230.5,637.3 L231.0,637.0 L231.5,636.7 L232.0,636.5 L232.5,636.4 L233.0,636.3 L233.5,636.4 L234.0,636.7 L234.5,637.2 L235.0,637.7 L235.5,638.2 L236.0,638.7 L236.5,639.0 L237.0,639.1 L237.5,639.1 L238.0,639.0 L238.5,638.9 L239.0,638.8 L239.5,638.6 L240.0,638.5 L240.5,638.4 L241.0,638.4 L241.5,638.5 L242.0,638.8 L242.5,639.2 L243.0,639.7 L243.5,640.3 L244.0,640.9 L244.5,641.4 L245.0,641.9 L245.5,642.4 L246.0,642.8 L246.5,643.4 L247.0,643.9 L247.5,644.4 L248.0,644.9 L248.5,645.3 L249.0,645.7 L249.5,646.0 L250.0,646.3 L250.5,646.5 L251.0,646.7 L251.5,647.0 L252.0,647.2 L252.5,647.3 L253.0,647.5 L253.5,647.6 L254.0,647.7 L254.5,647.8 L255.0,647.8 L255.5,647.8 L256.0,647.8 L256.5,647.8 L257.0,647.8 L257.5,647.8 L258.0,647.8 L258.5,647.8 L259.0,647.8 L259.5,647.8 L260.0,647.8 L260.5,647.8 L261.0,647.8 L261.5,647.8 L262.0,647.8 L262.5,647.8 L263.0,647.8 L263.5,647.8 L264.0,647.8 L264.5,647.8 L265.0,647.8 L265.5,647.8 L266.0,647.7 L266.5,647.6 L267.0,647.5 L267.5,647.4 L268.0,647.2 L268.5,647.0 L269.0,646.8 L269.5,646.5 L270.0,646.3 L270.5,646.0 L271.0,645.7 L271.5,645.5 L272.0,645.2 L272.5,644.9 L273.0,644.6 L273.5,644.3 L274.0,644.0 L274.5,643.8 L275.0,643.5 L275.5,643.2 L276.0,642.9 L276.5,642.5 L277.0,642.1 L277.5,641.7 L278.0,641.4 L278.5,641.1 L279.0,640.8 L279.5,640.7 L280.0,640.6 L280.5,640.7 L281.0,640.8 L281.5,641.0 L282.0,641.2 L282.5,641.5 L283.0,641.8 L283.5,642.0 L284.0,642.2 L284.5,642.3 L285.0,642.4 L285.5,642.3 L286.0,642.1 L286.5,641.9 L287.0,641.5 L287.5,641.1 L288.0,640.7 L288.5,640.2 L289.0,639.8 L289.5,639.4 L290.0,639.1 L290.5,638.8 L291.0,638.5 L291.5,638.2 L292.0,637.9 L292.5,637.6 L293.0,637.3 L293.5,637.0 L294.0,636.7 L294.5,636.4 L295.0,636.2 L295.5,636.0 L296.0,635.8 L296.5,635.6 L297.0,635.5 L297.5,635.4 L298.0,635.4 L298.5,635.7 L299.0,636.5 L299.5,637.5 L300.0,638.6 L300.5,639.4 L301.0,639.7 L301.5,639.6 L302.0,639.3 L302.5,638.8 L303.0,638.3 L303.5,637.8 L304.0,637.3 L304.5,637.0 L305.0,636.9 L305.5,637.0 L306.0,637.1 L306.5,637.4 L307.0,637.8 L307.5,638.2 L308.0,638.6 L308.5,639.1 L309.0,639.6 L309.5,640.0 L310.0,640.4 L310.5,640.8 L311.0,641.1 L311.5,641.2 L312.0,641.3 L312.5,641.2 L313.0,641.1 L313.5,640.8 L314.0,640.5 L314.5,640.1 L315.0,639.7 L315.5,639.1 L316.0,638.6 L316.5,638.0 L317.0,637.3 L317.5,636.7 L318.0,636.1 L318.5,635.4 L319.0,634.8 L319.5,634.2 L320.0,633.6 L320.5,633.0 L321.0,632.4 L321.5,631.7 L322.0,630.9 L322.5,630.2 L323.0,629.5 L323.5,628.8 L324.0,628.2 L324.5,627.6 L325.0,627.1 L325.5,626.6 L326.0,626.2 L326.5,625.7 L327.0,625.2 L327.5,624.8 L328.0,624.3 L328.5,623.9 L329.0,623.5 L329.5,623.2 L330.0,622.9 L330.5,622.6 L331.0,622.5 L331.5,622.3 L332.0,622.3 L332.5,622.7 L333.0,623.6 L333.5,624.8 L334.0,626.2 L334.5,627.4 L335.0,628.2 L335.5,628.7 L336.0,629.1 L336.5,629.4 L337.0,629.7 L337.5,630.1 L338.0,630.4 L338.5,630.7 L339.0,631.0 L339.5,631.3 L340.0,631.6 L340.5,631.9 L341.0,632.3 L341.5,632.7 L342.0,633.2 L342.5,633.9 L343.0,634.8 L343.5,635.9 L344.0,637.1 L344.5,638.2 L345.0,639.1 L345.5,639.9 L346.0,640.7 L346.5,641.5 L347.0,642.3 L347.5,643.0 L348.0,643.7 L348.5,644.3 L349.0,644.9 L349.5,645.3 L350.0,645.6 L350.5,645.9 L351.0,646.1 L351.5,646.3 L352.0,646.5 L352.5,646.7 L353.0,646.9 L353.5,647.0 L354.0,647.1 L354.5,647.2 L355.0,647.2 L355.5,647.2 L356.0,647.1 L356.5,647.1 L357.0,647.0 L357.5,646.9 L358.0,646.8 L358.5,646.7 L359.0,646.5 L359.5,646.4 L360.0,646.3 L360.5,646.2 L361.0,646.0 L361.5,645.7 L362.0,645.5 L362.5,645.2 L363.0,645.0 L363.5,644.8 L364.0,644.6 L364.5,644.5 L365.0,644.5 L365.5,644.5 L366.0,644.6 L366.5,644.7 L367.0,644.8 L367.5,644.9 L368.0,645.0 L368.5,645.2 L369.0,645.3 L369.5,645.5 L370.0,645.6 L370.5,645.7 L371.0,645.9 L371.5,646.0 L372.0,646.1 L372.5,646.3 L373.0,646.4 L373.5,646.5 L374.0,646.7 L374.5,646.8 L375.0,647.0 L375.5,647.1 L376.0,647.3 L376.5,647.4 L377.0,647.6 L377.5,647.7 L378.0,647.9 L378.5,648.1 L379.0,648.2 L379.5,648.4 L380.0,648.5 L380.5,648.7 L381.0,648.8 L381.5,649.0 L382.0,649.2 L382.5,649.4 L383.0,649.6 L383.5,649.8 L384.0,649.9 L384.5,650.0 L385.0,650.0 L385.5,649.9 L386.0,649.7 L386.5,649.4 L387.0,649.0 L387.5,648.6 L388.0,648.2 L388.5,647.8 L389.0,647.5 L389.5,647.3 L390.0,647.2 L390.5,647.2 L391.0,647.2 L391.5,647.2 L392.0,647.2 L392.5,647.2 L393.0,647.2 L393.5,647.2 L394.0,647.2 L394.5,647.2 L395.0,647.2 L395.5,647.2 L396.0,647.2 L396.5,647.2 L397.0,647.2 L397.5,647.2 L398.0,647.2 L398.5,647.2 L399.0,647.2 L399.5,647.2 L400.0,647.2 L400.5,647.2 L401.0,647.2 L401.5,647.2 L402.0,647.2 L402.5,647.2 L403.0,647.2 L403.5,647.2 L404.0,647.2 L404.5,647.2 L405.0,647.2 L405.5,647.2 L406.0,647.2 L406.5,647.2 L407.0,647.2 L407.5,647.2 L408.0,647.2 L408.5,647.2 L409.0,647.2 L409.5,647.2 L410.0,647.2 L410.5,647.2 L411.0,647.2 L411.5,647.2 L412.0,647.2 L412.5,647.2 L413.0,647.2 L413.5,647.2 L414.0,647.2 L414.5,647.2 L415.0,647.2 L415.5,647.2 L416.0,647.2 L416.5,647.2 L417.0,647.2 L417.5,647.2 L418.0,647.2 L418.5,647.2 L419.0,647.2 L419.5,647.2 L420.0,647.2 L420.5,647.2 L421.0,647.2 L421.5,647.1 L422.0,647.1 L422.5,647.0 L423.0,647.0 L423.5,646.9 L424.0,646.8 L424.5,646.7 L425.0,646.6 L425.5,646.5 L426.0,646.4 L426.5,646.3 L427.0,646.2 L427.5,646.1 L428.0,646.0 L428.5,645.9 L429.0,645.8 L429.5,645.7 L430.0,645.6 L430.5,645.5 L431.0,645.5 L431.5,645.4 L432.0,645.3 L432.5,645.3 L433.0,645.2 L433.5,645.2 L434.0,645.1 L434.5,645.1 L435.0,645.0 L435.5,645.0 L436.0,644.9 L436.5,644.8 L437.0,644.7 L437.5,644.6 L438.0,644.5 L438.5,644.4 L439.0,644.3 L439.5,644.2 L440.0,644.0 L440.5,643.7 L441.0,643.2 L441.5,642.5 L442.0,641.8 L442.5,640.9 L443.0,640.0 L443.5,638.8 L444.0,637.1 L444.5,635.3 L445.0,633.7 L445.5,632.5 L446.0,632.0 L446.5,632.2 L447.0,632.8 L447.5,633.6 L448.0,634.6 L448.5,635.6 L449.0,636.4 L449.5,637.3 L450.0,638.3 L450.5,639.3 L451.0,640.1 L451.5,640.8 L452.0,641.0 L452.5,641.0 L453.0,641.0 L453.5,641.0 L454.0,641.0 L454.5,641.0 L455.0,641.0 L455.5,641.0 L456.0,641.0 L456.5,641.0 L457.0,641.0 L457.5,641.0 L458.0,641.0 L458.5,641.0 L459.0,641.0 L459.5,641.0 L460.0,641.0 L460.5,641.0 L461.0,641.0 L461.5,641.0 L462.0,641.0 L462.5,641.0 L463.0,641.0 L463.5,641.0 L464.0,641.0 L464.5,641.0 L465.0,641.0 L465.5,641.0 L466.0,641.0 L466.5,641.0 L467.0,641.0 L467.5,641.0 L468.0,641.0 L468.5,641.0 L469.0,641.0 L469.5,641.0 L470.0,641.0 L470.5,641.0 L471.0,641.0 L471.5,641.0 L472.0,641.0 L472.5,641.0 L473.0,640.9 L473.5,640.9 L474.0,640.9 L474.5,640.9 L475.0,640.8 L475.5,640.8 L476.0,640.8 L476.5,640.7 L477.0,640.7 L477.5,640.6 L478.0,640.6 L478.5,640.5 L479.0,640.5 L479.5,640.4 L480.0,640.4 L480.5,640.3 L481.0,640.3 L481.5,640.2 L482.0,640.1 L482.5,640.1 L483.0,640.0 L483.5,640.0 L484.0,639.9 L484.5,639.8 L485.0,639.7 L485.5,639.7 L486.0,639.6 L486.5,639.5 L487.0,639.5 L487.5,639.4 L488.0,639.3 L488.5,639.2 L489.0,639.2 L489.5,639.1 L490.0,639.0 L490.5,638.9 L491.0,638.8 L491.5,638.7 L492.0,638.5 L492.5,638.4 L493.0,638.2 L493.5,638.0 L494.0,637.9 L494.5,637.7 L495.0,637.5 L495.5,637.3 L496.0,637.0 L496.5,636.8 L497.0,636.6 L497.5,636.4 L498.0,636.2 L498.5,636.0 L499.0,635.8 L499.5,635.6 L500.0,635.4 L500.5,635.2 L501.0,635.1 L501.5,634.9 L502.0,634.8 L502.5,634.7 L503.0,634.6 L503.5,634.5 L504.0,634.4 L504.5,634.4 L505.0,634.4 L505.5,634.4 L506.0,634.5 L506.5,634.5 L507.0,634.6 L507.5,634.7 L508.0,634.8 L508.5,635.0 L509.0,635.1 L509.5,635.3 L510.0,635.4 L510.5,635.5 L511.0,635.7 L511.5,635.8 L512.0,636.0 L512.5,636.1 L513.0,636.2 L513.5,636.3 L514.0,636.3 L514.5,636.4 L515.0,636.4 L515.5,636.4 L516.0,636.4 L516.5,636.3 L517.0,636.3 L517.5,636.2 L518.0,636.1 L518.5,636.0 L519.0,635.9 L519.5,635.8 L520.0,635.6 L520.5,635.5 L521.0,635.4 L521.5,635.3 L522.0,635.2 L522.5,635.0 L523.0,634.9 L523.5,634.8 L524.0,634.7 L524.5,634.6 L525.0,634.5 L525.5,634.5 L526.0,634.4 L526.5,634.4 L527.0,634.4 L527.5,634.4 L528.0,634.4 L528.5,634.5 L529.0,634.6 L529.5,634.7 L530.0,634.8 L530.5,634.9 L531.0,635.1 L531.5,635.2 L532.0,635.4 L532.5,635.5 L533.0,635.7 L533.5,635.9 L534.0,636.1 L534.5,636.2 L535.0,636.4 L535.5,636.6 L536.0,636.7 L536.5,636.9 L537.0,637.0" stroke="#6A6A6A" stroke-width="2.0" fill="none" stroke-linejoin="round" stroke-linecap="round"/>
<path d="M24.0,682.5 L24.5,682.5 L25.0,682.5 L25.5,682.4 L26.0,682.4 L26.5,682.4 L27.0,682.4 L27.5,682.4 L28.0,682.3 L28.5,682.3 L29.0,682.3 L29.5,682.3 L30.0,682.3 L30.5,682.3 L31.0,682.2 L31.5,682.2 L32.0,682.2 L32.5,682.2 L33.0,682.2 L33.5,682.1 L34.0,682.1 L34.5,682.1 L35.0,682.0 L35.5,682.0 L36.0,682.0 L36.5,681.9 L37.0,681.9 L37.5,681.8 L38.0,681.8 L38.5,681.7 L39.0,681.6 L39.5,681.5 L40.0,681.3 L40.5,681.1 L41.0,680.9 L41.5,680.7 L42.0,680.4 L42.5,680.0 L43.0,679.6 L43.5,679.0 L44.0,678.3 L44.5,677.6 L45.0,676.8 L45.5,676.0 L46.0,675.3 L46.5,674.5 L47.0,673.6 L47.5,672.7 L48.0,671.8 L48.5,670.9 L49.0,670.0 L49.5,669.3 L50.0,668.7 L50.5,668.2 L51.0,667.9 L51.5,667.5 L52.0,667.2 L52.5,666.9 L53.0,666.6 L53.5,666.2 L54.0,665.8 L54.5,665.2 L55.0,664.5 L55.5,663.7 L56.0,662.9 L56.5,662.4 L57.0,662.2 L57.5,662.3 L58.0,662.7 L58.5,663.3 L59.0,664.0 L59.5,664.9 L60.0,665.8 L60.5,667.3 L61.0,669.6 L61.5,671.9 L62.0,673.8 L62.5,675.3 L63.0,676.6 L63.5,677.7 L64.0,678.2 L64.5,678.4 L65.0,678.5 L65.5,678.6 L66.0,678.7 L66.5,678.8 L67.0,678.9 L67.5,678.9 L68.0,679.0 L68.5,679.0 L69.0,679.1 L69.5,679.1 L70.0,679.2 L70.5,679.3 L71.0,679.3 L71.5,679.4 L72.0,679.4 L72.5,679.5 L73.0,679.5 L73.5,679.6 L74.0,679.7 L74.5,679.7 L75.0,679.8 L75.5,679.8 L76.0,679.9 L76.5,679.9 L77.0,680.0 L77.5,680.0 L78.0,680.1 L78.5,680.1 L79.0,680.2 L79.5,680.2 L80.0,680.3 L80.5,680.3 L81.0,680.4 L81.5,680.4 L82.0,680.5 L82.5,680.5 L83.0,680.6 L83.5,680.6 L84.0,680.6 L84.5,680.7 L85.0,680.7 L85.5,680.8 L86.0,680.8 L86.5,680.8 L87.0,680.9 L87.5,680.9 L88.0,680.9 L88.5,680.9 L89.0,681.0 L89.5,681.0 L90.0,681.0 L90.5,681.1 L91.0,681.1 L91.5,681.1 L92.0,681.1 L92.5,681.1 L93.0,681.2 L93.5,681.2 L94.0,681.2 L94.5,681.2 L95.0,681.2 L95.5,681.2 L96.0,681.2 L96.5,681.2 L97.0,681.2 L97.5,681.2 L98.0,681.3 L98.5,681.3 L99.0,681.3 L99.5,681.3 L100.0,681.3 L100.5,681.3 L101.0,681.3 L101.5,681.3 L102.0,681.3 L102.5,681.3 L103.0,681.3 L103.5,681.3 L104.0,681.3 L104.5,681.3 L105.0,681.4 L105.5,681.4 L106.0,681.4 L106.5,681.4 L107.0,681.4 L107.5,681.4 L108.0,681.4 L108.5,681.4 L109.0,681.4 L109.5,681.4 L110.0,681.4 L110.5,681.4 L111.0,681.4 L111.5,681.4 L112.0,681.4 L112.5,681.4 L113.0,681.5 L113.5,681.5 L114.0,681.5 L114.5,681.5 L115.0,681.5 L115.5,681.5 L116.0,681.5 L116.5,681.5 L117.0,681.5 L117.5,681.5 L118.0,681.5 L118.5,681.5 L119.0,681.5 L119.5,681.5 L120.0,681.5 L120.5,681.5 L121.0,681.5 L121.5,681.5 L122.0,681.5 L122.5,681.5 L123.0,681.5 L123.5,681.5 L124.0,681.5 L124.5,681.6 L125.0,681.6 L125.5,681.6 L126.0,681.6 L126.5,681.6 L127.0,681.6 L127.5,681.6 L128.0,681.6 L128.5,681.6 L129.0,681.6 L129.5,681.6 L130.0,681.6 L130.5,681.6 L131.0,681.6 L131.5,681.6 L132.0,681.6 L132.5,681.6 L133.0,681.6 L133.5,681.6 L134.0,681.6 L134.5,681.6 L135.0,681.6 L135.5,681.6 L136.0,681.6 L136.5,681.6 L137.0,681.6 L137.5,681.6 L138.0,681.6 L138.5,681.6 L139.0,681.6 L139.5,681.6 L140.0,681.6 L140.5,681.6 L141.0,681.6 L141.5,681.6 L142.0,681.5 L142.5,681.5 L143.0,681.5 L143.5,681.4 L144.0,681.4 L144.5,681.3 L145.0,681.3 L145.5,681.2 L146.0,681.2 L146.5,681.1 L147.0,681.0 L147.5,680.9 L148.0,680.9 L148.5,680.8 L149.0,680.7 L149.5,680.6 L150.0,680.5 L150.5,680.4 L151.0,680.3 L151.5,680.2 L152.0,680.1 L152.5,680.0 L153.0,679.9 L153.5,679.8 L154.0,679.7 L154.5,679.6 L155.0,679.5 L155.5,679.4 L156.0,679.3 L156.5,679.2 L157.0,679.1 L157.5,679.0 L158.0,678.9 L158.5,678.9 L159.0,678.8 L159.5,678.7 L160.0,678.6 L160.5,678.5 L161.0,678.4 L161.5,678.3 L162.0,678.2 L162.5,678.1 L163.0,678.0 L163.5,677.9 L164.0,677.8 L164.5,677.7 L165.0,677.6 L165.5,677.5 L166.0,677.4 L166.5,677.3 L167.0,677.1 L167.5,677.0 L168.0,676.9 L168.5,676.8 L169.0,676.7 L169.5,676.6 L170.0,676.5 L170.5,676.4 L171.0,676.3 L171.5,676.2 L172.0,676.1 L172.5,676.1 L173.0,676.0 L173.5,675.9 L174.0,675.9 L174.5,675.8 L175.0,675.8 L175.5,675.7 L176.0,675.7 L176.5,675.7 L177.0,675.7 L177.5,675.7 L178.0,675.7 L178.5,675.8 L179.0,675.8 L179.5,675.9 L180.0,675.9 L180.5,676.0 L181.0,676.1 L181.5,676.2 L182.0,676.3 L182.5,676.4 L183.0,676.5 L183.5,676.6 L184.0,676.7 L184.5,676.8 L185.0,676.9 L185.5,677.0 L186.0,677.1 L186.5,677.2 L187.0,677.3 L187.5,677.3 L188.0,677.4 L188.5,677.4 L189.0,677.5 L189.5,677.5 L190.0,677.5 L190.5,677.5 L191.0,677.5 L191.5,677.5 L192.0,677.5 L192.5,677.5 L193.0,677.5 L193.5,677.4 L194.0,677.4 L194.5,677.4 L195.0,677.4 L195.5,677.4 L196.0,677.3 L196.5,677.3 L197.0,677.3 L197.5,677.3 L198.0,677.2 L198.5,677.2 L199.0,677.2 L199.5,677.1 L200.0,677.1 L200.5,677.0 L201.0,677.0 L201.5,677.0 L202.0,676.9 L202.5,676.9 L203.0,676.8 L203.5,676.8 L204.0,676.8 L204.5,676.7 L205.0,676.7 L205.5,676.6 L206.0,676.6 L206.5,676.5 L207.0,676.5 L207.5,676.4 L208.0,676.4 L208.5,676.3 L209.0,676.3 L209.5,676.2 L210.0,676.2 L210.5,676.2 L211.0,676.1 L211.5,676.1 L212.0,676.0 L212.5,676.0 L213.0,675.9 L213.5,675.9 L214.0,675.8 L214.5,675.8 L215.0,675.7 L215.5,675.6 L216.0,675.5 L216.5,675.5 L217.0,675.4 L217.5,675.3 L218.0,675.2 L218.5,675.1 L219.0,675.0 L219.5,674.8 L220.0,674.7 L220.5,674.5 L221.0,674.2 L221.5,673.7 L222.0,673.2 L222.5,672.7 L223.0,672.1 L223.5,671.5 L224.0,670.8 L224.5,670.2 L225.0,669.6 L225.5,669.0 L226.0,668.3 L226.5,667.6 L227.0,666.8 L227.5,666.1 L228.0,665.3 L228.5,664.7 L229.0,664.0 L229.5,663.5 L230.0,663.1 L230.5,662.7 L231.0,662.4 L231.5,662.1 L232.0,661.8 L232.5,661.7 L233.0,661.6 L233.5,661.7 L234.0,662.1 L234.5,662.5 L235.0,663.1 L235.5,663.7 L236.0,664.1 L236.5,664.5 L237.0,664.6 L237.5,664.6 L238.0,664.5 L238.5,664.5 L239.0,664.4 L239.5,664.3 L240.0,664.3 L240.5,664.2 L241.0,664.2 L241.5,664.3 L242.0,664.5 L242.5,664.9 L243.0,665.4 L243.5,665.9 L244.0,666.5 L244.5,667.0 L245.0,667.5 L245.5,668.0 L246.0,668.5 L246.5,669.1 L247.0,669.7 L247.5,670.3 L248.0,670.8 L248.5,671.4 L249.0,671.8 L249.5,672.2 L250.0,672.5 L250.5,672.7 L251.0,673.0 L251.5,673.2 L252.0,673.4 L252.5,673.5 L253.0,673.7 L253.5,673.8 L254.0,673.9 L254.5,674.0 L255.0,674.0 L255.5,674.0 L256.0,674.0 L256.5,674.0 L257.0,674.0 L257.5,674.0 L258.0,673.9 L258.5,673.9 L259.0,673.9 L259.5,673.9 L260.0,673.8 L260.5,673.8 L261.0,673.8 L261.5,673.7 L262.0,673.7 L262.5,673.6 L263.0,673.6 L263.5,673.5 L264.0,673.5 L264.5,673.5 L265.0,673.4 L265.5,673.3 L266.0,673.3 L266.5,673.1 L267.0,673.0 L267.5,672.9 L268.0,672.7 L268.5,672.5 L269.0,672.4 L269.5,672.2 L270.0,671.9 L270.5,671.7 L271.0,671.5 L271.5,671.3 L272.0,671.0 L272.5,670.8 L273.0,670.6 L273.5,670.3 L274.0,670.1 L274.5,669.8 L275.0,669.6 L275.5,669.3 L276.0,669.0 L276.5,668.7 L277.0,668.3 L277.5,667.9 L278.0,667.6 L278.5,667.3 L279.0,667.0 L279.5,666.9 L280.0,666.8 L280.5,666.9 L281.0,667.1 L281.5,667.4 L282.0,667.8 L282.5,668.2 L283.0,668.6 L283.5,669.0 L284.0,669.3 L284.5,669.5 L285.0,669.6 L285.5,669.5 L286.0,669.3 L286.5,668.9 L287.0,668.4 L287.5,667.9 L288.0,667.3 L288.5,666.7 L289.0,666.2 L289.5,665.7 L290.0,665.3 L290.5,665.0 L291.0,664.6 L291.5,664.2 L292.0,663.8 L292.5,663.5 L293.0,663.1 L293.5,662.8 L294.0,662.4 L294.5,662.1 L295.0,661.8 L295.5,661.6 L296.0,661.3 L296.5,661.2 L297.0,661.0 L297.5,660.9 L298.0,660.9 L298.5,661.2 L299.0,662.0 L299.5,663.1 L300.0,664.2 L300.5,665.0 L301.0,665.3 L301.5,665.2 L302.0,665.0 L302.5,664.6 L303.0,664.2 L303.5,663.8 L304.0,663.4 L304.5,663.2 L305.0,663.1 L305.5,663.2 L306.0,663.3 L306.5,663.6 L307.0,664.0 L307.5,664.4 L308.0,664.8 L308.5,665.3 L309.0,665.8 L309.5,666.2 L310.0,666.6 L310.5,667.0 L311.0,667.3 L311.5,667.4 L312.0,667.5 L312.5,667.4 L313.0,667.3 L313.5,667.1 L314.0,666.8 L314.5,666.4 L315.0,665.9 L315.5,665.5 L316.0,664.9 L316.5,664.4 L317.0,663.8 L317.5,663.2 L318.0,662.6 L318.5,662.0 L319.0,661.4 L319.5,660.8 L320.0,660.3 L320.5,659.8 L321.0,659.2 L321.5,658.6 L322.0,657.9 L322.5,657.3 L323.0,656.6 L323.5,656.0 L324.0,655.4 L324.5,654.9 L325.0,654.4 L325.5,653.9 L326.0,653.4 L326.5,653.0 L327.0,652.5 L327.5,652.0 L328.0,651.5 L328.5,651.1 L329.0,650.6 L329.5,650.3 L330.0,649.9 L330.5,649.7 L331.0,649.5 L331.5,649.3 L332.0,649.3 L332.5,649.5 L333.0,650.1 L333.5,650.9 L334.0,651.8 L334.5,652.7 L335.0,653.3 L335.5,653.7 L336.0,654.2 L336.5,654.5 L337.0,654.9 L337.5,655.2 L338.0,655.5 L338.5,655.8 L339.0,656.0 L339.5,656.2 L340.0,656.4 L340.5,656.6 L341.0,656.9 L341.5,657.2 L342.0,657.6 L342.5,658.2 L343.0,659.2 L343.5,660.4 L344.0,661.6 L344.5,662.8 L345.0,663.8 L345.5,664.7 L346.0,665.6 L346.5,666.4 L347.0,667.3 L347.5,668.1 L348.0,668.8 L348.5,669.6 L349.0,670.2 L349.5,670.7 L350.0,671.2 L350.5,671.6 L351.0,672.0 L351.5,672.4 L352.0,672.8 L352.5,673.1 L353.0,673.4 L353.5,673.7 L354.0,673.8 L354.5,674.0 L355.0,674.0 L355.5,674.0 L356.0,674.0 L356.5,673.9 L357.0,673.9 L357.5,673.8 L358.0,673.7 L358.5,673.7 L359.0,673.6 L359.5,673.5 L360.0,673.4 L360.5,673.3 L361.0,673.1 L361.5,672.9 L362.0,672.7 L362.5,672.5 L363.0,672.3 L363.5,672.1 L364.0,671.9 L364.5,671.8 L365.0,671.8 L365.5,671.8 L366.0,671.9 L366.5,672.0 L367.0,672.1 L367.5,672.2 L368.0,672.3 L368.5,672.5 L369.0,672.6 L369.5,672.8 L370.0,672.9 L370.5,673.0 L371.0,673.1 L371.5,673.3 L372.0,673.4 L372.5,673.5 L373.0,673.6 L373.5,673.8 L374.0,673.9 L374.5,674.0 L375.0,674.2 L375.5,674.3 L376.0,674.4 L376.5,674.6 L377.0,674.7 L377.5,674.8 L378.0,675.0 L378.5,675.1 L379.0,675.2 L379.5,675.4 L380.0,675.5 L380.5,675.6 L381.0,675.8 L381.5,676.0 L382.0,676.1 L382.5,676.3 L383.0,676.5 L383.5,676.6 L384.0,676.7 L384.5,676.8 L385.0,676.8 L385.5,676.7 L386.0,676.5 L386.5,676.2 L387.0,675.8 L387.5,675.4 L388.0,675.0 L388.5,674.6 L389.0,674.3 L389.5,674.1 L390.0,674.0 L390.5,674.0 L391.0,674.0 L391.5,674.0 L392.0,674.1 L392.5,674.1 L393.0,674.1 L393.5,674.2 L394.0,674.2 L394.5,674.3 L395.0,674.3 L395.5,674.4 L396.0,674.4 L396.5,674.5 L397.0,674.5 L397.5,674.5 L398.0,674.6 L398.5,674.6 L399.0,674.7 L399.5,674.7 L400.0,674.7 L400.5,674.7 L401.0,674.7 L401.5,674.7 L402.0,674.8 L402.5,674.8 L403.0,674.8 L403.5,674.8 L404.0,674.8 L404.5,674.8 L405.0,674.9 L405.5,674.9 L406.0,674.9 L406.5,674.9 L407.0,674.9 L407.5,674.9 L408.0,674.9 L408.5,674.9 L409.0,675.0 L409.5,675.0 L410.0,675.0 L410.5,675.0 L411.0,675.0 L411.5,675.0 L412.0,675.0 L412.5,675.0 L413.0,675.0 L413.5,675.0 L414.0,675.1 L414.5,675.1 L415.0,675.1 L415.5,675.1 L416.0,675.1 L416.5,675.1 L417.0,675.1 L417.5,675.1 L418.0,675.1 L418.5,675.1 L419.0,675.1 L419.5,675.1 L420.0,675.1 L420.5,675.1 L421.0,675.0 L421.5,675.0 L422.0,674.9 L422.5,674.8 L423.0,674.6 L423.5,674.5 L424.0,674.3 L424.5,674.2 L425.0,674.0 L425.5,673.8 L426.0,673.6 L426.5,673.4 L427.0,673.3 L427.5,673.1 L428.0,672.9 L428.5,672.8 L429.0,672.6 L429.5,672.5 L430.0,672.4 L430.5,672.3 L431.0,672.2 L431.5,672.2 L432.0,672.1 L432.5,672.1 L433.0,672.0 L433.5,672.0 L434.0,671.9 L434.5,671.9 L435.0,671.8 L435.5,671.8 L436.0,671.7 L436.5,671.7 L437.0,671.6 L437.5,671.5 L438.0,671.5 L438.5,671.4 L439.0,671.3 L439.5,671.1 L440.0,671.0 L440.5,670.7 L441.0,670.2 L441.5,669.6 L442.0,668.8 L442.5,667.9 L443.0,667.0 L443.5,665.8 L444.0,664.1 L444.5,662.3 L445.0,660.7 L445.5,659.5 L446.0,659.0 L446.5,659.3 L447.0,659.9 L447.5,660.9 L448.0,662.0 L448.5,663.1 L449.0,664.0 L449.5,664.9 L450.0,665.8 L450.5,666.8 L451.0,667.6 L451.5,668.2 L452.0,668.4 L452.5,668.4 L453.0,668.4 L453.5,668.4 L454.0,668.4 L454.5,668.4 L455.0,668.4 L455.5,668.4 L456.0,668.4 L456.5,668.4 L457.0,668.4 L457.5,668.4 L458.0,668.4 L458.5,668.4 L459.0,668.4 L459.5,668.4 L460.0,668.4 L460.5,668.4 L461.0,668.4 L461.5,668.4 L462.0,668.4 L462.5,668.4 L463.0,668.4 L463.5,668.4 L464.0,668.4 L464.5,668.4 L465.0,668.4 L465.5,668.4 L466.0,668.4 L466.5,668.4 L467.0,668.4 L467.5,668.4 L468.0,668.4 L468.5,668.4 L469.0,668.4 L469.5,668.4 L470.0,668.4 L470.5,668.4 L471.0,668.4 L471.5,668.4 L472.0,668.4 L472.5,668.3 L473.0,668.3 L473.5,668.3 L474.0,668.3 L474.5,668.2 L475.0,668.2 L475.5,668.2 L476.0,668.1 L476.5,668.1 L477.0,668.0 L477.5,668.0 L478.0,667.9 L478.5,667.9 L479.0,667.8 L479.5,667.8 L480.0,667.7 L480.5,667.6 L481.0,667.6 L481.5,667.5 L482.0,667.4 L482.5,667.4 L483.0,667.3 L483.5,667.2 L484.0,667.2 L484.5,667.1 L485.0,667.0 L485.5,667.0 L486.0,666.9 L486.5,666.8 L487.0,666.8 L487.5,666.7 L488.0,666.6 L488.5,666.6 L489.0,666.5 L489.5,666.5 L490.0,666.4 L490.5,666.3 L491.0,666.3 L491.5,666.2 L492.0,666.2 L492.5,666.1 L493.0,666.1 L493.5,666.0 L494.0,665.9 L494.5,665.9 L495.0,665.8 L495.5,665.8 L496.0,665.7 L496.5,665.6 L497.0,665.5 L497.5,665.5 L498.0,665.4 L498.5,665.3 L499.0,665.2 L499.5,665.1 L500.0,665.0 L500.5,664.9 L501.0,664.7 L501.5,664.4 L502.0,664.2 L502.5,663.9 L503.0,663.6 L503.5,663.3 L504.0,663.0 L504.5,662.7 L505.0,662.5 L505.5,662.3 L506.0,662.1 L506.5,662.0 L507.0,662.0 L507.5,662.0 L508.0,662.1 L508.5,662.2 L509.0,662.3 L509.5,662.5 L510.0,662.6 L510.5,662.8 L511.0,663.0 L511.5,663.2 L512.0,663.4 L512.5,663.5 L513.0,663.7 L513.5,663.8 L514.0,663.9 L514.5,664.0 L515.0,664.0 L515.5,664.0 L516.0,664.0 L516.5,663.9 L517.0,663.9 L517.5,663.8 L518.0,663.8 L518.5,663.7 L519.0,663.6 L519.5,663.5 L520.0,663.4 L520.5,663.3 L521.0,663.2 L521.5,663.1 L522.0,663.0 L522.5,662.9 L523.0,662.8 L523.5,662.7 L524.0,662.6 L524.5,662.6 L525.0,662.5 L525.5,662.5 L526.0,662.4 L526.5,662.4 L527.0,662.4 L527.5,662.4 L528.0,662.4 L528.5,662.5 L529.0,662.6 L529.5,662.7 L530.0,662.8 L530.5,662.9 L531.0,663.1 L531.5,663.2 L532.0,663.4 L532.5,663.5 L533.0,663.7 L533.5,663.9 L534.0,664.1 L534.5,664.2 L535.0,664.4 L535.5,664.6 L536.0,664.7 L536.5,664.9 L537.0,665.0" stroke="#FF8A4C" stroke-width="2.0" fill="none" stroke-linejoin="round" stroke-linecap="round"/>
<path d="M24.0,709.2 L24.5,709.2 L25.0,709.1 L25.5,709.1 L26.0,709.1 L26.5,709.1 L27.0,709.0 L27.5,709.0 L28.0,709.0 L28.5,709.0 L29.0,709.0 L29.5,708.9 L30.0,708.9 L30.5,708.9 L31.0,708.9 L31.5,708.8 L32.0,708.8 L32.5,708.8 L33.0,708.8 L33.5,708.7 L34.0,708.7 L34.5,708.7 L35.0,708.6 L35.5,708.6 L36.0,708.5 L36.5,708.5 L37.0,708.4 L37.5,708.4 L38.0,708.3 L38.5,708.2 L39.0,708.1 L39.5,707.9 L40.0,707.7 L40.5,707.4 L41.0,707.2 L41.5,706.8 L42.0,706.5 L42.5,706.0 L43.0,705.3 L43.5,704.4 L44.0,703.4 L44.5,702.4 L45.0,701.3 L45.5,700.3 L46.0,699.3 L46.5,698.3 L47.0,697.3 L47.5,696.3 L48.0,695.3 L48.5,694.3 L49.0,693.4 L49.5,692.6 L50.0,692.0 L50.5,691.5 L51.0,691.1 L51.5,690.8 L52.0,690.5 L52.5,690.2 L53.0,689.9 L53.5,689.5 L54.0,689.1 L54.5,688.5 L55.0,687.8 L55.5,687.0 L56.0,686.2 L56.5,685.7 L57.0,685.5 L57.5,685.6 L58.0,686.0 L58.5,686.5 L59.0,687.3 L59.5,688.1 L60.0,689.1 L60.5,690.9 L61.0,693.8 L61.5,696.9 L62.0,699.3 L62.5,701.2 L63.0,703.0 L63.5,704.4 L64.0,705.1 L64.5,705.3 L65.0,705.5 L65.5,705.7 L66.0,705.9 L66.5,706.0 L67.0,706.1 L67.5,706.2 L68.0,706.3 L68.5,706.3 L69.0,706.4 L69.5,706.4 L70.0,706.5 L70.5,706.6 L71.0,706.6 L71.5,706.7 L72.0,706.7 L72.5,706.8 L73.0,706.8 L73.5,706.9 L74.0,706.9 L74.5,707.0 L75.0,707.0 L75.5,707.0 L76.0,707.1 L76.5,707.1 L77.0,707.2 L77.5,707.2 L78.0,707.3 L78.5,707.3 L79.0,707.3 L79.5,707.4 L80.0,707.4 L80.5,707.5 L81.0,707.5 L81.5,707.5 L82.0,707.6 L82.5,707.6 L83.0,707.6 L83.5,707.6 L84.0,707.7 L84.5,707.7 L85.0,707.7 L85.5,707.8 L86.0,707.8 L86.5,707.8 L87.0,707.8 L87.5,707.8 L88.0,707.9 L88.5,707.9 L89.0,707.9 L89.5,707.9 L90.0,707.9 L90.5,707.9 L91.0,708.0 L91.5,708.0 L92.0,708.0 L92.5,708.0 L93.0,708.0 L93.5,708.0 L94.0,708.0 L94.5,708.0 L95.0,708.0 L95.5,708.0 L96.0,708.0 L96.5,708.0 L97.0,708.0 L97.5,708.0 L98.0,708.0 L98.5,708.0 L99.0,708.0 L99.5,708.0 L100.0,708.0 L100.5,708.0 L101.0,708.0 L101.5,708.0 L102.0,708.0 L102.5,708.0 L103.0,708.0 L103.5,708.0 L104.0,708.0 L104.5,708.0 L105.0,708.0 L105.5,708.0 L106.0,708.0 L106.5,708.0 L107.0,708.0 L107.5,708.0 L108.0,708.0 L108.5,708.0 L109.0,708.0 L109.5,708.0 L110.0,708.0 L110.5,708.0 L111.0,708.0 L111.5,708.0 L112.0,708.0 L112.5,708.0 L113.0,708.0 L113.5,708.0 L114.0,708.0 L114.5,708.0 L115.0,708.0 L115.5,708.0 L116.0,708.0 L116.5,708.0 L117.0,708.0 L117.5,708.0 L118.0,708.0 L118.5,708.0 L119.0,708.0 L119.5,708.0 L120.0,708.0 L120.5,708.0 L121.0,708.0 L121.5,708.0 L122.0,708.0 L122.5,708.0 L123.0,708.0 L123.5,708.0 L124.0,708.0 L124.5,708.0 L125.0,708.0 L125.5,708.0 L126.0,708.0 L126.5,708.0 L127.0,708.0 L127.5,708.0 L128.0,708.0 L128.5,708.0 L129.0,708.0 L129.5,708.0 L130.0,708.0 L130.5,708.0 L131.0,708.0 L131.5,708.0 L132.0,708.0 L132.5,708.0 L133.0,708.0 L133.5,708.0 L134.0,708.0 L134.5,708.0 L135.0,708.0 L135.5,708.0 L136.0,708.0 L136.5,708.0 L137.0,708.0 L137.5,708.0 L138.0,708.0 L138.5,708.0 L139.0,708.0 L139.5,708.0 L140.0,708.0 L140.5,708.0 L141.0,708.0 L141.5,707.9 L142.0,707.9 L142.5,707.8 L143.0,707.7 L143.5,707.7 L144.0,707.6 L144.5,707.5 L145.0,707.4 L145.5,707.3 L146.0,707.2 L146.5,707.0 L147.0,706.9 L147.5,706.8 L148.0,706.7 L148.5,706.6 L149.0,706.5 L149.5,706.4 L150.0,706.3 L150.5,706.2 L151.0,706.1 L151.5,706.0 L152.0,705.9 L152.5,705.8 L153.0,705.7 L153.5,705.6 L154.0,705.5 L154.5,705.4 L155.0,705.3 L155.5,705.2 L156.0,705.1 L156.5,705.0 L157.0,704.9 L157.5,704.8 L158.0,704.7 L158.5,704.6 L159.0,704.6 L159.5,704.5 L160.0,704.5 L160.5,704.5 L161.0,704.4 L161.5,704.4 L162.0,704.4 L162.5,704.4 L163.0,704.4 L163.5,704.4 L164.0,704.3 L164.5,704.3 L165.0,704.3 L165.5,704.3 L166.0,704.3 L166.5,704.3 L167.0,704.3 L167.5,704.2 L168.0,704.2 L168.5,704.2 L169.0,704.2 L169.5,704.1 L170.0,704.1 L170.5,704.0 L171.0,703.9 L171.5,703.7 L172.0,703.5 L172.5,703.3 L173.0,703.0 L173.5,702.7 L174.0,702.5 L174.5,702.2 L175.0,702.0 L175.5,701.8 L176.0,701.6 L176.5,701.5 L177.0,701.5 L177.5,701.5 L178.0,701.5 L178.5,701.6 L179.0,701.6 L179.5,701.6 L180.0,701.7 L180.5,701.8 L181.0,701.8 L181.5,701.9 L182.0,702.0 L182.5,702.1 L183.0,702.2 L183.5,702.2 L184.0,702.3 L184.5,702.4 L185.0,702.5 L185.5,702.6 L186.0,702.7 L186.5,702.7 L187.0,702.8 L187.5,702.9 L188.0,702.9 L188.5,702.9 L189.0,703.0 L189.5,703.0 L190.0,703.0 L190.5,703.0 L191.0,703.0 L191.5,703.0 L192.0,703.0 L192.5,703.0 L193.0,703.0 L193.5,703.0 L194.0,703.0 L194.5,703.0 L195.0,703.0 L195.5,703.0 L196.0,703.0 L196.5,703.0 L197.0,703.0 L197.5,703.0 L198.0,703.0 L198.5,703.0 L199.0,703.0 L199.5,703.0 L200.0,703.0 L200.5,703.0 L201.0,703.0 L201.5,703.0 L202.0,703.0 L202.5,703.0 L203.0,703.0 L203.5,703.0 L204.0,703.0 L204.5,703.0 L205.0,703.0 L205.5,703.0 L206.0,703.0 L206.5,703.0 L207.0,703.0 L207.5,703.0 L208.0,703.0 L208.5,703.0 L209.0,703.0 L209.5,703.0 L210.0,703.0 L210.5,703.0 L211.0,703.0 L211.5,702.9 L212.0,702.9 L212.5,702.8 L213.0,702.7 L213.5,702.6 L214.0,702.5 L214.5,702.3 L215.0,702.2 L215.5,702.0 L216.0,701.9 L216.5,701.7 L217.0,701.5 L217.5,701.3 L218.0,701.1 L218.5,700.9 L219.0,700.7 L219.5,700.4 L220.0,700.2 L220.5,699.9 L221.0,699.5 L221.5,699.0 L222.0,698.5 L222.5,697.9 L223.0,697.3 L223.5,696.6 L224.0,696.0 L224.5,695.3 L225.0,694.7 L225.5,694.0 L226.0,693.3 L226.5,692.6 L227.0,691.8 L227.5,691.0 L228.0,690.2 L228.5,689.5 L229.0,688.8 L229.5,688.3 L230.0,687.8 L230.5,687.4 L231.0,687.0 L231.5,686.6 L232.0,686.3 L232.5,686.1 L233.0,686.0 L233.5,686.1 L234.0,686.4 L234.5,686.8 L235.0,687.3 L235.5,687.8 L236.0,688.2 L236.5,688.5 L237.0,688.6 L237.5,688.6 L238.0,688.6 L238.5,688.6 L239.0,688.6 L239.5,688.6 L240.0,688.6 L240.5,688.6 L241.0,688.6 L241.5,688.7 L242.0,689.0 L242.5,689.5 L243.0,690.1 L243.5,690.7 L244.0,691.4 L244.5,692.0 L245.0,692.6 L245.5,693.1 L246.0,693.7 L246.5,694.3 L247.0,694.9 L247.5,695.6 L248.0,696.1 L248.5,696.7 L249.0,697.2 L249.5,697.6 L250.0,698.0 L250.5,698.3 L251.0,698.6 L251.5,698.9 L252.0,699.2 L252.5,699.5 L253.0,699.7 L253.5,699.9 L254.0,700.1 L254.5,700.2 L255.0,700.2 L255.5,700.2 L256.0,700.2 L256.5,700.2 L257.0,700.1 L257.5,700.1 L258.0,700.1 L258.5,700.0 L259.0,700.0 L259.5,699.9 L260.0,699.9 L260.5,699.8 L261.0,699.7 L261.5,699.7 L262.0,699.6 L262.5,699.5 L263.0,699.4 L263.5,699.4 L264.0,699.3 L264.5,699.2 L265.0,699.1 L265.5,699.0 L266.0,698.9 L266.5,698.7 L267.0,698.5 L267.5,698.3 L268.0,698.1 L268.5,697.9 L269.0,697.7 L269.5,697.4 L270.0,697.1 L270.5,696.9 L271.0,696.6 L271.5,696.3 L272.0,696.0 L272.5,695.7 L273.0,695.4 L273.5,695.1 L274.0,694.8 L274.5,694.6 L275.0,694.3 L275.5,694.0 L276.0,693.7 L276.5,693.3 L277.0,692.9 L277.5,692.6 L278.0,692.2 L278.5,691.9 L279.0,691.7 L279.5,691.6 L280.0,691.5 L280.5,691.6 L281.0,691.8 L281.5,692.1 L282.0,692.5 L282.5,692.9 L283.0,693.3 L283.5,693.7 L284.0,694.0 L284.5,694.2 L285.0,694.3 L285.5,694.2 L286.0,694.0 L286.5,693.7 L287.0,693.3 L287.5,692.8 L288.0,692.3 L288.5,691.7 L289.0,691.2 L289.5,690.8 L290.0,690.4 L290.5,690.0 L291.0,689.7 L291.5,689.3 L292.0,688.9 L292.5,688.5 L293.0,688.1 L293.5,687.7 L294.0,687.3 L294.5,687.0 L295.0,686.6 L295.5,686.3 L296.0,686.1 L296.5,685.9 L297.0,685.7 L297.5,685.6 L298.0,685.6 L298.5,686.0 L299.0,686.8 L299.5,688.0 L300.0,689.2 L300.5,690.0 L301.0,690.4 L301.5,690.3 L302.0,690.1 L302.5,689.7 L303.0,689.3 L303.5,688.9 L304.0,688.5 L304.5,688.3 L305.0,688.2 L305.5,688.3 L306.0,688.4 L306.5,688.7 L307.0,689.1 L307.5,689.5 L308.0,689.9 L308.5,690.4 L309.0,690.9 L309.5,691.3 L310.0,691.7 L310.5,692.1 L311.0,692.4 L311.5,692.5 L312.0,692.6 L312.5,692.5 L313.0,692.4 L313.5,692.2 L314.0,691.8 L314.5,691.4 L315.0,691.0 L315.5,690.5 L316.0,689.9 L316.5,689.4 L317.0,688.8 L317.5,688.2 L318.0,687.6 L318.5,687.0 L319.0,686.4 L319.5,685.8 L320.0,685.3 L320.5,684.8 L321.0,684.3 L321.5,683.7 L322.0,683.2 L322.5,682.6 L323.0,682.1 L323.5,681.5 L324.0,681.0 L324.5,680.4 L325.0,679.9 L325.5,679.3 L326.0,678.7 L326.5,678.0 L327.0,677.3 L327.5,676.6 L328.0,675.9 L328.5,675.3 L329.0,674.6 L329.5,674.0 L330.0,673.5 L330.5,673.1 L331.0,672.8 L331.5,672.6 L332.0,672.5 L332.5,672.8 L333.0,673.5 L333.5,674.5 L334.0,675.6 L334.5,676.6 L335.0,677.3 L335.5,677.8 L336.0,678.3 L336.5,678.8 L337.0,679.2 L337.5,679.6 L338.0,679.9 L338.5,680.2 L339.0,680.4 L339.5,680.5 L340.0,680.7 L340.5,680.8 L341.0,681.0 L341.5,681.3 L342.0,681.6 L342.5,682.2 L343.0,683.2 L343.5,684.4 L344.0,685.8 L344.5,687.1 L345.0,688.2 L345.5,689.2 L346.0,690.2 L346.5,691.3 L347.0,692.3 L347.5,693.3 L348.0,694.3 L348.5,695.1 L349.0,695.9 L349.5,696.5 L350.0,696.9 L350.5,697.2 L351.0,697.6 L351.5,697.9 L352.0,698.2 L352.5,698.4 L353.0,698.7 L353.5,698.8 L354.0,699.0 L354.5,699.1 L355.0,699.1 L355.5,699.1 L356.0,699.1 L356.5,699.1 L357.0,699.0 L357.5,699.0 L358.0,698.9 L358.5,698.9 L359.0,698.8 L359.5,698.8 L360.0,698.7 L360.5,698.6 L361.0,698.4 L361.5,698.2 L362.0,698.0 L362.5,697.7 L363.0,697.5 L363.5,697.2 L364.0,697.1 L364.5,696.9 L365.0,696.9 L365.5,696.9 L366.0,697.0 L366.5,697.1 L367.0,697.2 L367.5,697.3 L368.0,697.4 L368.5,697.6 L369.0,697.7 L369.5,697.9 L370.0,698.0 L370.5,698.1 L371.0,698.3 L371.5,698.4 L372.0,698.6 L372.5,698.7 L373.0,698.9 L373.5,699.0 L374.0,699.2 L374.5,699.4 L375.0,699.6 L375.5,699.7 L376.0,699.9 L376.5,700.1 L377.0,700.3 L377.5,700.4 L378.0,700.6 L378.5,700.8 L379.0,701.0 L379.5,701.1 L380.0,701.3 L380.5,701.5 L381.0,701.7 L381.5,701.9 L382.0,702.1 L382.5,702.4 L383.0,702.6 L383.5,702.7 L384.0,702.9 L384.5,703.0 L385.0,703.0 L385.5,702.9 L386.0,702.6 L386.5,702.2 L387.0,701.8 L387.5,701.2 L388.0,700.7 L388.5,700.3 L389.0,699.9 L389.5,699.6 L390.0,699.5 L390.5,699.5 L391.0,699.5 L391.5,699.6 L392.0,699.7 L392.5,699.8 L393.0,699.9 L393.5,700.0 L394.0,700.1 L394.5,700.2 L395.0,700.4 L395.5,700.5 L396.0,700.6 L396.5,700.7 L397.0,700.9 L397.5,701.0 L398.0,701.1 L398.5,701.1 L399.0,701.2 L399.5,701.3 L400.0,701.3 L400.5,701.3 L401.0,701.3 L401.5,701.4 L402.0,701.4 L402.5,701.4 L403.0,701.4 L403.5,701.4 L404.0,701.4 L404.5,701.5 L405.0,701.5 L405.5,701.5 L406.0,701.5 L406.5,701.5 L407.0,701.5 L407.5,701.5 L408.0,701.6 L408.5,701.6 L409.0,701.6 L409.5,701.6 L410.0,701.6 L410.5,701.6 L411.0,701.6 L411.5,701.6 L412.0,701.6 L412.5,701.6 L413.0,701.7 L413.5,701.7 L414.0,701.7 L414.5,701.7 L415.0,701.7 L415.5,701.7 L416.0,701.7 L416.5,701.7 L417.0,701.7 L417.5,701.7 L418.0,701.7 L418.5,701.7 L419.0,701.7 L419.5,701.7 L420.0,701.7 L420.5,701.7 L421.0,701.6 L421.5,701.6 L422.0,701.5 L422.5,701.4 L423.0,701.2 L423.5,701.1 L424.0,700.9 L424.5,700.8 L425.0,700.6 L425.5,700.4 L426.0,700.2 L426.5,700.0 L427.0,699.9 L427.5,699.7 L428.0,699.5 L428.5,699.4 L429.0,699.2 L429.5,699.1 L430.0,699.0 L430.5,698.9 L431.0,698.8 L431.5,698.8 L432.0,698.7 L432.5,698.7 L433.0,698.6 L433.5,698.6 L434.0,698.5 L434.5,698.5 L435.0,698.4 L435.5,698.4 L436.0,698.3 L436.5,698.3 L437.0,698.2 L437.5,698.1 L438.0,698.1 L438.5,698.0 L439.0,697.9 L439.5,697.7 L440.0,697.6 L440.5,697.4 L441.0,696.9 L441.5,696.4 L442.0,695.7 L442.5,694.9 L443.0,694.0 L443.5,692.5 L444.0,690.1 L444.5,687.3 L445.0,684.7 L445.5,682.8 L446.0,682.0 L446.5,682.3 L447.0,683.1 L447.5,684.3 L448.0,685.6 L448.5,686.9 L449.0,688.0 L449.5,689.1 L450.0,690.3 L450.5,691.5 L451.0,692.5 L451.5,693.3 L452.0,693.6 L452.5,693.7 L453.0,693.7 L453.5,693.8 L454.0,693.8 L454.5,693.9 L455.0,693.9 L455.5,693.9 L456.0,694.0 L456.5,694.0 L457.0,694.0 L457.5,694.1 L458.0,694.1 L458.5,694.1 L459.0,694.2 L459.5,694.2 L460.0,694.2 L460.5,694.2 L461.0,694.3 L461.5,694.3 L462.0,694.3 L462.5,694.3 L463.0,694.3 L463.5,694.3 L464.0,694.3 L464.5,694.4 L465.0,694.4 L465.5,694.4 L466.0,694.4 L466.5,694.4 L467.0,694.4 L467.5,694.4 L468.0,694.4 L468.5,694.4 L469.0,694.4 L469.5,694.4 L470.0,694.4 L470.5,694.4 L471.0,694.4 L471.5,694.4 L472.0,694.4 L472.5,694.3 L473.0,694.3 L473.5,694.3 L474.0,694.3 L474.5,694.2 L475.0,694.2 L475.5,694.2 L476.0,694.1 L476.5,694.1 L477.0,694.0 L477.5,694.0 L478.0,693.9 L478.5,693.9 L479.0,693.8 L479.5,693.8 L480.0,693.7 L480.5,693.6 L481.0,693.6 L481.5,693.5 L482.0,693.4 L482.5,693.4 L483.0,693.3 L483.5,693.2 L484.0,693.2 L484.5,693.1 L485.0,693.0 L485.5,693.0 L486.0,692.9 L486.5,692.8 L487.0,692.8 L487.5,692.7 L488.0,692.6 L488.5,692.6 L489.0,692.5 L489.5,692.5 L490.0,692.4 L490.5,692.3 L491.0,692.3 L491.5,692.2 L492.0,692.2 L492.5,692.1 L493.0,692.1 L493.5,692.0 L494.0,692.0 L494.5,691.9 L495.0,691.8 L495.5,691.8 L496.0,691.7 L496.5,691.6 L497.0,691.6 L497.5,691.5 L498.0,691.4 L498.5,691.3 L499.0,691.2 L499.5,691.1 L500.0,691.0 L500.5,690.9 L501.0,690.6 L501.5,690.4 L502.0,690.1 L502.5,689.8 L503.0,689.4 L503.5,689.1 L504.0,688.8 L504.5,688.5 L505.0,688.2 L505.5,687.9 L506.0,687.8 L506.5,687.6 L507.0,687.6 L507.5,687.6 L508.0,687.7 L508.5,687.8 L509.0,687.9 L509.5,688.1 L510.0,688.2 L510.5,688.4 L511.0,688.6 L511.5,688.8 L512.0,689.0 L512.5,689.1 L513.0,689.3 L513.5,689.4 L514.0,689.5 L514.5,689.6 L515.0,689.6 L515.5,689.6 L516.0,689.6 L516.5,689.5 L517.0,689.5 L517.5,689.4 L518.0,689.4 L518.5,689.3 L519.0,689.2 L519.5,689.1 L520.0,689.0 L520.5,688.9 L521.0,688.8 L521.5,688.7 L522.0,688.6 L522.5,688.5 L523.0,688.4 L523.5,688.3 L524.0,688.2 L524.5,688.2 L525.0,688.1 L525.5,688.1 L526.0,688.0 L526.5,688.0 L527.0,688.0 L527.5,688.0 L528.0,688.0 L528.5,688.1 L529.0,688.1 L529.5,688.2 L530.0,688.3 L530.5,688.4 L531.0,688.5 L531.5,688.6 L532.0,688.8 L532.5,688.9 L533.0,689.0 L533.5,689.1 L534.0,689.3 L534.5,689.4 L535.0,689.5 L535.5,689.7 L536.0,689.8 L536.5,689.9 L537.0,690.0" stroke="#4A8AE0" stroke-width="2.0" fill="none" stroke-linejoin="round" stroke-linecap="round"/>
<path d="M24.0,735.9 L24.5,735.9 L25.0,735.8 L25.5,735.8 L26.0,735.8 L26.5,735.7 L27.0,735.7 L27.5,735.7 L28.0,735.7 L28.5,735.7 L29.0,735.6 L29.5,735.6 L30.0,735.6 L30.5,735.6 L31.0,735.5 L31.5,735.5 L32.0,735.5 L32.5,735.4 L33.0,735.4 L33.5,735.4 L34.0,735.3 L34.5,735.3 L35.0,735.3 L35.5,735.2 L36.0,735.2 L36.5,735.1 L37.0,735.0 L37.5,735.0 L38.0,734.9 L38.5,734.8 L39.0,734.6 L39.5,734.4 L40.0,734.1 L40.5,733.8 L41.0,733.5 L41.5,733.1 L42.0,732.7 L42.5,732.2 L43.0,731.5 L43.5,730.6 L44.0,729.6 L44.5,728.6 L45.0,727.5 L45.5,726.5 L46.0,725.5 L46.5,724.5 L47.0,723.4 L47.5,722.3 L48.0,721.2 L48.5,720.1 L49.0,719.1 L49.5,718.2 L50.0,717.5 L50.5,716.9 L51.0,716.4 L51.5,716.0 L52.0,715.6 L52.5,715.2 L53.0,714.8 L53.5,714.3 L54.0,713.8 L54.5,713.2 L55.0,712.4 L55.5,711.7 L56.0,710.9 L56.5,710.0 L57.0,709.1 L57.5,708.3 L58.0,708.0 L58.5,708.2 L59.0,708.6 L59.5,709.3 L60.0,710.2 L60.5,712.2 L61.0,715.7 L61.5,719.5 L62.0,722.5 L62.5,724.7 L63.0,726.7 L63.5,728.3 L64.0,729.1 L64.5,729.5 L65.0,729.8 L65.5,730.0 L66.0,730.2 L66.5,730.4 L67.0,730.6 L67.5,730.7 L68.0,730.8 L68.5,731.0 L69.0,731.1 L69.5,731.2 L70.0,731.3 L70.5,731.4 L71.0,731.5 L71.5,731.7 L72.0,731.8 L72.5,731.9 L73.0,732.0 L73.5,732.2 L74.0,732.3 L74.5,732.4 L75.0,732.5 L75.5,732.7 L76.0,732.8 L76.5,732.9 L77.0,733.0 L77.5,733.1 L78.0,733.2 L78.5,733.3 L79.0,733.5 L79.5,733.6 L80.0,733.7 L80.5,733.8 L81.0,733.9 L81.5,734.0 L82.0,734.1 L82.5,734.2 L83.0,734.3 L83.5,734.4 L84.0,734.5 L84.5,734.5 L85.0,734.6 L85.5,734.7 L86.0,734.8 L86.5,734.8 L87.0,734.9 L87.5,735.0 L88.0,735.0 L88.5,735.1 L89.0,735.2 L89.5,735.2 L90.0,735.3 L90.5,735.3 L91.0,735.3 L91.5,735.4 L92.0,735.4 L92.5,735.4 L93.0,735.5 L93.5,735.5 L94.0,735.5 L94.5,735.5 L95.0,735.5 L95.5,735.5 L96.0,735.5 L96.5,735.5 L97.0,735.5 L97.5,735.5 L98.0,735.5 L98.5,735.5 L99.0,735.5 L99.5,735.5 L100.0,735.5 L100.5,735.5 L101.0,735.5 L101.5,735.5 L102.0,735.5 L102.5,735.5 L103.0,735.5 L103.5,735.5 L104.0,735.5 L104.5,735.5 L105.0,735.5 L105.5,735.5 L106.0,735.5 L106.5,735.5 L107.0,735.5 L107.5,735.5 L108.0,735.5 L108.5,735.5 L109.0,735.5 L109.5,735.5 L110.0,735.5 L110.5,735.5 L111.0,735.5 L111.5,735.5 L112.0,735.5 L112.5,735.5 L113.0,735.5 L113.5,735.5 L114.0,735.5 L114.5,735.5 L115.0,735.5 L115.5,735.5 L116.0,735.5 L116.5,735.5 L117.0,735.5 L117.5,735.5 L118.0,735.5 L118.5,735.5 L119.0,735.5 L119.5,735.5 L120.0,735.5 L120.5,735.5 L121.0,735.5 L121.5,735.5 L122.0,735.5 L122.5,735.5 L123.0,735.5 L123.5,735.5 L124.0,735.5 L124.5,735.5 L125.0,735.5 L125.5,735.5 L126.0,735.5 L126.5,735.5 L127.0,735.5 L127.5,735.5 L128.0,735.5 L128.5,735.5 L129.0,735.5 L129.5,735.5 L130.0,735.5 L130.5,735.5 L131.0,735.5 L131.5,735.5 L132.0,735.5 L132.5,735.5 L133.0,735.5 L133.5,735.5 L134.0,735.5 L134.5,735.5 L135.0,735.5 L135.5,735.5 L136.0,735.5 L136.5,735.5 L137.0,735.5 L137.5,735.5 L138.0,735.5 L138.5,735.5 L139.0,735.5 L139.5,735.5 L140.0,735.5 L140.5,735.5 L141.0,735.5 L141.5,735.4 L142.0,735.4 L142.5,735.3 L143.0,735.2 L143.5,735.1 L144.0,735.0 L144.5,734.8 L145.0,734.7 L145.5,734.6 L146.0,734.4 L146.5,734.3 L147.0,734.2 L147.5,734.0 L148.0,733.9 L148.5,733.8 L149.0,733.6 L149.5,733.5 L150.0,733.4 L150.5,733.3 L151.0,733.2 L151.5,733.0 L152.0,732.9 L152.5,732.8 L153.0,732.6 L153.5,732.5 L154.0,732.3 L154.5,732.2 L155.0,732.0 L155.5,731.9 L156.0,731.8 L156.5,731.6 L157.0,731.5 L157.5,731.4 L158.0,731.4 L158.5,731.3 L159.0,731.2 L159.5,731.2 L160.0,731.2 L160.5,731.2 L161.0,731.2 L161.5,731.3 L162.0,731.3 L162.5,731.4 L163.0,731.4 L163.5,731.5 L164.0,731.6 L164.5,731.7 L165.0,731.8 L165.5,731.8 L166.0,731.9 L166.5,732.0 L167.0,732.1 L167.5,732.1 L168.0,732.2 L168.5,732.2 L169.0,732.3 L169.5,732.3 L170.0,732.3 L170.5,732.3 L171.0,732.1 L171.5,731.9 L172.0,731.6 L172.5,731.3 L173.0,731.0 L173.5,730.6 L174.0,730.3 L174.5,730.0 L175.0,729.7 L175.5,729.4 L176.0,729.2 L176.5,729.0 L177.0,729.0 L177.5,729.0 L178.0,729.1 L178.5,729.2 L179.0,729.3 L179.5,729.5 L180.0,729.7 L180.5,729.9 L181.0,730.1 L181.5,730.3 L182.0,730.5 L182.5,730.7 L183.0,730.9 L183.5,731.0 L184.0,731.1 L184.5,731.2 L185.0,731.2 L185.5,731.2 L186.0,731.2 L186.5,731.2 L187.0,731.2 L187.5,731.2 L188.0,731.2 L188.5,731.2 L189.0,731.2 L189.5,731.2 L190.0,731.2 L190.5,731.2 L191.0,731.2 L191.5,731.2 L192.0,731.2 L192.5,731.2 L193.0,731.2 L193.5,731.2 L194.0,731.2 L194.5,731.2 L195.0,731.2 L195.5,731.2 L196.0,731.2 L196.5,731.2 L197.0,731.2 L197.5,731.2 L198.0,731.2 L198.5,731.1 L199.0,731.1 L199.5,731.1 L200.0,731.1 L200.5,731.1 L201.0,731.1 L201.5,731.1 L202.0,731.1 L202.5,731.1 L203.0,731.1 L203.5,731.1 L204.0,731.1 L204.5,731.1 L205.0,731.1 L205.5,731.1 L206.0,731.1 L206.5,731.1 L207.0,731.0 L207.5,731.0 L208.0,731.0 L208.5,731.0 L209.0,731.0 L209.5,731.0 L210.0,731.0 L210.5,731.0 L211.0,731.0 L211.5,730.9 L212.0,730.9 L212.5,730.8 L213.0,730.7 L213.5,730.7 L214.0,730.6 L214.5,730.5 L215.0,730.4 L215.5,730.2 L216.0,730.1 L216.5,730.0 L217.0,729.8 L217.5,729.7 L218.0,729.5 L218.5,729.3 L219.0,729.2 L219.5,729.0 L220.0,728.8 L220.5,728.6 L221.0,728.3 L221.5,727.9 L222.0,727.4 L222.5,726.9 L223.0,726.4 L223.5,725.8 L224.0,725.2 L224.5,724.6 L225.0,724.0 L225.5,723.3 L226.0,722.5 L226.5,721.5 L227.0,720.5 L227.5,719.5 L228.0,718.4 L228.5,717.4 L229.0,716.5 L229.5,715.6 L230.0,714.8 L230.5,714.1 L231.0,713.3 L231.5,712.5 L232.0,711.9 L232.5,711.5 L233.0,711.3 L233.5,711.4 L234.0,711.8 L234.5,712.2 L235.0,712.8 L235.5,713.3 L236.0,713.7 L236.5,714.1 L237.0,714.2 L237.5,714.2 L238.0,714.2 L238.5,714.2 L239.0,714.2 L239.5,714.2 L240.0,714.2 L240.5,714.2 L241.0,714.2 L241.5,714.3 L242.0,714.7 L242.5,715.2 L243.0,715.8 L243.5,716.5 L244.0,717.2 L244.5,717.9 L245.0,718.5 L245.5,719.1 L246.0,719.7 L246.5,720.4 L247.0,721.1 L247.5,721.8 L248.0,722.4 L248.5,723.0 L249.0,723.6 L249.5,724.0 L250.0,724.4 L250.5,724.7 L251.0,725.0 L251.5,725.3 L252.0,725.6 L252.5,725.9 L253.0,726.1 L253.5,726.3 L254.0,726.5 L254.5,726.6 L255.0,726.6 L255.5,726.6 L256.0,726.6 L256.5,726.6 L257.0,726.6 L257.5,726.6 L258.0,726.6 L258.5,726.6 L259.0,726.6 L259.5,726.6 L260.0,726.6 L260.5,726.6 L261.0,726.6 L261.5,726.6 L262.0,726.6 L262.5,726.6 L263.0,726.6 L263.5,726.6 L264.0,726.6 L264.5,726.6 L265.0,726.6 L265.5,726.6 L266.0,726.5 L266.5,726.3 L267.0,726.2 L267.5,725.9 L268.0,725.7 L268.5,725.4 L269.0,725.1 L269.5,724.8 L270.0,724.4 L270.5,724.1 L271.0,723.7 L271.5,723.4 L272.0,723.0 L272.5,722.7 L273.0,722.4 L273.5,722.1 L274.0,721.8 L274.5,721.6 L275.0,721.4 L275.5,721.2 L276.0,721.1 L276.5,720.9 L277.0,720.7 L277.5,720.5 L278.0,720.4 L278.5,720.3 L279.0,720.2 L279.5,720.1 L280.0,720.1 L280.5,720.1 L281.0,720.3 L281.5,720.5 L282.0,720.7 L282.5,721.0 L283.0,721.2 L283.5,721.4 L284.0,721.6 L284.5,721.8 L285.0,721.8 L285.5,721.7 L286.0,721.4 L286.5,720.9 L287.0,720.4 L287.5,719.8 L288.0,719.1 L288.5,718.5 L289.0,717.9 L289.5,717.4 L290.0,717.0 L290.5,716.7 L291.0,716.4 L291.5,716.1 L292.0,715.9 L292.5,715.8 L293.0,715.7 L293.5,716.0 L294.0,716.8 L294.5,717.6 L295.0,717.9 L295.5,717.5 L296.0,716.4 L296.5,715.0 L297.0,713.5 L297.5,712.4 L298.0,712.0 L298.5,712.6 L299.0,714.0 L299.5,715.9 L300.0,717.9 L300.5,719.4 L301.0,720.1 L301.5,720.2 L302.0,720.4 L302.5,720.5 L303.0,720.5 L303.5,720.6 L304.0,720.7 L304.5,720.7 L305.0,720.7 L305.5,720.7 L306.0,720.5 L306.5,720.4 L307.0,720.3 L307.5,720.1 L308.0,720.1 L308.5,720.3 L309.0,720.6 L309.5,721.2 L310.0,721.9 L310.5,722.5 L311.0,723.1 L311.5,723.4 L312.0,723.6 L312.5,723.6 L313.0,723.5 L313.5,723.4 L314.0,723.2 L314.5,723.0 L315.0,722.8 L315.5,722.5 L316.0,722.2 L316.5,721.9 L317.0,721.6 L317.5,721.3 L318.0,720.9 L318.5,720.6 L319.0,720.2 L319.5,719.9 L320.0,719.6 L320.5,719.3 L321.0,718.9 L321.5,718.5 L322.0,718.1 L322.5,717.7 L323.0,717.3 L323.5,716.8 L324.0,716.4 L324.5,716.1 L325.0,715.7 L325.5,715.4 L326.0,715.1 L326.5,714.8 L327.0,714.6 L327.5,714.3 L328.0,714.1 L328.5,713.8 L329.0,713.5 L329.5,713.1 L330.0,712.7 L330.5,712.0 L331.0,711.0 L331.5,710.2 L332.0,709.8 L332.5,710.2 L333.0,711.3 L333.5,712.7 L334.0,714.2 L334.5,715.5 L335.0,716.4 L335.5,716.9 L336.0,717.3 L336.5,717.7 L337.0,718.0 L337.5,718.2 L338.0,718.5 L338.5,718.7 L339.0,718.9 L339.5,719.1 L340.0,719.2 L340.5,719.4 L341.0,719.6 L341.5,719.8 L342.0,720.1 L342.5,720.5 L343.0,721.2 L343.5,721.9 L344.0,722.7 L344.5,723.4 L345.0,724.0 L345.5,724.5 L346.0,725.0 L346.5,725.5 L347.0,725.9 L347.5,726.4 L348.0,726.8 L348.5,727.2 L349.0,727.5 L349.5,727.7 L350.0,727.9 L350.5,728.0 L351.0,728.2 L351.5,728.3 L352.0,728.4 L352.5,728.5 L353.0,728.6 L353.5,728.7 L354.0,728.8 L354.5,728.8 L355.0,728.8 L355.5,728.8 L356.0,728.8 L356.5,728.8 L357.0,728.7 L357.5,728.7 L358.0,728.6 L358.5,728.6 L359.0,728.5 L359.5,728.5 L360.0,728.4 L360.5,728.3 L361.0,728.1 L361.5,727.9 L362.0,727.7 L362.5,727.4 L363.0,727.2 L363.5,726.9 L364.0,726.8 L364.5,726.6 L365.0,726.6 L365.5,726.6 L366.0,726.7 L366.5,726.8 L367.0,726.9 L367.5,727.1 L368.0,727.2 L368.5,727.4 L369.0,727.6 L369.5,727.8 L370.0,727.9 L370.5,728.0 L371.0,728.2 L371.5,728.3 L372.0,728.5 L372.5,728.6 L373.0,728.8 L373.5,729.0 L374.0,729.1 L374.5,729.3 L375.0,729.4 L375.5,729.6 L376.0,729.8 L376.5,729.9 L377.0,730.1 L377.5,730.3 L378.0,730.4 L378.5,730.6 L379.0,730.7 L379.5,730.9 L380.0,731.0 L380.5,731.1 L381.0,731.3 L381.5,731.5 L382.0,731.7 L382.5,731.8 L383.0,732.0 L383.5,732.1 L384.0,732.2 L384.5,732.3 L385.0,732.3 L385.5,732.2 L386.0,731.9 L386.5,731.5 L387.0,730.9 L387.5,730.3 L388.0,729.8 L388.5,729.2 L389.0,728.8 L389.5,728.5 L390.0,728.4 L390.5,728.5 L391.0,728.8 L391.5,729.2 L392.0,729.7 L392.5,730.0 L393.0,730.1 L393.5,730.1 L394.0,730.1 L394.5,730.1 L395.0,730.1 L395.5,730.1 L396.0,730.1 L396.5,730.1 L397.0,730.1 L397.5,730.1 L398.0,730.1 L398.5,730.1 L399.0,730.1 L399.5,730.1 L400.0,730.1 L400.5,730.1 L401.0,730.1 L401.5,730.1 L402.0,730.1 L402.5,730.1 L403.0,730.1 L403.5,730.1 L404.0,730.1 L404.5,730.2 L405.0,730.2 L405.5,730.2 L406.0,730.2 L406.5,730.2 L407.0,730.2 L407.5,730.2 L408.0,730.2 L408.5,730.3 L409.0,730.3 L409.5,730.3 L410.0,730.3 L410.5,730.3 L411.0,730.3 L411.5,730.3 L412.0,730.4 L412.5,730.4 L413.0,730.4 L413.5,730.4 L414.0,730.4 L414.5,730.4 L415.0,730.4 L415.5,730.4 L416.0,730.5 L416.5,730.5 L417.0,730.5 L417.5,730.5 L418.0,730.5 L418.5,730.5 L419.0,730.5 L419.5,730.5 L420.0,730.5 L420.5,730.5 L421.0,730.5 L421.5,730.5 L422.0,730.4 L422.5,730.4 L423.0,730.4 L423.5,730.3 L424.0,730.3 L424.5,730.2 L425.0,730.2 L425.5,730.1 L426.0,730.1 L426.5,730.0 L427.0,730.0 L427.5,729.9 L428.0,729.8 L428.5,729.8 L429.0,729.7 L429.5,729.7 L430.0,729.6 L430.5,729.5 L431.0,729.5 L431.5,729.4 L432.0,729.4 L432.5,729.3 L433.0,729.3 L433.5,729.2 L434.0,729.2 L434.5,729.1 L435.0,729.1 L435.5,729.0 L436.0,728.9 L436.5,728.9 L437.0,728.8 L437.5,728.7 L438.0,728.6 L438.5,728.4 L439.0,728.3 L439.5,728.2 L440.0,728.0 L440.5,727.7 L441.0,727.3 L441.5,726.7 L442.0,725.9 L442.5,725.0 L443.0,724.0 L443.5,722.3 L444.0,719.9 L444.5,717.2 L445.0,715.0 L445.5,713.0 L446.0,711.1 L446.5,709.6 L447.0,709.0 L447.5,709.8 L448.0,711.7 L448.5,714.0 L449.0,716.0 L449.5,717.7 L450.0,719.5 L450.5,721.3 L451.0,722.8 L451.5,723.9 L452.0,724.4 L452.5,724.5 L453.0,724.6 L453.5,724.6 L454.0,724.7 L454.5,724.8 L455.0,724.8 L455.5,724.9 L456.0,725.0 L456.5,725.0 L457.0,725.1 L457.5,725.1 L458.0,725.2 L458.5,725.2 L459.0,725.2 L459.5,725.3 L460.0,725.3 L460.5,725.3 L461.0,725.4 L461.5,725.4 L462.0,725.4 L462.5,725.5 L463.0,725.5 L463.5,725.5 L464.0,725.5 L464.5,725.5 L465.0,725.5 L465.5,725.6 L466.0,725.6 L466.5,725.6 L467.0,725.6 L467.5,725.6 L468.0,725.6 L468.5,725.6 L469.0,725.6 L469.5,725.6 L470.0,725.6 L470.5,725.6 L471.0,725.6 L471.5,725.6 L472.0,725.6 L472.5,725.6 L473.0,725.6 L473.5,725.6 L474.0,725.6 L474.5,725.6 L475.0,725.6 L475.5,725.5 L476.0,725.5 L476.5,725.5 L477.0,725.5 L477.5,725.5 L478.0,725.5 L478.5,725.5 L479.0,725.5 L479.5,725.4 L480.0,725.4 L480.5,725.4 L481.0,725.4 L481.5,725.4 L482.0,725.4 L482.5,725.3 L483.0,725.3 L483.5,725.3 L484.0,725.3 L484.5,725.3 L485.0,725.2 L485.5,725.2 L486.0,725.2 L486.5,725.2 L487.0,725.2 L487.5,725.1 L488.0,725.1 L488.5,725.1 L489.0,725.1 L489.5,725.0 L490.0,725.0 L490.5,725.0 L491.0,724.9 L491.5,724.9 L492.0,724.9 L492.5,724.8 L493.0,724.8 L493.5,724.7 L494.0,724.6 L494.5,724.6 L495.0,724.5 L495.5,724.4 L496.0,724.4 L496.5,724.3 L497.0,724.2 L497.5,724.1 L498.0,724.0 L498.5,723.9 L499.0,723.8 L499.5,723.7 L500.0,723.6 L500.5,723.5 L501.0,723.3 L501.5,723.0 L502.0,722.7 L502.5,722.4 L503.0,722.1 L503.5,721.8 L504.0,721.5 L504.5,721.2 L505.0,720.9 L505.5,720.7 L506.0,720.6 L506.5,720.4 L507.0,720.4 L507.5,720.4 L508.0,720.5 L508.5,720.6 L509.0,720.7 L509.5,720.9 L510.0,721.0 L510.5,721.2 L511.0,721.4 L511.5,721.6 L512.0,721.8 L512.5,721.9 L513.0,722.1 L513.5,722.2 L514.0,722.3 L514.5,722.4 L515.0,722.4 L515.5,722.4 L516.0,722.3 L516.5,722.3 L517.0,722.2 L517.5,722.1 L518.0,722.0 L518.5,721.8 L519.0,721.7 L519.5,721.5 L520.0,721.3 L520.5,721.2 L521.0,721.0 L521.5,720.8 L522.0,720.7 L522.5,720.5 L523.0,720.3 L523.5,720.2 L524.0,720.0 L524.5,719.9 L525.0,719.8 L525.5,719.7 L526.0,719.7 L526.5,719.6 L527.0,719.6 L527.5,719.7 L528.0,719.9 L528.5,720.2 L529.0,720.6 L529.5,721.0 L530.0,721.4 L530.5,721.8 L531.0,722.1 L531.5,722.3 L532.0,722.4 L532.5,722.4 L533.0,722.3 L533.5,722.2 L534.0,722.0 L534.5,721.9 L535.0,721.7 L535.5,721.5 L536.0,721.3 L536.5,721.2 L537.0,721.0" stroke="#2A7A1A" stroke-width="2.0" fill="none" stroke-linejoin="round" stroke-linecap="round"/>
<path d="M24.0,763.8 L24.5,763.8 L25.0,763.7 L25.5,763.7 L26.0,763.6 L26.5,763.6 L27.0,763.6 L27.5,763.5 L28.0,763.5 L28.5,763.5 L29.0,763.5 L29.5,763.4 L30.0,763.4 L30.5,763.4 L31.0,763.3 L31.5,763.3 L32.0,763.3 L32.5,763.2 L33.0,763.2 L33.5,763.1 L34.0,763.1 L34.5,763.0 L35.0,763.0 L35.5,762.9 L36.0,762.9 L36.5,762.8 L37.0,762.7 L37.5,762.7 L38.0,762.6 L38.5,762.5 L39.0,762.4 L39.5,762.3 L40.0,762.1 L40.5,761.9 L41.0,761.7 L41.5,761.5 L42.0,761.2 L42.5,760.7 L43.0,760.0 L43.5,759.1 L44.0,758.0 L44.5,756.9 L45.0,755.8 L45.5,754.8 L46.0,753.9 L46.5,753.1 L47.0,752.4 L47.5,751.7 L48.0,751.0 L48.5,750.3 L49.0,749.7 L49.5,749.2 L50.0,748.8 L50.5,748.5 L51.0,748.2 L51.5,747.9 L52.0,747.7 L52.5,747.5 L53.0,747.2 L53.5,746.9 L54.0,746.6 L54.5,746.1 L55.0,745.3 L55.5,744.5 L56.0,743.8 L56.5,743.2 L57.0,743.0 L57.5,743.1 L58.0,743.5 L58.5,744.0 L59.0,744.8 L59.5,745.6 L60.0,746.6 L60.5,748.5 L61.0,751.5 L61.5,754.6 L62.0,756.8 L62.5,758.1 L63.0,759.3 L63.5,760.1 L64.0,760.5 L64.5,760.6 L65.0,760.7 L65.5,760.8 L66.0,760.9 L66.5,760.9 L67.0,761.0 L67.5,761.0 L68.0,761.1 L68.5,761.1 L69.0,761.1 L69.5,761.2 L70.0,761.2 L70.5,761.2 L71.0,761.3 L71.5,761.3 L72.0,761.3 L72.5,761.4 L73.0,761.4 L73.5,761.4 L74.0,761.5 L74.5,761.5 L75.0,761.5 L75.5,761.5 L76.0,761.6 L76.5,761.6 L77.0,761.6 L77.5,761.7 L78.0,761.7 L78.5,761.7 L79.0,761.7 L79.5,761.8 L80.0,761.8 L80.5,761.8 L81.0,761.8 L81.5,761.9 L82.0,761.9 L82.5,761.9 L83.0,761.9 L83.5,761.9 L84.0,762.0 L84.5,762.0 L85.0,762.0 L85.5,762.0 L86.0,762.0 L86.5,762.1 L87.0,762.1 L87.5,762.1 L88.0,762.1 L88.5,762.1 L89.0,762.1 L89.5,762.1 L90.0,762.1 L90.5,762.2 L91.0,762.2 L91.5,762.2 L92.0,762.2 L92.5,762.2 L93.0,762.2 L93.5,762.2 L94.0,762.2 L94.5,762.2 L95.0,762.2 L95.5,762.2 L96.0,762.2 L96.5,762.2 L97.0,762.2 L97.5,762.2 L98.0,762.2 L98.5,762.2 L99.0,762.2 L99.5,762.2 L100.0,762.2 L100.5,762.2 L101.0,762.2 L101.5,762.2 L102.0,762.2 L102.5,762.2 L103.0,762.2 L103.5,762.2 L104.0,762.2 L104.5,762.2 L105.0,762.2 L105.5,762.2 L106.0,762.2 L106.5,762.2 L107.0,762.2 L107.5,762.2 L108.0,762.2 L108.5,762.2 L109.0,762.2 L109.5,762.2 L110.0,762.2 L110.5,762.2 L111.0,762.2 L111.5,762.2 L112.0,762.2 L112.5,762.2 L113.0,762.2 L113.5,762.2 L114.0,762.2 L114.5,762.2 L115.0,762.2 L115.5,762.2 L116.0,762.2 L116.5,762.2 L117.0,762.2 L117.5,762.2 L118.0,762.2 L118.5,762.2 L119.0,762.2 L119.5,762.2 L120.0,762.2 L120.5,762.2 L121.0,762.2 L121.5,762.2 L122.0,762.2 L122.5,762.2 L123.0,762.2 L123.5,762.2 L124.0,762.2 L124.5,762.2 L125.0,762.2 L125.5,762.2 L126.0,762.2 L126.5,762.2 L127.0,762.2 L127.5,762.2 L128.0,762.2 L128.5,762.2 L129.0,762.2 L129.5,762.2 L130.0,762.2 L130.5,762.2 L131.0,762.2 L131.5,762.2 L132.0,762.2 L132.5,762.2 L133.0,762.2 L133.5,762.2 L134.0,762.2 L134.5,762.2 L135.0,762.2 L135.5,762.2 L136.0,762.2 L136.5,762.2 L137.0,762.2 L137.5,762.2 L138.0,762.2 L138.5,762.2 L139.0,762.2 L139.5,762.2 L140.0,762.2 L140.5,762.2 L141.0,762.2 L141.5,762.2 L142.0,762.1 L142.5,762.1 L143.0,762.1 L143.5,762.0 L144.0,762.0 L144.5,761.9 L145.0,761.9 L145.5,761.8 L146.0,761.7 L146.5,761.7 L147.0,761.6 L147.5,761.5 L148.0,761.4 L148.5,761.3 L149.0,761.2 L149.5,761.1 L150.0,761.0 L150.5,761.0 L151.0,760.9 L151.5,760.8 L152.0,760.7 L152.5,760.5 L153.0,760.4 L153.5,760.3 L154.0,760.2 L154.5,760.1 L155.0,760.0 L155.5,759.9 L156.0,759.8 L156.5,759.7 L157.0,759.6 L157.5,759.5 L158.0,759.4 L158.5,759.4 L159.0,759.3 L159.5,759.2 L160.0,759.1 L160.5,759.0 L161.0,758.9 L161.5,758.8 L162.0,758.7 L162.5,758.6 L163.0,758.5 L163.5,758.4 L164.0,758.3 L164.5,758.2 L165.0,758.1 L165.5,758.0 L166.0,757.9 L166.5,757.8 L167.0,757.7 L167.5,757.6 L168.0,757.5 L168.5,757.4 L169.0,757.3 L169.5,757.2 L170.0,757.1 L170.5,757.0 L171.0,756.9 L171.5,756.8 L172.0,756.7 L172.5,756.6 L173.0,756.6 L173.5,756.5 L174.0,756.5 L174.5,756.4 L175.0,756.4 L175.5,756.3 L176.0,756.3 L176.5,756.3 L177.0,756.3 L177.5,756.3 L178.0,756.3 L178.5,756.4 L179.0,756.4 L179.5,756.4 L180.0,756.5 L180.5,756.6 L181.0,756.6 L181.5,756.7 L182.0,756.8 L182.5,756.9 L183.0,757.0 L183.5,757.0 L184.0,757.1 L184.5,757.2 L185.0,757.3 L185.5,757.4 L186.0,757.5 L186.5,757.5 L187.0,757.6 L187.5,757.7 L188.0,757.7 L188.5,757.7 L189.0,757.8 L189.5,757.8 L190.0,757.8 L190.5,757.8 L191.0,757.8 L191.5,757.8 L192.0,757.8 L192.5,757.8 L193.0,757.8 L193.5,757.8 L194.0,757.8 L194.5,757.8 L195.0,757.8 L195.5,757.8 L196.0,757.8 L196.5,757.8 L197.0,757.8 L197.5,757.8 L198.0,757.8 L198.5,757.8 L199.0,757.8 L199.5,757.8 L200.0,757.8 L200.5,757.8 L201.0,757.8 L201.5,757.8 L202.0,757.8 L202.5,757.8 L203.0,757.8 L203.5,757.8 L204.0,757.8 L204.5,757.8 L205.0,757.8 L205.5,757.8 L206.0,757.8 L206.5,757.8 L207.0,757.8 L207.5,757.8 L208.0,757.8 L208.5,757.8 L209.0,757.8 L209.5,757.8 L210.0,757.8 L210.5,757.8 L211.0,757.8 L211.5,757.8 L212.0,757.7 L212.5,757.7 L213.0,757.7 L213.5,757.6 L214.0,757.5 L214.5,757.5 L215.0,757.4 L215.5,757.3 L216.0,757.2 L216.5,757.1 L217.0,757.0 L217.5,756.9 L218.0,756.8 L218.5,756.7 L219.0,756.6 L219.5,756.4 L220.0,756.3 L220.5,756.1 L221.0,755.8 L221.5,755.5 L222.0,755.1 L222.5,754.6 L223.0,754.1 L223.5,753.6 L224.0,753.0 L224.5,752.5 L225.0,751.9 L225.5,751.3 L226.0,750.6 L226.5,749.8 L227.0,748.9 L227.5,748.1 L228.0,747.2 L228.5,746.4 L229.0,745.7 L229.5,745.1 L230.0,744.7 L230.5,744.3 L231.0,744.0 L231.5,743.7 L232.0,743.4 L232.5,743.3 L233.0,743.2 L233.5,743.3 L234.0,743.6 L234.5,743.9 L235.0,744.4 L235.5,744.9 L236.0,745.3 L236.5,745.6 L237.0,745.8 L237.5,745.9 L238.0,746.0 L238.5,746.0 L239.0,746.0 L239.5,746.1 L240.0,746.1 L240.5,746.2 L241.0,746.3 L241.5,746.5 L242.0,746.8 L242.5,747.2 L243.0,747.7 L243.5,748.2 L244.0,748.7 L244.5,749.2 L245.0,749.7 L245.5,750.2 L246.0,750.6 L246.5,751.1 L247.0,751.7 L247.5,752.2 L248.0,752.6 L248.5,753.1 L249.0,753.5 L249.5,753.8 L250.0,754.1 L250.5,754.3 L251.0,754.5 L251.5,754.8 L252.0,755.0 L252.5,755.1 L253.0,755.3 L253.5,755.4 L254.0,755.5 L254.5,755.6 L255.0,755.6 L255.5,755.6 L256.0,755.6 L256.5,755.6 L257.0,755.5 L257.5,755.5 L258.0,755.5 L258.5,755.4 L259.0,755.4 L259.5,755.3 L260.0,755.3 L260.5,755.2 L261.0,755.1 L261.5,755.1 L262.0,755.0 L262.5,754.9 L263.0,754.8 L263.5,754.8 L264.0,754.7 L264.5,754.6 L265.0,754.5 L265.5,754.4 L266.0,754.3 L266.5,754.1 L267.0,754.0 L267.5,753.8 L268.0,753.6 L268.5,753.4 L269.0,753.2 L269.5,753.0 L270.0,752.7 L270.5,752.5 L271.0,752.2 L271.5,752.0 L272.0,751.7 L272.5,751.5 L273.0,751.2 L273.5,750.9 L274.0,750.7 L274.5,750.4 L275.0,750.2 L275.5,749.9 L276.0,749.6 L276.5,749.3 L277.0,748.9 L277.5,748.6 L278.0,748.3 L278.5,748.0 L279.0,747.8 L279.5,747.7 L280.0,747.6 L280.5,747.7 L281.0,747.9 L281.5,748.2 L282.0,748.7 L282.5,749.1 L283.0,749.5 L283.5,750.0 L284.0,750.3 L284.5,750.5 L285.0,750.6 L285.5,750.5 L286.0,750.3 L286.5,750.0 L287.0,749.6 L287.5,749.1 L288.0,748.7 L288.5,748.2 L289.0,747.7 L289.5,747.3 L290.0,746.9 L290.5,746.6 L291.0,746.2 L291.5,745.9 L292.0,745.5 L292.5,745.1 L293.0,744.8 L293.5,744.4 L294.0,744.1 L294.5,743.7 L295.0,743.4 L295.5,743.2 L296.0,742.9 L296.5,742.8 L297.0,742.6 L297.5,742.5 L298.0,742.5 L298.5,742.8 L299.0,743.6 L299.5,744.7 L300.0,745.8 L300.5,746.6 L301.0,746.9 L301.5,746.8 L302.0,746.6 L302.5,746.2 L303.0,745.8 L303.5,745.4 L304.0,745.0 L304.5,744.8 L305.0,744.7 L305.5,744.8 L306.0,744.9 L306.5,745.2 L307.0,745.6 L307.5,746.0 L308.0,746.4 L308.5,746.9 L309.0,747.4 L309.5,747.8 L310.0,748.2 L310.5,748.6 L311.0,748.9 L311.5,749.0 L312.0,749.1 L312.5,749.0 L313.0,748.9 L313.5,748.6 L314.0,748.3 L314.5,747.9 L315.0,747.4 L315.5,746.9 L316.0,746.3 L316.5,745.7 L317.0,745.1 L317.5,744.5 L318.0,743.8 L318.5,743.2 L319.0,742.6 L319.5,742.0 L320.0,741.5 L320.5,741.0 L321.0,740.4 L321.5,739.9 L322.0,739.3 L322.5,738.7 L323.0,738.1 L323.5,737.6 L324.0,737.0 L324.5,736.5 L325.0,736.0 L325.5,735.5 L326.0,735.0 L326.5,734.4 L327.0,733.8 L327.5,733.3 L328.0,732.7 L328.5,732.2 L329.0,731.7 L329.5,731.3 L330.0,730.9 L330.5,730.6 L331.0,730.3 L331.5,730.2 L332.0,730.1 L332.5,730.4 L333.0,731.1 L333.5,732.0 L334.0,733.1 L334.5,734.1 L335.0,734.9 L335.5,735.5 L336.0,736.2 L336.5,736.8 L337.0,737.3 L337.5,737.8 L338.0,738.2 L338.5,738.5 L339.0,738.8 L339.5,739.0 L340.0,739.2 L340.5,739.4 L341.0,739.7 L341.5,740.0 L342.0,740.4 L342.5,741.1 L343.0,742.1 L343.5,743.4 L344.0,744.7 L344.5,745.9 L345.0,746.9 L345.5,747.7 L346.0,748.6 L346.5,749.4 L347.0,750.1 L347.5,750.8 L348.0,751.5 L348.5,752.1 L349.0,752.7 L349.5,753.1 L350.0,753.5 L350.5,753.8 L351.0,754.1 L351.5,754.4 L352.0,754.7 L352.5,754.9 L353.0,755.2 L353.5,755.3 L354.0,755.5 L354.5,755.6 L355.0,755.6 L355.5,755.6 L356.0,755.5 L356.5,755.4 L357.0,755.3 L357.5,755.2 L358.0,755.1 L358.5,754.9 L359.0,754.8 L359.5,754.6 L360.0,754.5 L360.5,754.3 L361.0,754.2 L361.5,753.9 L362.0,753.7 L362.5,753.5 L363.0,753.3 L363.5,753.1 L364.0,752.9 L364.5,752.8 L365.0,752.8 L365.5,752.8 L366.0,752.9 L366.5,753.0 L367.0,753.1 L367.5,753.3 L368.0,753.4 L368.5,753.6 L369.0,753.8 L369.5,754.0 L370.0,754.1 L370.5,754.2 L371.0,754.4 L371.5,754.5 L372.0,754.7 L372.5,754.8 L373.0,755.0 L373.5,755.2 L374.0,755.3 L374.5,755.5 L375.0,755.6 L375.5,755.8 L376.0,756.0 L376.5,756.1 L377.0,756.3 L377.5,756.5 L378.0,756.6 L378.5,756.8 L379.0,756.9 L379.5,757.1 L380.0,757.2 L380.5,757.3 L381.0,757.5 L381.5,757.7 L382.0,757.9 L382.5,758.0 L383.0,758.2 L383.5,758.3 L384.0,758.4 L384.5,758.5 L385.0,758.5 L385.5,758.4 L386.0,758.1 L386.5,757.7 L387.0,757.3 L387.5,756.8 L388.0,756.2 L388.5,755.8 L389.0,755.4 L389.5,755.1 L390.0,755.0 L390.5,755.0 L391.0,755.0 L391.5,755.0 L392.0,755.0 L392.5,755.1 L393.0,755.1 L393.5,755.1 L394.0,755.2 L394.5,755.2 L395.0,755.2 L395.5,755.3 L396.0,755.3 L396.5,755.4 L397.0,755.4 L397.5,755.4 L398.0,755.5 L398.5,755.5 L399.0,755.5 L399.5,755.6 L400.0,755.6 L400.5,755.6 L401.0,755.6 L401.5,755.7 L402.0,755.7 L402.5,755.7 L403.0,755.7 L403.5,755.8 L404.0,755.8 L404.5,755.8 L405.0,755.8 L405.5,755.9 L406.0,755.9 L406.5,755.9 L407.0,755.9 L407.5,756.0 L408.0,756.0 L408.5,756.0 L409.0,756.0 L409.5,756.0 L410.0,756.1 L410.5,756.1 L411.0,756.1 L411.5,756.1 L412.0,756.1 L412.5,756.2 L413.0,756.2 L413.5,756.2 L414.0,756.2 L414.5,756.2 L415.0,756.2 L415.5,756.2 L416.0,756.3 L416.5,756.3 L417.0,756.3 L417.5,756.3 L418.0,756.3 L418.5,756.3 L419.0,756.3 L419.5,756.3 L420.0,756.3 L420.5,756.3 L421.0,756.3 L421.5,756.2 L422.0,756.1 L422.5,756.0 L423.0,755.9 L423.5,755.8 L424.0,755.7 L424.5,755.5 L425.0,755.4 L425.5,755.2 L426.0,755.1 L426.5,754.9 L427.0,754.8 L427.5,754.6 L428.0,754.5 L428.5,754.3 L429.0,754.2 L429.5,754.1 L430.0,754.0 L430.5,753.9 L431.0,753.8 L431.5,753.8 L432.0,753.7 L432.5,753.6 L433.0,753.6 L433.5,753.5 L434.0,753.5 L434.5,753.4 L435.0,753.4 L435.5,753.3 L436.0,753.2 L436.5,753.2 L437.0,753.1 L437.5,753.0 L438.0,752.9 L438.5,752.8 L439.0,752.7 L439.5,752.6 L440.0,752.4 L440.5,752.1 L441.0,751.7 L441.5,751.2 L442.0,750.5 L442.5,749.8 L443.0,749.0 L443.5,747.8 L444.0,745.9 L444.5,743.9 L445.0,742.0 L445.5,740.6 L446.0,740.0 L446.5,740.2 L447.0,740.8 L447.5,741.6 L448.0,742.6 L448.5,743.6 L449.0,744.4 L449.5,745.3 L450.0,746.2 L450.5,747.2 L451.0,748.1 L451.5,748.7 L452.0,749.0 L452.5,749.0 L453.0,749.1 L453.5,749.1 L454.0,749.2 L454.5,749.2 L455.0,749.2 L455.5,749.3 L456.0,749.3 L456.5,749.3 L457.0,749.3 L457.5,749.4 L458.0,749.4 L458.5,749.4 L459.0,749.4 L459.5,749.4 L460.0,749.5 L460.5,749.5 L461.0,749.5 L461.5,749.5 L462.0,749.5 L462.5,749.5 L463.0,749.5 L463.5,749.5 L464.0,749.6 L464.5,749.6 L465.0,749.6 L465.5,749.6 L466.0,749.6 L466.5,749.6 L467.0,749.6 L467.5,749.6 L468.0,749.6 L468.5,749.6 L469.0,749.6 L469.5,749.6 L470.0,749.6 L470.5,749.6 L471.0,749.6 L471.5,749.6 L472.0,749.6 L472.5,749.6 L473.0,749.5 L473.5,749.5 L474.0,749.5 L474.5,749.5 L475.0,749.5 L475.5,749.4 L476.0,749.4 L476.5,749.4 L477.0,749.3 L477.5,749.3 L478.0,749.2 L478.5,749.2 L479.0,749.2 L479.5,749.1 L480.0,749.1 L480.5,749.0 L481.0,749.0 L481.5,748.9 L482.0,748.9 L482.5,748.8 L483.0,748.8 L483.5,748.7 L484.0,748.7 L484.5,748.6 L485.0,748.6 L485.5,748.5 L486.0,748.4 L486.5,748.4 L487.0,748.3 L487.5,748.3 L488.0,748.2 L488.5,748.2 L489.0,748.1 L489.5,748.1 L490.0,748.0 L490.5,747.9 L491.0,747.9 L491.5,747.8 L492.0,747.8 L492.5,747.7 L493.0,747.6 L493.5,747.6 L494.0,747.5 L494.5,747.4 L495.0,747.4 L495.5,747.3 L496.0,747.2 L496.5,747.1 L497.0,747.0 L497.5,746.9 L498.0,746.8 L498.5,746.7 L499.0,746.6 L499.5,746.5 L500.0,746.4 L500.5,746.3 L501.0,746.1 L501.5,745.9 L502.0,745.6 L502.5,745.3 L503.0,745.1 L503.5,744.8 L504.0,744.5 L504.5,744.3 L505.0,744.1 L505.5,743.9 L506.0,743.7 L506.5,743.6 L507.0,743.6 L507.5,743.6 L508.0,743.7 L508.5,743.7 L509.0,743.8 L509.5,743.9 L510.0,744.0 L510.5,744.2 L511.0,744.3 L511.5,744.4 L512.0,744.6 L512.5,744.7 L513.0,744.8 L513.5,744.9 L514.0,744.9 L514.5,745.0 L515.0,745.0 L515.5,745.0 L516.0,745.0 L516.5,744.9 L517.0,744.9 L517.5,744.8 L518.0,744.8 L518.5,744.7 L519.0,744.6 L519.5,744.6 L520.0,744.5 L520.5,744.4 L521.0,744.3 L521.5,744.2 L522.0,744.1 L522.5,744.0 L523.0,744.0 L523.5,743.9 L524.0,743.8 L524.5,743.8 L525.0,743.7 L525.5,743.7 L526.0,743.6 L526.5,743.6 L527.0,743.6 L527.5,743.6 L528.0,743.6 L528.5,743.6 L529.0,743.7 L529.5,743.7 L530.0,743.7 L530.5,743.8 L531.0,743.8 L531.5,743.9 L532.0,743.9 L532.5,744.0 L533.0,744.0 L533.5,744.1 L534.0,744.1 L534.5,744.2 L535.0,744.2 L535.5,744.3 L536.0,744.3 L536.5,744.4 L537.0,744.4" stroke="#FF1A1A" stroke-width="2.0" fill="none" stroke-linejoin="round" stroke-linecap="round"/>
<path d="M24.0,790.6 L24.5,790.6 L25.0,790.6 L25.5,790.5 L26.0,790.5 L26.5,790.5 L27.0,790.5 L27.5,790.5 L28.0,790.5 L28.5,790.5 L29.0,790.4 L29.5,790.4 L30.0,790.4 L30.5,790.4 L31.0,790.4 L31.5,790.4 L32.0,790.4 L32.5,790.3 L33.0,790.3 L33.5,790.3 L34.0,790.3 L34.5,790.2 L35.0,790.2 L35.5,790.2 L36.0,790.2 L36.5,790.1 L37.0,790.1 L37.5,790.0 L38.0,790.0 L38.5,789.9 L39.0,789.8 L39.5,789.6 L40.0,789.4 L40.5,789.1 L41.0,788.8 L41.5,788.5 L42.0,788.1 L42.5,787.6 L43.0,786.9 L43.5,786.1 L44.0,785.2 L44.5,784.2 L45.0,783.3 L45.5,782.3 L46.0,781.5 L46.5,780.7 L47.0,779.9 L47.5,779.0 L48.0,778.2 L48.5,777.5 L49.0,776.8 L49.5,776.2 L50.0,775.7 L50.5,775.3 L51.0,775.0 L51.5,774.8 L52.0,774.6 L52.5,774.3 L53.0,774.1 L53.5,773.8 L54.0,773.5 L54.5,773.0 L55.0,772.4 L55.5,771.8 L56.0,771.2 L56.5,770.8 L57.0,770.6 L57.5,770.7 L58.0,771.1 L58.5,771.7 L59.0,772.4 L59.5,773.3 L60.0,774.3 L60.5,776.1 L61.0,779.0 L61.5,781.8 L62.0,783.7 L62.5,784.7 L63.0,785.6 L63.5,786.2 L64.0,786.6 L64.5,786.8 L65.0,786.9 L65.5,787.1 L66.0,787.2 L66.5,787.3 L67.0,787.4 L67.5,787.5 L68.0,787.5 L68.5,787.6 L69.0,787.6 L69.5,787.7 L70.0,787.7 L70.5,787.7 L71.0,787.8 L71.5,787.8 L72.0,787.8 L72.5,787.8 L73.0,787.9 L73.5,787.9 L74.0,787.9 L74.5,787.9 L75.0,787.9 L75.5,788.0 L76.0,788.0 L76.5,788.0 L77.0,788.0 L77.5,788.0 L78.0,788.0 L78.5,788.1 L79.0,788.1 L79.5,788.1 L80.0,788.1 L80.5,788.1 L81.0,788.1 L81.5,788.1 L82.0,788.2 L82.5,788.2 L83.0,788.2 L83.5,788.2 L84.0,788.2 L84.5,788.2 L85.0,788.2 L85.5,788.2 L86.0,788.2 L86.5,788.3 L87.0,788.3 L87.5,788.3 L88.0,788.3 L88.5,788.3 L89.0,788.3 L89.5,788.3 L90.0,788.3 L90.5,788.3 L91.0,788.3 L91.5,788.3 L92.0,788.3 L92.5,788.4 L93.0,788.4 L93.5,788.4 L94.0,788.4 L94.5,788.4 L95.0,788.4 L95.5,788.4 L96.0,788.4 L96.5,788.4 L97.0,788.4 L97.5,788.4 L98.0,788.5 L98.5,788.5 L99.0,788.5 L99.5,788.5 L100.0,788.5 L100.5,788.5 L101.0,788.5 L101.5,788.5 L102.0,788.5 L102.5,788.5 L103.0,788.6 L103.5,788.6 L104.0,788.6 L104.5,788.6 L105.0,788.6 L105.5,788.6 L106.0,788.6 L106.5,788.6 L107.0,788.6 L107.5,788.6 L108.0,788.6 L108.5,788.7 L109.0,788.7 L109.5,788.7 L110.0,788.7 L110.5,788.7 L111.0,788.7 L111.5,788.7 L112.0,788.7 L112.5,788.7 L113.0,788.7 L113.5,788.7 L114.0,788.7 L114.5,788.8 L115.0,788.8 L115.5,788.8 L116.0,788.8 L116.5,788.8 L117.0,788.8 L117.5,788.8 L118.0,788.8 L118.5,788.8 L119.0,788.8 L119.5,788.8 L120.0,788.8 L120.5,788.8 L121.0,788.9 L121.5,788.9 L122.0,788.9 L122.5,788.9 L123.0,788.9 L123.5,788.9 L124.0,788.9 L124.5,788.9 L125.0,788.9 L125.5,788.9 L126.0,788.9 L126.5,788.9 L127.0,788.9 L127.5,788.9 L128.0,788.9 L128.5,788.9 L129.0,788.9 L129.5,789.0 L130.0,789.0 L130.5,789.0 L131.0,789.0 L131.5,789.0 L132.0,789.0 L132.5,789.0 L133.0,789.0 L133.5,789.0 L134.0,789.0 L134.5,789.0 L135.0,789.0 L135.5,789.0 L136.0,789.0 L136.5,789.0 L137.0,789.0 L137.5,789.0 L138.0,789.0 L138.5,789.0 L139.0,789.0 L139.5,789.0 L140.0,789.0 L140.5,789.0 L141.0,789.0 L141.5,789.0 L142.0,788.9 L142.5,788.9 L143.0,788.8 L143.5,788.8 L144.0,788.7 L144.5,788.6 L145.0,788.6 L145.5,788.5 L146.0,788.4 L146.5,788.3 L147.0,788.2 L147.5,788.1 L148.0,788.0 L148.5,787.9 L149.0,787.8 L149.5,787.6 L150.0,787.5 L150.5,787.4 L151.0,787.3 L151.5,787.2 L152.0,787.0 L152.5,786.9 L153.0,786.8 L153.5,786.7 L154.0,786.5 L154.5,786.4 L155.0,786.3 L155.5,786.2 L156.0,786.1 L156.5,786.0 L157.0,785.9 L157.5,785.7 L158.0,785.6 L158.5,785.6 L159.0,785.5 L159.5,785.4 L160.0,785.3 L160.5,785.2 L161.0,785.1 L161.5,785.1 L162.0,785.0 L162.5,784.9 L163.0,784.8 L163.5,784.7 L164.0,784.6 L164.5,784.6 L165.0,784.5 L165.5,784.4 L166.0,784.3 L166.5,784.2 L167.0,784.1 L167.5,784.0 L168.0,784.0 L168.5,783.9 L169.0,783.8 L169.5,783.7 L170.0,783.7 L170.5,783.6 L171.0,783.5 L171.5,783.5 L172.0,783.4 L172.5,783.3 L173.0,783.3 L173.5,783.3 L174.0,783.2 L174.5,783.2 L175.0,783.2 L175.5,783.1 L176.0,783.1 L176.5,783.1 L177.0,783.1 L177.5,783.1 L178.0,783.1 L178.5,783.2 L179.0,783.2 L179.5,783.2 L180.0,783.3 L180.5,783.4 L181.0,783.4 L181.5,783.5 L182.0,783.6 L182.5,783.7 L183.0,783.7 L183.5,783.8 L184.0,783.9 L184.5,784.0 L185.0,784.1 L185.5,784.2 L186.0,784.2 L186.5,784.3 L187.0,784.4 L187.5,784.4 L188.0,784.5 L188.5,784.5 L189.0,784.6 L189.5,784.6 L190.0,784.6 L190.5,784.6 L191.0,784.6 L191.5,784.6 L192.0,784.6 L192.5,784.6 L193.0,784.6 L193.5,784.6 L194.0,784.6 L194.5,784.6 L195.0,784.6 L195.5,784.6 L196.0,784.7 L196.5,784.7 L197.0,784.7 L197.5,784.7 L198.0,784.7 L198.5,784.7 L199.0,784.7 L199.5,784.7 L200.0,784.7 L200.5,784.7 L201.0,784.7 L201.5,784.7 L202.0,784.7 L202.5,784.7 L203.0,784.7 L203.5,784.7 L204.0,784.7 L204.5,784.7 L205.0,784.7 L205.5,784.7 L206.0,784.7 L206.5,784.7 L207.0,784.7 L207.5,784.7 L208.0,784.7 L208.5,784.7 L209.0,784.7 L209.5,784.7 L210.0,784.7 L210.5,784.7 L211.0,784.7 L211.5,784.6 L212.0,784.5 L212.5,784.5 L213.0,784.4 L213.5,784.2 L214.0,784.1 L214.5,784.0 L215.0,783.8 L215.5,783.7 L216.0,783.5 L216.5,783.3 L217.0,783.1 L217.5,782.9 L218.0,782.7 L218.5,782.5 L219.0,782.3 L219.5,782.0 L220.0,781.8 L220.5,781.5 L221.0,781.2 L221.5,780.9 L222.0,780.5 L222.5,780.0 L223.0,779.5 L223.5,779.0 L224.0,778.5 L224.5,778.0 L225.0,777.5 L225.5,776.9 L226.0,776.2 L226.5,775.5 L227.0,774.7 L227.5,773.9 L228.0,773.1 L228.5,772.4 L229.0,771.8 L229.5,771.3 L230.0,770.9 L230.5,770.6 L231.0,770.4 L231.5,770.1 L232.0,770.0 L232.5,769.8 L233.0,769.8 L233.5,769.9 L234.0,770.1 L234.5,770.5 L235.0,770.9 L235.5,771.3 L236.0,771.7 L236.5,771.9 L237.0,772.0 L237.5,772.0 L238.0,772.0 L238.5,772.0 L239.0,772.0 L239.5,772.0 L240.0,772.0 L240.5,772.0 L241.0,772.0 L241.5,772.1 L242.0,772.4 L242.5,772.9 L243.0,773.5 L243.5,774.1 L244.0,774.7 L244.5,775.4 L245.0,775.9 L245.5,776.4 L246.0,776.9 L246.5,777.5 L247.0,778.0 L247.5,778.6 L248.0,779.1 L248.5,779.6 L249.0,780.0 L249.5,780.4 L250.0,780.7 L250.5,781.0 L251.0,781.2 L251.5,781.5 L252.0,781.7 L252.5,781.9 L253.0,782.1 L253.5,782.3 L254.0,782.4 L254.5,782.5 L255.0,782.5 L255.5,782.5 L256.0,782.5 L256.5,782.5 L257.0,782.5 L257.5,782.4 L258.0,782.4 L258.5,782.4 L259.0,782.4 L259.5,782.3 L260.0,782.3 L260.5,782.3 L261.0,782.2 L261.5,782.2 L262.0,782.1 L262.5,782.1 L263.0,782.0 L263.5,782.0 L264.0,781.9 L264.5,781.9 L265.0,781.8 L265.5,781.7 L266.0,781.6 L266.5,781.4 L267.0,781.2 L267.5,781.0 L268.0,780.8 L268.5,780.5 L269.0,780.2 L269.5,779.9 L270.0,779.6 L270.5,779.3 L271.0,778.9 L271.5,778.6 L272.0,778.3 L272.5,777.9 L273.0,777.6 L273.5,777.3 L274.0,777.0 L274.5,776.7 L275.0,776.4 L275.5,776.1 L276.0,775.8 L276.5,775.4 L277.0,775.1 L277.5,774.8 L278.0,774.5 L278.5,774.2 L279.0,774.0 L279.5,773.8 L280.0,773.8 L280.5,773.9 L281.0,774.1 L281.5,774.4 L282.0,774.9 L282.5,775.3 L283.0,775.7 L283.5,776.2 L284.0,776.5 L284.5,776.7 L285.0,776.8 L285.5,776.7 L286.0,776.5 L286.5,776.2 L287.0,775.8 L287.5,775.3 L288.0,774.9 L288.5,774.4 L289.0,773.9 L289.5,773.5 L290.0,773.1 L290.5,772.8 L291.0,772.4 L291.5,772.1 L292.0,771.7 L292.5,771.3 L293.0,771.0 L293.5,770.6 L294.0,770.3 L294.5,769.9 L295.0,769.6 L295.5,769.4 L296.0,769.1 L296.5,769.0 L297.0,768.8 L297.5,768.7 L298.0,768.7 L298.5,769.0 L299.0,769.8 L299.5,770.9 L300.0,772.0 L300.5,772.8 L301.0,773.1 L301.5,773.0 L302.0,772.7 L302.5,772.2 L303.0,771.7 L303.5,771.2 L304.0,770.7 L304.5,770.4 L305.0,770.3 L305.5,770.4 L306.0,770.6 L306.5,770.9 L307.0,771.3 L307.5,771.8 L308.0,772.3 L308.5,772.8 L309.0,773.3 L309.5,773.8 L310.0,774.3 L310.5,774.7 L311.0,775.0 L311.5,775.2 L312.0,775.3 L312.5,775.2 L313.0,775.1 L313.5,774.8 L314.0,774.5 L314.5,774.1 L315.0,773.7 L315.5,773.1 L316.0,772.6 L316.5,772.0 L317.0,771.3 L317.5,770.7 L318.0,770.1 L318.5,769.4 L319.0,768.8 L319.5,768.2 L320.0,767.6 L320.5,767.0 L321.0,766.4 L321.5,765.7 L322.0,765.0 L322.5,764.3 L323.0,763.6 L323.5,762.9 L324.0,762.2 L324.5,761.6 L325.0,761.1 L325.5,760.6 L326.0,760.1 L326.5,759.5 L327.0,759.0 L327.5,758.5 L328.0,758.0 L328.5,757.5 L329.0,757.0 L329.5,756.6 L330.0,756.3 L330.5,756.0 L331.0,755.8 L331.5,755.6 L332.0,755.6 L332.5,756.0 L333.0,757.1 L333.5,758.6 L334.0,760.1 L334.5,761.4 L335.0,762.2 L335.5,762.6 L336.0,762.8 L336.5,763.0 L337.0,763.2 L337.5,763.4 L338.0,763.7 L338.5,764.0 L339.0,764.3 L339.5,764.5 L340.0,764.8 L340.5,765.2 L341.0,765.6 L341.5,766.0 L342.0,766.5 L342.5,767.2 L343.0,768.3 L343.5,769.5 L344.0,770.8 L344.5,772.1 L345.0,773.1 L345.5,774.0 L346.0,774.9 L346.5,775.7 L347.0,776.6 L347.5,777.4 L348.0,778.1 L348.5,778.8 L349.0,779.4 L349.5,779.9 L350.0,780.3 L350.5,780.6 L351.0,781.0 L351.5,781.3 L352.0,781.6 L352.5,781.8 L353.0,782.0 L353.5,782.2 L354.0,782.4 L354.5,782.5 L355.0,782.5 L355.5,782.5 L356.0,782.5 L356.5,782.4 L357.0,782.4 L357.5,782.3 L358.0,782.2 L358.5,782.1 L359.0,782.0 L359.5,781.9 L360.0,781.8 L360.5,781.7 L361.0,781.4 L361.5,781.2 L362.0,780.9 L362.5,780.6 L363.0,780.3 L363.5,780.0 L364.0,779.8 L364.5,779.7 L365.0,779.6 L365.5,779.6 L366.0,779.7 L366.5,779.9 L367.0,780.0 L367.5,780.2 L368.0,780.4 L368.5,780.6 L369.0,780.8 L369.5,781.0 L370.0,781.2 L370.5,781.4 L371.0,781.5 L371.5,781.6 L372.0,781.8 L372.5,781.9 L373.0,782.1 L373.5,782.2 L374.0,782.4 L374.5,782.5 L375.0,782.7 L375.5,782.8 L376.0,783.0 L376.5,783.1 L377.0,783.2 L377.5,783.4 L378.0,783.5 L378.5,783.6 L379.0,783.8 L379.5,783.9 L380.0,784.0 L380.5,784.1 L381.0,784.3 L381.5,784.4 L382.0,784.6 L382.5,784.7 L383.0,784.8 L383.5,784.9 L384.0,785.0 L384.5,785.1 L385.0,785.1 L385.5,785.0 L386.0,784.8 L386.5,784.4 L387.0,783.9 L387.5,783.5 L388.0,783.0 L388.5,782.5 L389.0,782.1 L389.5,781.9 L390.0,781.8 L390.5,781.8 L391.0,781.8 L391.5,781.8 L392.0,781.9 L392.5,781.9 L393.0,781.9 L393.5,782.0 L394.0,782.0 L394.5,782.1 L395.0,782.1 L395.5,782.2 L396.0,782.2 L396.5,782.3 L397.0,782.3 L397.5,782.3 L398.0,782.4 L398.5,782.4 L399.0,782.5 L399.5,782.5 L400.0,782.5 L400.5,782.5 L401.0,782.5 L401.5,782.5 L402.0,782.6 L402.5,782.6 L403.0,782.6 L403.5,782.6 L404.0,782.6 L404.5,782.6 L405.0,782.7 L405.5,782.7 L406.0,782.7 L406.5,782.7 L407.0,782.7 L407.5,782.7 L408.0,782.7 L408.5,782.7 L409.0,782.8 L409.5,782.8 L410.0,782.8 L410.5,782.8 L411.0,782.8 L411.5,782.8 L412.0,782.8 L412.5,782.8 L413.0,782.8 L413.5,782.8 L414.0,782.9 L414.5,782.9 L415.0,782.9 L415.5,782.9 L416.0,782.9 L416.5,782.9 L417.0,782.9 L417.5,782.9 L418.0,782.9 L418.5,782.9 L419.0,782.9 L419.5,782.9 L420.0,782.9 L420.5,782.9 L421.0,782.8 L421.5,782.8 L422.0,782.7 L422.5,782.6 L423.0,782.5 L423.5,782.3 L424.0,782.2 L424.5,782.0 L425.0,781.9 L425.5,781.7 L426.0,781.5 L426.5,781.4 L427.0,781.2 L427.5,781.0 L428.0,780.9 L428.5,780.7 L429.0,780.6 L429.5,780.5 L430.0,780.4 L430.5,780.3 L431.0,780.2 L431.5,780.2 L432.0,780.1 L432.5,780.1 L433.0,780.0 L433.5,780.0 L434.0,779.9 L434.5,779.9 L435.0,779.8 L435.5,779.8 L436.0,779.7 L436.5,779.7 L437.0,779.6 L437.5,779.6 L438.0,779.5 L438.5,779.4 L439.0,779.3 L439.5,779.1 L440.0,779.0 L440.5,778.7 L441.0,778.2 L441.5,777.6 L442.0,776.8 L442.5,775.9 L443.0,775.0 L443.5,773.7 L444.0,771.8 L444.5,769.8 L445.0,767.9 L445.5,766.5 L446.0,766.0 L446.5,766.2 L447.0,766.7 L447.5,767.4 L448.0,768.3 L448.5,769.2 L449.0,770.0 L449.5,770.9 L450.0,771.9 L450.5,773.0 L451.0,774.0 L451.5,774.7 L452.0,775.0 L452.5,775.0 L453.0,775.1 L453.5,775.1 L454.0,775.2 L454.5,775.2 L455.0,775.2 L455.5,775.3 L456.0,775.3 L456.5,775.3 L457.0,775.3 L457.5,775.4 L458.0,775.4 L458.5,775.4 L459.0,775.4 L459.5,775.4 L460.0,775.5 L460.5,775.5 L461.0,775.5 L461.5,775.5 L462.0,775.5 L462.5,775.5 L463.0,775.5 L463.5,775.5 L464.0,775.6 L464.5,775.6 L465.0,775.6 L465.5,775.6 L466.0,775.6 L466.5,775.6 L467.0,775.6 L467.5,775.6 L468.0,775.6 L468.5,775.6 L469.0,775.6 L469.5,775.6 L470.0,775.6 L470.5,775.6 L471.0,775.6 L471.5,775.6 L472.0,775.6 L472.5,775.6 L473.0,775.5 L473.5,775.5 L474.0,775.5 L474.5,775.5 L475.0,775.5 L475.5,775.4 L476.0,775.4 L476.5,775.4 L477.0,775.3 L477.5,775.3 L478.0,775.2 L478.5,775.2 L479.0,775.2 L479.5,775.1 L480.0,775.1 L480.5,775.0 L481.0,775.0 L481.5,774.9 L482.0,774.9 L482.5,774.8 L483.0,774.8 L483.5,774.7 L484.0,774.7 L484.5,774.6 L485.0,774.6 L485.5,774.5 L486.0,774.4 L486.5,774.4 L487.0,774.3 L487.5,774.3 L488.0,774.2 L488.5,774.2 L489.0,774.1 L489.5,774.1 L490.0,774.0 L490.5,773.9 L491.0,773.9 L491.5,773.8 L492.0,773.8 L492.5,773.7 L493.0,773.6 L493.5,773.6 L494.0,773.5 L494.5,773.4 L495.0,773.4 L495.5,773.3 L496.0,773.2 L496.5,773.1 L497.0,773.0 L497.5,772.9 L498.0,772.8 L498.5,772.7 L499.0,772.6 L499.5,772.5 L500.0,772.4 L500.5,772.3 L501.0,772.1 L501.5,771.9 L502.0,771.6 L502.5,771.3 L503.0,771.1 L503.5,770.8 L504.0,770.5 L504.5,770.3 L505.0,770.1 L505.5,769.9 L506.0,769.7 L506.5,769.6 L507.0,769.6 L507.5,769.6 L508.0,769.7 L508.5,769.8 L509.0,769.9 L509.5,770.1 L510.0,770.2 L510.5,770.4 L511.0,770.6 L511.5,770.8 L512.0,771.0 L512.5,771.1 L513.0,771.3 L513.5,771.4 L514.0,771.5 L514.5,771.6 L515.0,771.6 L515.5,771.6 L516.0,771.6 L516.5,771.5 L517.0,771.5 L517.5,771.4 L518.0,771.4 L518.5,771.3 L519.0,771.2 L519.5,771.1 L520.0,771.0 L520.5,770.9 L521.0,770.8 L521.5,770.7 L522.0,770.6 L522.5,770.5 L523.0,770.4 L523.5,770.3 L524.0,770.2 L524.5,770.2 L525.0,770.1 L525.5,770.1 L526.0,770.0 L526.5,770.0 L527.0,770.0 L527.5,770.1 L528.0,770.2 L528.5,770.4 L529.0,770.7 L529.5,771.0 L530.0,771.3 L530.5,771.6 L531.0,771.8 L531.5,771.9 L532.0,772.0 L532.5,771.9 L533.0,771.8 L533.5,771.5 L534.0,771.2 L534.5,770.9 L535.0,770.5 L535.5,770.1 L536.0,769.7 L536.5,769.3 L537.0,769.0" stroke="#B07A12" stroke-width="2.0" fill="none" stroke-linejoin="round" stroke-linecap="round"/>
<path d="M24.0,818.2 L24.5,818.2 L25.0,818.2 L25.5,818.1 L26.0,818.1 L26.5,818.1 L27.0,818.1 L27.5,818.1 L28.0,818.1 L28.5,818.1 L29.0,818.0 L29.5,818.0 L30.0,818.0 L30.5,818.0 L31.0,818.0 L31.5,818.0 L32.0,818.0 L32.5,817.9 L33.0,817.9 L33.5,817.9 L34.0,817.9 L34.5,817.8 L35.0,817.8 L35.5,817.8 L36.0,817.8 L36.5,817.7 L37.0,817.7 L37.5,817.6 L38.0,817.6 L38.5,817.5 L39.0,817.4 L39.5,817.2 L40.0,817.0 L40.5,816.7 L41.0,816.4 L41.5,816.1 L42.0,815.7 L42.5,815.2 L43.0,814.5 L43.5,813.6 L44.0,812.5 L44.5,811.5 L45.0,810.4 L45.5,809.4 L46.0,808.5 L46.5,807.7 L47.0,806.8 L47.5,806.0 L48.0,805.1 L48.5,804.4 L49.0,803.7 L49.5,803.1 L50.0,802.6 L50.5,802.3 L51.0,802.0 L51.5,801.7 L52.0,801.5 L52.5,801.3 L53.0,801.1 L53.5,800.8 L54.0,800.5 L54.5,800.0 L55.0,799.4 L55.5,798.6 L56.0,798.0 L56.5,797.5 L57.0,797.3 L57.5,797.4 L58.0,797.8 L58.5,798.5 L59.0,799.2 L59.5,800.2 L60.0,801.2 L60.5,803.0 L61.0,805.8 L61.5,808.6 L62.0,810.6 L62.5,811.9 L63.0,813.0 L63.5,813.9 L64.0,814.3 L64.5,814.4 L65.0,814.5 L65.5,814.6 L66.0,814.7 L66.5,814.7 L67.0,814.8 L67.5,814.8 L68.0,814.9 L68.5,814.9 L69.0,814.9 L69.5,815.0 L70.0,815.0 L70.5,815.0 L71.0,815.1 L71.5,815.1 L72.0,815.2 L72.5,815.2 L73.0,815.3 L73.5,815.3 L74.0,815.4 L74.5,815.4 L75.0,815.5 L75.5,815.5 L76.0,815.6 L76.5,815.6 L77.0,815.7 L77.5,815.7 L78.0,815.7 L78.5,815.8 L79.0,815.8 L79.5,815.9 L80.0,815.9 L80.5,816.0 L81.0,816.0 L81.5,816.1 L82.0,816.1 L82.5,816.1 L83.0,816.2 L83.5,816.2 L84.0,816.2 L84.5,816.3 L85.0,816.3 L85.5,816.4 L86.0,816.4 L86.5,816.4 L87.0,816.4 L87.5,816.5 L88.0,816.5 L88.5,816.5 L89.0,816.6 L89.5,816.6 L90.0,816.6 L90.5,816.6 L91.0,816.6 L91.5,816.6 L92.0,816.7 L92.5,816.7 L93.0,816.7 L93.5,816.7 L94.0,816.7 L94.5,816.7 L95.0,816.7 L95.5,816.7 L96.0,816.7 L96.5,816.7 L97.0,816.7 L97.5,816.7 L98.0,816.7 L98.5,816.7 L99.0,816.7 L99.5,816.7 L100.0,816.7 L100.5,816.7 L101.0,816.7 L101.5,816.7 L102.0,816.7 L102.5,816.7 L103.0,816.7 L103.5,816.7 L104.0,816.7 L104.5,816.7 L105.0,816.7 L105.5,816.7 L106.0,816.7 L106.5,816.7 L107.0,816.7 L107.5,816.7 L108.0,816.7 L108.5,816.7 L109.0,816.7 L109.5,816.7 L110.0,816.7 L110.5,816.7 L111.0,816.7 L111.5,816.7 L112.0,816.7 L112.5,816.7 L113.0,816.7 L113.5,816.7 L114.0,816.7 L114.5,816.7 L115.0,816.7 L115.5,816.7 L116.0,816.7 L116.5,816.7 L117.0,816.7 L117.5,816.7 L118.0,816.7 L118.5,816.7 L119.0,816.7 L119.5,816.7 L120.0,816.7 L120.5,816.7 L121.0,816.7 L121.5,816.7 L122.0,816.7 L122.5,816.7 L123.0,816.7 L123.5,816.7 L124.0,816.7 L124.5,816.7 L125.0,816.7 L125.5,816.7 L126.0,816.7 L126.5,816.7 L127.0,816.7 L127.5,816.7 L128.0,816.7 L128.5,816.7 L129.0,816.7 L129.5,816.7 L130.0,816.7 L130.5,816.7 L131.0,816.7 L131.5,816.7 L132.0,816.7 L132.5,816.7 L133.0,816.7 L133.5,816.7 L134.0,816.7 L134.5,816.7 L135.0,816.7 L135.5,816.7 L136.0,816.7 L136.5,816.7 L137.0,816.7 L137.5,816.7 L138.0,816.7 L138.5,816.7 L139.0,816.7 L139.5,816.7 L140.0,816.7 L140.5,816.7 L141.0,816.7 L141.5,816.6 L142.0,816.6 L142.5,816.5 L143.0,816.4 L143.5,816.4 L144.0,816.3 L144.5,816.1 L145.0,816.0 L145.5,815.9 L146.0,815.8 L146.5,815.6 L147.0,815.5 L147.5,815.3 L148.0,815.2 L148.5,815.0 L149.0,814.9 L149.5,814.7 L150.0,814.5 L150.5,814.4 L151.0,814.2 L151.5,814.1 L152.0,813.9 L152.5,813.8 L153.0,813.6 L153.5,813.5 L154.0,813.3 L154.5,813.2 L155.0,813.1 L155.5,813.0 L156.0,812.8 L156.5,812.7 L157.0,812.7 L157.5,812.6 L158.0,812.5 L158.5,812.5 L159.0,812.4 L159.5,812.4 L160.0,812.4 L160.5,812.4 L161.0,812.4 L161.5,812.4 L162.0,812.4 L162.5,812.4 L163.0,812.4 L163.5,812.4 L164.0,812.4 L164.5,812.4 L165.0,812.4 L165.5,812.4 L166.0,812.4 L166.5,812.4 L167.0,812.4 L167.5,812.4 L168.0,812.4 L168.5,812.4 L169.0,812.4 L169.5,812.4 L170.0,812.4 L170.5,812.4 L171.0,812.3 L171.5,812.1 L172.0,812.0 L172.5,811.8 L173.0,811.5 L173.5,811.3 L174.0,811.1 L174.5,810.8 L175.0,810.6 L175.5,810.5 L176.0,810.3 L176.5,810.2 L177.0,810.2 L177.5,810.2 L178.0,810.2 L178.5,810.3 L179.0,810.3 L179.5,810.4 L180.0,810.4 L180.5,810.5 L181.0,810.6 L181.5,810.7 L182.0,810.8 L182.5,810.9 L183.0,811.0 L183.5,811.0 L184.0,811.1 L184.5,811.2 L185.0,811.3 L185.5,811.4 L186.0,811.5 L186.5,811.6 L187.0,811.7 L187.5,811.7 L188.0,811.8 L188.5,811.8 L189.0,811.9 L189.5,811.9 L190.0,811.9 L190.5,811.9 L191.0,811.9 L191.5,811.9 L192.0,811.9 L192.5,811.9 L193.0,811.9 L193.5,811.9 L194.0,811.9 L194.5,811.9 L195.0,811.9 L195.5,811.9 L196.0,811.9 L196.5,811.9 L197.0,811.9 L197.5,811.9 L198.0,811.9 L198.5,811.9 L199.0,811.9 L199.5,811.9 L200.0,811.9 L200.5,811.8 L201.0,811.8 L201.5,811.8 L202.0,811.8 L202.5,811.8 L203.0,811.8 L203.5,811.8 L204.0,811.8 L204.5,811.8 L205.0,811.8 L205.5,811.8 L206.0,811.8 L206.5,811.8 L207.0,811.8 L207.5,811.7 L208.0,811.7 L208.5,811.7 L209.0,811.7 L209.5,811.7 L210.0,811.7 L210.5,811.7 L211.0,811.6 L211.5,811.6 L212.0,811.5 L212.5,811.5 L213.0,811.4 L213.5,811.3 L214.0,811.2 L214.5,811.1 L215.0,810.9 L215.5,810.8 L216.0,810.6 L216.5,810.5 L217.0,810.3 L217.5,810.1 L218.0,809.9 L218.5,809.7 L219.0,809.5 L219.5,809.3 L220.0,809.1 L220.5,808.8 L221.0,808.5 L221.5,808.1 L222.0,807.6 L222.5,807.1 L223.0,806.6 L223.5,806.0 L224.0,805.4 L224.5,804.8 L225.0,804.3 L225.5,803.7 L226.0,803.0 L226.5,802.3 L227.0,801.5 L227.5,800.7 L228.0,800.0 L228.5,799.3 L229.0,798.8 L229.5,798.4 L230.0,798.2 L230.5,798.1 L231.0,798.0 L231.5,797.9 L232.0,797.9 L232.5,797.8 L233.0,797.8 L233.5,797.8 L234.0,797.9 L234.5,798.0 L235.0,798.1 L235.5,798.2 L236.0,798.4 L236.5,798.5 L237.0,798.6 L237.5,798.7 L238.0,798.8 L238.5,798.8 L239.0,798.9 L239.5,799.0 L240.0,799.1 L240.5,799.2 L241.0,799.3 L241.5,799.5 L242.0,799.8 L242.5,800.2 L243.0,800.7 L243.5,801.1 L244.0,801.6 L244.5,802.1 L245.0,802.6 L245.5,803.1 L246.0,803.6 L246.5,804.1 L247.0,804.7 L247.5,805.2 L248.0,805.8 L248.5,806.3 L249.0,806.7 L249.5,807.1 L250.0,807.4 L250.5,807.7 L251.0,807.9 L251.5,808.1 L252.0,808.4 L252.5,808.6 L253.0,808.7 L253.5,808.9 L254.0,809.0 L254.5,809.1 L255.0,809.1 L255.5,809.1 L256.0,809.1 L256.5,809.1 L257.0,809.1 L257.5,809.1 L258.0,809.1 L258.5,809.0 L259.0,809.0 L259.5,809.0 L260.0,809.0 L260.5,809.0 L261.0,808.9 L261.5,808.9 L262.0,808.9 L262.5,808.9 L263.0,808.8 L263.5,808.8 L264.0,808.8 L264.5,808.7 L265.0,808.7 L265.5,808.6 L266.0,808.5 L266.5,808.3 L267.0,808.1 L267.5,807.9 L268.0,807.6 L268.5,807.3 L269.0,806.9 L269.5,806.6 L270.0,806.2 L270.5,805.8 L271.0,805.4 L271.5,805.0 L272.0,804.6 L272.5,804.2 L273.0,803.9 L273.5,803.5 L274.0,803.2 L274.5,802.9 L275.0,802.6 L275.5,802.3 L276.0,802.0 L276.5,801.8 L277.0,801.5 L277.5,801.2 L278.0,800.9 L278.5,800.7 L279.0,800.5 L279.5,800.4 L280.0,800.4 L280.5,800.5 L281.0,800.7 L281.5,801.1 L282.0,801.5 L282.5,802.0 L283.0,802.5 L283.5,802.9 L284.0,803.3 L284.5,803.5 L285.0,803.6 L285.5,803.5 L286.0,803.3 L286.5,802.9 L287.0,802.4 L287.5,801.9 L288.0,801.3 L288.5,800.7 L289.0,800.2 L289.5,799.7 L290.0,799.3 L290.5,799.0 L291.0,798.6 L291.5,798.2 L292.0,797.8 L292.5,797.5 L293.0,797.1 L293.5,796.8 L294.0,796.4 L294.5,796.1 L295.0,795.8 L295.5,795.6 L296.0,795.3 L296.5,795.2 L297.0,795.0 L297.5,794.9 L298.0,794.9 L298.5,795.3 L299.0,796.2 L299.5,797.4 L300.0,798.6 L300.5,799.5 L301.0,799.9 L301.5,799.8 L302.0,799.5 L302.5,799.0 L303.0,798.5 L303.5,798.0 L304.0,797.5 L304.5,797.2 L305.0,797.1 L305.5,797.2 L306.0,797.3 L306.5,797.6 L307.0,798.0 L307.5,798.4 L308.0,798.8 L308.5,799.3 L309.0,799.8 L309.5,800.2 L310.0,800.6 L310.5,801.0 L311.0,801.3 L311.5,801.4 L312.0,801.5 L312.5,801.4 L313.0,801.3 L313.5,801.0 L314.0,800.7 L314.5,800.3 L315.0,799.8 L315.5,799.2 L316.0,798.7 L316.5,798.1 L317.0,797.4 L317.5,796.8 L318.0,796.2 L318.5,795.5 L319.0,794.9 L319.5,794.3 L320.0,793.8 L320.5,793.3 L321.0,792.7 L321.5,792.2 L322.0,791.6 L322.5,791.1 L323.0,790.5 L323.5,790.0 L324.0,789.4 L324.5,788.9 L325.0,788.4 L325.5,787.9 L326.0,787.3 L326.5,786.7 L327.0,786.1 L327.5,785.4 L328.0,784.8 L328.5,784.2 L329.0,783.7 L329.5,783.1 L330.0,782.7 L330.5,782.3 L331.0,782.0 L331.5,781.9 L332.0,781.8 L332.5,782.1 L333.0,782.8 L333.5,783.9 L334.0,785.0 L334.5,786.0 L335.0,786.8 L335.5,787.4 L336.0,787.9 L336.5,788.3 L337.0,788.8 L337.5,789.1 L338.0,789.5 L338.5,789.8 L339.0,790.0 L339.5,790.2 L340.0,790.4 L340.5,790.6 L341.0,790.9 L341.5,791.2 L342.0,791.6 L342.5,792.3 L343.0,793.6 L343.5,795.1 L344.0,796.6 L344.5,798.1 L345.0,799.3 L345.5,800.3 L346.0,801.2 L346.5,802.2 L347.0,803.1 L347.5,804.0 L348.0,804.7 L348.5,805.4 L349.0,806.0 L349.5,806.5 L350.0,806.9 L350.5,807.2 L351.0,807.5 L351.5,807.7 L352.0,808.0 L352.5,808.2 L353.0,808.3 L353.5,808.5 L354.0,808.6 L354.5,808.7 L355.0,808.7 L355.5,808.7 L356.0,808.7 L356.5,808.6 L357.0,808.6 L357.5,808.5 L358.0,808.4 L358.5,808.3 L359.0,808.2 L359.5,808.1 L360.0,808.0 L360.5,807.9 L361.0,807.6 L361.5,807.4 L362.0,807.1 L362.5,806.8 L363.0,806.5 L363.5,806.2 L364.0,806.0 L364.5,805.9 L365.0,805.8 L365.5,805.8 L366.0,805.9 L366.5,806.1 L367.0,806.2 L367.5,806.4 L368.0,806.6 L368.5,806.8 L369.0,807.0 L369.5,807.2 L370.0,807.4 L370.5,807.5 L371.0,807.7 L371.5,807.8 L372.0,808.0 L372.5,808.1 L373.0,808.3 L373.5,808.4 L374.0,808.5 L374.5,808.7 L375.0,808.8 L375.5,808.9 L376.0,809.1 L376.5,809.2 L377.0,809.4 L377.5,809.5 L378.0,809.6 L378.5,809.8 L379.0,809.9 L379.5,810.1 L380.0,810.2 L380.5,810.4 L381.0,810.5 L381.5,810.7 L382.0,810.9 L382.5,811.1 L383.0,811.3 L383.5,811.5 L384.0,811.6 L384.5,811.7 L385.0,811.7 L385.5,811.6 L386.0,811.4 L386.5,811.1 L387.0,810.6 L387.5,810.2 L388.0,809.8 L388.5,809.3 L389.0,809.0 L389.5,808.8 L390.0,808.7 L390.5,808.7 L391.0,808.7 L391.5,808.7 L392.0,808.8 L392.5,808.8 L393.0,808.8 L393.5,808.9 L394.0,808.9 L394.5,809.0 L395.0,809.0 L395.5,809.1 L396.0,809.1 L396.5,809.2 L397.0,809.3 L397.5,809.3 L398.0,809.4 L398.5,809.4 L399.0,809.4 L399.5,809.5 L400.0,809.5 L400.5,809.5 L401.0,809.6 L401.5,809.6 L402.0,809.6 L402.5,809.6 L403.0,809.7 L403.5,809.7 L404.0,809.7 L404.5,809.7 L405.0,809.8 L405.5,809.8 L406.0,809.8 L406.5,809.8 L407.0,809.8 L407.5,809.9 L408.0,809.9 L408.5,809.9 L409.0,809.9 L409.5,810.0 L410.0,810.0 L410.5,810.0 L411.0,810.0 L411.5,810.0 L412.0,810.1 L412.5,810.1 L413.0,810.1 L413.5,810.1 L414.0,810.1 L414.5,810.1 L415.0,810.1 L415.5,810.1 L416.0,810.2 L416.5,810.2 L417.0,810.2 L417.5,810.2 L418.0,810.2 L418.5,810.2 L419.0,810.2 L419.5,810.2 L420.0,810.2 L420.5,810.2 L421.0,810.1 L421.5,810.0 L422.0,809.9 L422.5,809.8 L423.0,809.6 L423.5,809.5 L424.0,809.3 L424.5,809.1 L425.0,808.8 L425.5,808.6 L426.0,808.4 L426.5,808.2 L427.0,808.0 L427.5,807.8 L428.0,807.6 L428.5,807.4 L429.0,807.2 L429.5,807.1 L430.0,807.0 L430.5,806.9 L431.0,806.8 L431.5,806.8 L432.0,806.7 L432.5,806.6 L433.0,806.6 L433.5,806.6 L434.0,806.5 L434.5,806.5 L435.0,806.4 L435.5,806.4 L436.0,806.3 L436.5,806.3 L437.0,806.2 L437.5,806.1 L438.0,806.1 L438.5,806.0 L439.0,805.9 L439.5,805.7 L440.0,805.6 L440.5,805.4 L441.0,804.9 L441.5,804.4 L442.0,803.7 L442.5,802.9 L443.0,802.0 L443.5,800.6 L444.0,798.6 L444.5,796.3 L445.0,794.2 L445.5,792.6 L446.0,792.0 L446.5,792.2 L447.0,792.8 L447.5,793.6 L448.0,794.6 L448.5,795.5 L449.0,796.4 L449.5,797.3 L450.0,798.4 L450.5,799.6 L451.0,800.6 L451.5,801.3 L452.0,801.6 L452.5,801.7 L453.0,801.7 L453.5,801.8 L454.0,801.8 L454.5,801.8 L455.0,801.9 L455.5,801.9 L456.0,802.0 L456.5,802.0 L457.0,802.0 L457.5,802.1 L458.0,802.1 L458.5,802.1 L459.0,802.2 L459.5,802.2 L460.0,802.2 L460.5,802.2 L461.0,802.3 L461.5,802.3 L462.0,802.3 L462.5,802.3 L463.0,802.3 L463.5,802.3 L464.0,802.3 L464.5,802.4 L465.0,802.4 L465.5,802.4 L466.0,802.4 L466.5,802.4 L467.0,802.4 L467.5,802.4 L468.0,802.4 L468.5,802.4 L469.0,802.4 L469.5,802.4 L470.0,802.4 L470.5,802.4 L471.0,802.4 L471.5,802.4 L472.0,802.4 L472.5,802.4 L473.0,802.3 L473.5,802.3 L474.0,802.3 L474.5,802.3 L475.0,802.2 L475.5,802.2 L476.0,802.1 L476.5,802.1 L477.0,802.1 L477.5,802.0 L478.0,802.0 L478.5,801.9 L479.0,801.9 L479.5,801.8 L480.0,801.7 L480.5,801.7 L481.0,801.6 L481.5,801.6 L482.0,801.5 L482.5,801.4 L483.0,801.4 L483.5,801.3 L484.0,801.2 L484.5,801.2 L485.0,801.1 L485.5,801.0 L486.0,801.0 L486.5,800.9 L487.0,800.8 L487.5,800.8 L488.0,800.7 L488.5,800.6 L489.0,800.5 L489.5,800.5 L490.0,800.4 L490.5,800.3 L491.0,800.3 L491.5,800.2 L492.0,800.1 L492.5,800.0 L493.0,799.9 L493.5,799.8 L494.0,799.8 L494.5,799.7 L495.0,799.6 L495.5,799.5 L496.0,799.4 L496.5,799.3 L497.0,799.1 L497.5,799.0 L498.0,798.9 L498.5,798.8 L499.0,798.7 L499.5,798.5 L500.0,798.4 L500.5,798.2 L501.0,798.0 L501.5,797.8 L502.0,797.6 L502.5,797.3 L503.0,797.0 L503.5,796.8 L504.0,796.5 L504.5,796.3 L505.0,796.0 L505.5,795.9 L506.0,795.7 L506.5,795.6 L507.0,795.6 L507.5,795.6 L508.0,795.7 L508.5,795.8 L509.0,795.9 L509.5,796.1 L510.0,796.2 L510.5,796.4 L511.0,796.6 L511.5,796.8 L512.0,797.0 L512.5,797.1 L513.0,797.3 L513.5,797.4 L514.0,797.5 L514.5,797.6 L515.0,797.6 L515.5,797.6 L516.0,797.6 L516.5,797.5 L517.0,797.5 L517.5,797.4 L518.0,797.3 L518.5,797.2 L519.0,797.1 L519.5,797.0 L520.0,796.8 L520.5,796.7 L521.0,796.6 L521.5,796.5 L522.0,796.4 L522.5,796.2 L523.0,796.1 L523.5,796.0 L524.0,795.9 L524.5,795.8 L525.0,795.7 L525.5,795.7 L526.0,795.6 L526.5,795.6 L527.0,795.6 L527.5,795.7 L528.0,795.9 L528.5,796.2 L529.0,796.6 L529.5,797.0 L530.0,797.4 L530.5,797.8 L531.0,798.1 L531.5,798.3 L532.0,798.4 L532.5,798.4 L533.0,798.3 L533.5,798.1 L534.0,797.9 L534.5,797.6 L535.0,797.4 L535.5,797.1 L536.0,796.9 L536.5,796.6 L537.0,796.4" stroke="#7A2AC0" stroke-width="2.0" fill="none" stroke-linejoin="round" stroke-linecap="round"/>
<text x="63.6" y="838.4" text-anchor="middle" class="tkb">1700</text>
<text x="182.1" y="838.4" text-anchor="middle" class="tkb">1400</text>
<text x="300.6" y="838.4" text-anchor="middle" class="tkb">1100</text>
<text x="419.1" y="838.4" text-anchor="middle" class="tkb">800</text>
<text x="537.6" y="838.4" text-anchor="middle" class="tkb">500</text>
<text x="244" y="849.8" class="axb">Wavenumbers (cm <tspan font-size="7.5" dx="0" dy="-4">−1</tspan><tspan dx="0.3" dy="4">)</tspan></text>
<text transform="translate(15.3,736) rotate(-90)" class="axb2">Intensity (a.u.)</text>
<text x="44.5" y="587.6" class="lb">C=O carbonyl</text>
<text x="76.4" y="617" class="lb">TPS/PBAT/AP2%/SAP1%</text>
<text x="69.1" y="643.8" class="lb">TPS/PBAT/AP0.5%/SAP0.5%</text>
<text x="88.6" y="672" class="lb">TPS/PBAT/SAP 1%</text>
<text x="88.6" y="697" class="lb">TPS/PBAT/SAP0.5%</text>
<text x="85.6" y="726.8" class="lb">TPS/PBAT/AP3%</text>
<text x="82.6" y="754.8" class="lb">TPS/PBAT/AP1%</text>
<text x="82.6" y="781.5" class="lb">TPS/PBAT/AP0.5%</text>
<text x="97.3" y="809.2" class="lb">TPS/PBAT</text>
<text x="230.9" y="592.2" class="lb">1269</text>
<text x="268" y="608.2" class="lb">1153</text>
<text x="384.2" y="613.3" class="lb">935</text>
<text x="441" y="593.6" class="lb">729</text>
<text x="360.5" y="569.6" text-anchor="middle" class="lb">1018 C–O in</text>
<text x="360.5" y="579.5" text-anchor="middle" class="lb">C–O–C bonds</text>
<line x1="354.8" y1="583.4" x2="340.0" y2="595.1" stroke="#444" stroke-width="0.85" stroke-dasharray="1.6,1.1"/>
<path d="M335.9,598.3 L338.7,593.4 L341.3,596.7 Z" fill="#111"/>
<line x1="348.4" y1="692.2" x2="337.4" y2="702.6" stroke="#444" stroke-width="0.85" stroke-dasharray="1.6,1.1"/>
<path d="M333.6,706.2 L335.9,701.1 L338.8,704.2 Z" fill="#111"/>
<text x="273.7" y="869.1" text-anchor="middle" class="cap">(<tspan font-weight="bold">b</tspan>)</text>
</svg>
</body></html>
